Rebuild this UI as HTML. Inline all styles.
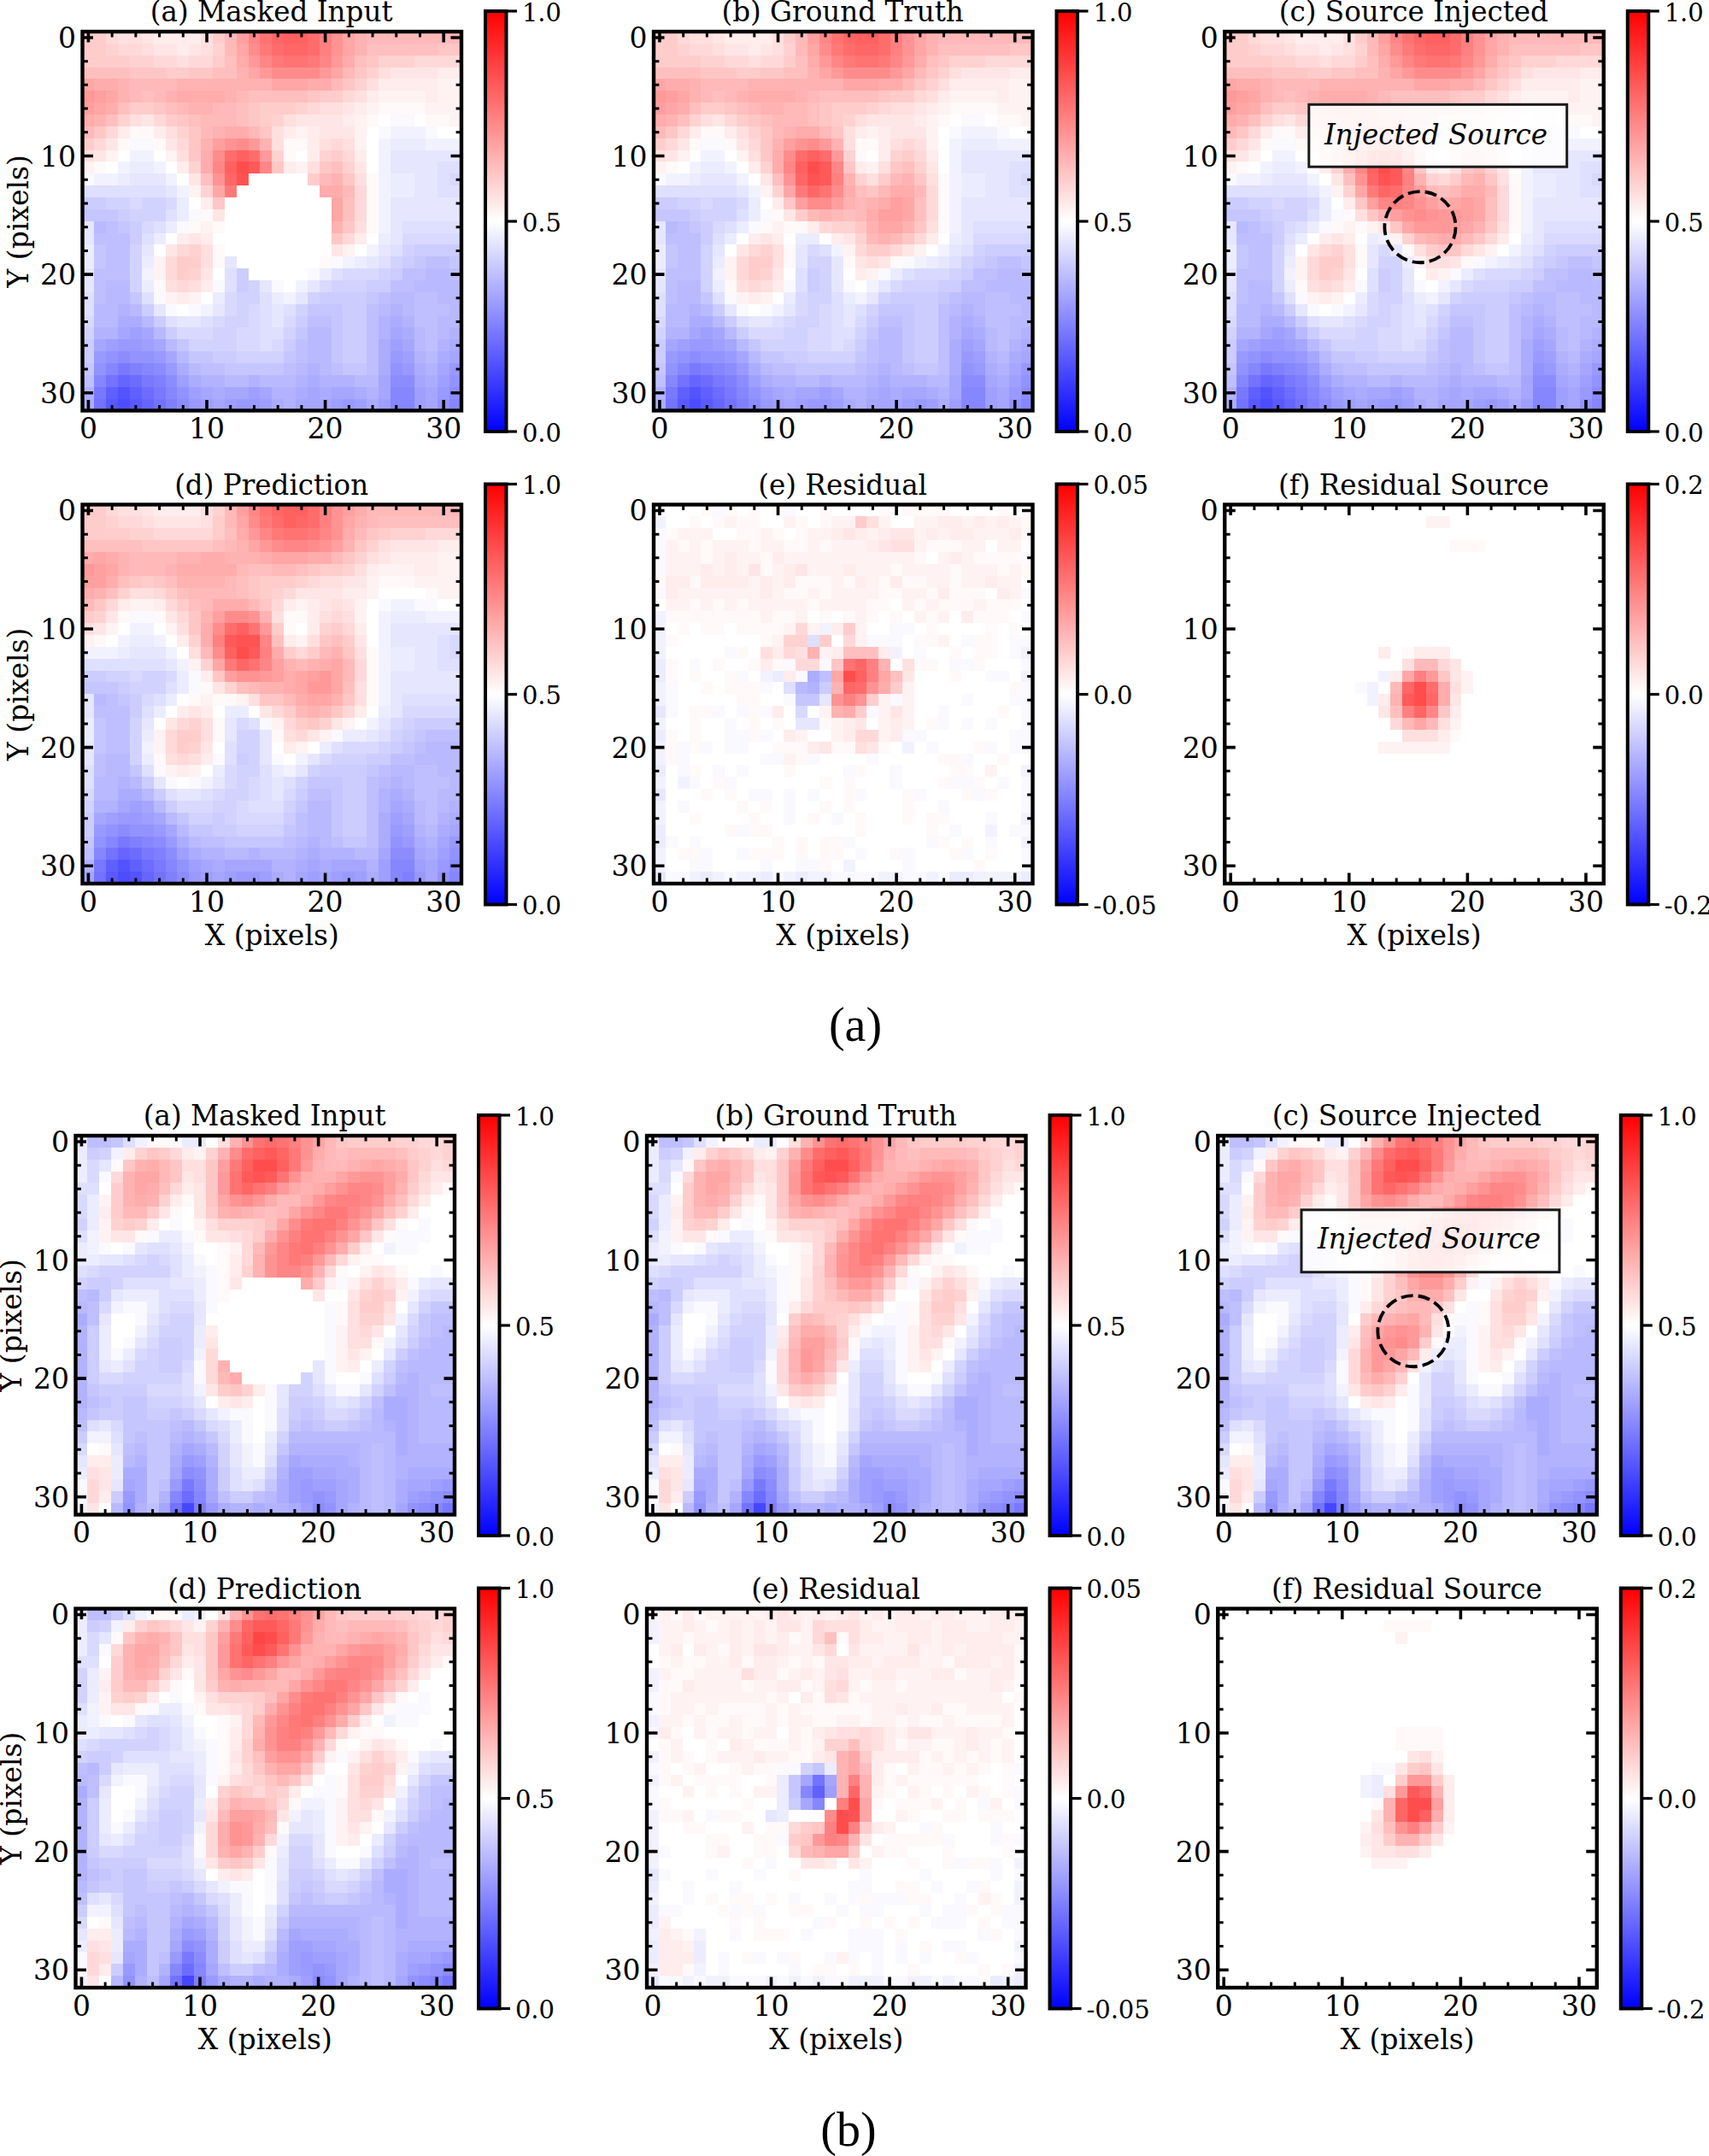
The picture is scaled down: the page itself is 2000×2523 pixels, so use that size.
<!DOCTYPE html>
<html><head><meta charset="utf-8"><title>figure</title>
<style>html,body{margin:0;padding:0;background:#fff}svg{display:block}text{font-family:'DejaVu Serif','Liberation Serif',serif;fill:#000}</style></head><body>
<svg width="2000" height="2523" viewBox="0 0 2000 2523">
<defs><linearGradient id="bwr" x1="0" y1="0" x2="0" y2="1"><stop offset="0" stop-color="#f00"/><stop offset="0.5" stop-color="#fff"/><stop offset="1" stop-color="#00f"/></linearGradient></defs>
<rect width="2000" height="2523" fill="#fff"/>
<svg x="96.50" y="37.00" width="443.50" height="443.50" viewBox="0 0 32 32" preserveAspectRatio="none" shape-rendering="crispEdges"><path fill="#4d4dff" d="M3 31h1v1h-1z"/><path fill="#5353ff" d="M3 30h1v1h-1z"/><path fill="#5959ff" d="M2 31h1v1h-1zM4 31h1v1h-1z"/><path fill="#6060ff" d="M2 30h1v1h-1zM4 30h1v1h-1z"/><path fill="#6666ff" d="M3 29h1v1h-1zM5 31h1v1h-1z"/><path fill="#6c6cff" d="M4 29h1v1h-1zM5 30h1v1h-1z"/><path fill="#7373ff" d="M2 29h1v1h-1zM1 31h1v1h-1zM6 31h1v1h-1z"/><path fill="#7979ff" d="M3 28h1v1h-1zM5 29h1v1h-1zM1 30h1v1h-1zM6 30h1v1h-1z"/><path fill="#8080ff" d="M4 28h1v1h-1zM6 29h1v1h-1zM7 31h1v1h-1z"/><path fill="#8686ff" d="M2 28h1v1h-1zM5 28h1v1h-1zM1 29h1v1h-1zM7 30h1v1h-1zM26 30h2v1h-2zM26 31h2v1h-2zM31 31h1v1h-1z"/><path fill="#8c8cff" d="M3 27h1v1h-1zM6 28h1v1h-1zM7 29h1v1h-1zM26 29h2v1h-2zM31 30h1v1h-1zM8 31h1v1h-1z"/><path fill="#9393ff" d="M2 27h1v1h-1zM4 27h2v1h-2zM1 28h1v1h-1zM26 28h1v1h-1zM31 29h1v1h-1zM8 30h1v1h-1zM30 31h1v1h-1z"/><path fill="#9999ff" d="M3 26h2v1h-2zM1 27h1v1h-1zM6 27h1v1h-1zM26 27h1v1h-1zM7 28h1v1h-1zM27 28h1v1h-1zM31 28h1v1h-1zM30 30h1v1h-1zM9 31h1v1h-1zM13 31h2v1h-2zM22 31h1v1h-1z"/><path fill="#9f9fff" d="M4 25h1v1h-1zM2 26h1v1h-1zM5 26h1v1h-1zM26 26h1v1h-1zM27 27h1v1h-1zM8 29h1v1h-1zM30 29h1v1h-1zM9 30h1v1h-1zM14 30h1v1h-1zM28 30h1v1h-1zM10 31h1v1h-1zM12 31h1v1h-1zM15 31h1v1h-1zM21 31h1v1h-1zM23 31h1v1h-1zM25 31h1v1h-1zM28 31h1v1h-1z"/><path fill="#a6a6ff" d="M3 25h1v1h-1zM5 25h1v1h-1zM26 25h1v1h-1zM1 26h1v1h-1zM6 26h1v1h-1zM27 26h1v1h-1zM7 27h1v1h-1zM31 27h1v1h-1zM30 28h1v1h-1zM25 29h1v1h-1zM28 29h1v1h-1zM10 30h1v1h-1zM12 30h2v1h-2zM15 30h1v1h-1zM19 30h1v1h-1zM21 30h2v1h-2zM25 30h1v1h-1zM29 30h1v1h-1zM11 31h1v1h-1zM18 31h3v1h-3zM29 31h1v1h-1z"/><path fill="#acacff" d="M3 24h2v1h-2zM26 24h1v1h-1zM27 25h1v1h-1zM25 26h1v1h-1zM31 26h1v1h-1zM25 27h1v1h-1zM30 27h1v1h-1zM8 28h1v1h-1zM25 28h1v1h-1zM28 28h1v1h-1zM9 29h1v1h-1zM19 29h1v1h-1zM29 29h1v1h-1zM11 30h1v1h-1zM18 30h1v1h-1zM20 30h1v1h-1zM23 30h1v1h-1zM0 31h1v1h-1zM16 31h1v1h-1zM24 31h1v1h-1z"/><path fill="#b2b2ff" d="M3 23h1v1h-1zM26 23h1v1h-1zM25 24h1v1h-1zM27 24h1v1h-1zM1 25h2v1h-2zM25 25h1v1h-1zM31 25h1v1h-1zM30 26h1v1h-1zM28 27h1v1h-1zM19 28h1v1h-1zM29 28h1v1h-1zM10 29h2v1h-2zM14 29h1v1h-1zM18 29h1v1h-1zM20 29h3v1h-3zM0 30h1v1h-1zM16 30h2v1h-2zM24 30h1v1h-1zM17 31h1v1h-1z"/><path fill="#b9b9ff" d="M1 16h1v1h-1zM29 20h2v1h-2zM2 21h2v1h-2zM28 21h4v1h-4zM2 22h2v1h-2zM26 22h2v1h-2zM30 22h2v1h-2zM1 23h2v1h-2zM4 23h1v1h-1zM25 23h1v1h-1zM27 23h1v1h-1zM31 23h1v1h-1zM1 24h2v1h-2zM5 24h1v1h-1zM30 24h2v1h-2zM6 25h1v1h-1zM19 25h2v1h-2zM28 25h1v1h-1zM30 25h1v1h-1zM7 26h1v1h-1zM19 26h2v1h-2zM28 26h1v1h-1zM8 27h1v1h-1zM19 27h2v1h-2zM29 27h1v1h-1zM9 28h1v1h-1zM18 28h1v1h-1zM20 28h1v1h-1zM12 29h2v1h-2zM15 29h3v1h-3zM23 29h2v1h-2z"/><path fill="#bfbfff" d="M2 16h1v1h-1zM1 17h3v1h-3zM2 18h2v1h-2zM2 19h2v1h-2zM29 19h2v1h-2zM1 20h3v1h-3zM27 20h2v1h-2zM31 20h1v1h-1zM1 21h1v1h-1zM26 21h2v1h-2zM1 22h1v1h-1zM25 22h1v1h-1zM28 22h2v1h-2zM24 23h1v1h-1zM28 23h3v1h-3zM19 24h2v1h-2zM24 24h1v1h-1zM28 24h2v1h-2zM24 25h1v1h-1zM29 25h1v1h-1zM18 26h1v1h-1zM24 26h1v1h-1zM29 26h1v1h-1zM18 27h1v1h-1zM24 27h1v1h-1zM10 28h2v1h-2zM17 28h1v1h-1zM21 28h1v1h-1zM24 28h1v1h-1zM0 29h1v1h-1z"/><path fill="#c6c6ff" d="M0 15h3v1h-3zM3 16h1v1h-1zM1 18h1v1h-1zM1 19h1v1h-1zM28 19h1v1h-1zM31 19h1v1h-1zM4 22h1v1h-1zM24 22h1v1h-1zM19 23h3v1h-3zM21 24h1v1h-1zM18 25h1v1h-1zM21 25h1v1h-1zM8 26h1v1h-1zM21 26h1v1h-1zM9 27h2v1h-2zM17 27h1v1h-1zM21 27h1v1h-1zM0 28h1v1h-1zM12 28h5v1h-5zM22 28h2v1h-2z"/><path fill="#ccccff" d="M0 14h2v1h-2zM3 15h1v1h-1zM4 16h1v1h-1zM4 17h1v1h-1zM28 18h4v1h-4zM27 19h1v1h-1zM13 20h1v1h-1zM26 20h1v1h-1zM13 21h1v1h-1zM24 21h2v1h-2zM20 22h4v1h-4zM5 23h1v1h-1zM22 23h2v1h-2zM6 24h1v1h-1zM18 24h1v1h-1zM22 24h2v1h-2zM7 25h1v1h-1zM22 25h2v1h-2zM0 26h1v1h-1zM17 26h1v1h-1zM22 26h2v1h-2zM0 27h1v1h-1zM11 27h2v1h-2zM22 27h2v1h-2z"/><path fill="#d2d2ff" d="M2 14h2v1h-2zM5 14h2v1h-2zM4 15h3v1h-3zM4 18h1v1h-1zM27 18h1v1h-1zM4 19h1v1h-1zM26 19h1v1h-1zM4 20h1v1h-1zM25 20h1v1h-1zM4 21h1v1h-1zM14 21h1v1h-1zM21 21h3v1h-3zM13 22h2v1h-2zM19 22h1v1h-1zM13 23h1v1h-1zM18 23h1v1h-1zM12 24h2v1h-2zM0 25h1v1h-1zM11 25h2v1h-2zM17 25h1v1h-1zM9 26h4v1h-4zM13 27h4v1h-4z"/><path fill="#d9d9ff" d="M31 12h1v1h-1zM4 14h1v1h-1zM7 14h1v1h-1zM5 16h1v1h-1zM27 17h5v1h-5zM22 20h3v1h-3zM20 21h1v1h-1zM12 22h1v1h-1zM12 23h1v1h-1zM14 23h1v1h-1zM0 24h1v1h-1zM11 24h1v1h-1zM14 24h1v1h-1zM17 24h1v1h-1zM8 25h3v1h-3zM13 25h2v1h-2zM13 26h2v1h-2zM16 26h1v1h-1z"/><path fill="#dfdfff" d="M30 11h2v1h-2zM30 12h1v1h-1zM0 13h7v1h-7zM30 13h2v1h-2zM7 15h1v1h-1zM6 16h1v1h-1zM27 16h5v1h-5zM5 17h1v1h-1zM26 18h1v1h-1zM25 19h1v1h-1zM12 20h1v1h-1zM21 20h1v1h-1zM12 21h1v1h-1zM0 22h1v1h-1zM5 22h1v1h-1zM15 22h1v1h-1zM0 23h1v1h-1zM15 23h1v1h-1zM17 23h1v1h-1zM7 24h1v1h-1zM10 24h1v1h-1zM15 24h1v1h-1zM15 25h2v1h-2zM15 26h1v1h-1z"/><path fill="#e6e6ff" d="M26 10h6v1h-6zM26 11h4v1h-4zM4 12h3v1h-3zM28 12h2v1h-2zM7 13h1v1h-1zM28 13h2v1h-2zM26 14h6v1h-6zM26 15h6v1h-6zM0 16h1v1h-1zM26 16h1v1h-1zM0 17h1v1h-1zM26 17h1v1h-1zM5 18h1v1h-1zM25 18h1v1h-1zM12 19h1v1h-1zM24 19h1v1h-1zM0 20h1v1h-1zM0 21h1v1h-1zM15 21h1v1h-1zM19 21h1v1h-1zM18 22h1v1h-1zM6 23h1v1h-1zM11 23h1v1h-1zM16 23h1v1h-1zM8 24h2v1h-2zM16 24h1v1h-1z"/><path fill="#ececff" d="M26 9h3v1h-3zM4 11h2v1h-2zM3 12h1v1h-1zM26 12h2v1h-2zM26 13h2v1h-2zM8 14h1v1h-1zM8 15h1v1h-1zM7 16h1v1h-1zM6 17h1v1h-1zM25 17h1v1h-1zM0 18h1v1h-1zM0 19h1v1h-1zM5 19h1v1h-1zM23 19h1v1h-1zM20 20h1v1h-1zM5 21h1v1h-1zM11 22h1v1h-1zM16 22h1v1h-1z"/><path fill="#f2f2ff" d="M26 8h3v1h-3zM25 9h1v1h-1zM29 9h3v1h-3zM4 10h2v1h-2zM25 10h1v1h-1zM3 11h1v1h-1zM6 11h1v1h-1zM25 11h1v1h-1zM1 12h2v1h-2zM7 12h1v1h-1zM25 12h1v1h-1zM8 13h1v1h-1zM25 13h1v1h-1zM25 14h1v1h-1zM25 15h1v1h-1zM25 16h1v1h-1zM24 18h1v1h-1zM22 19h1v1h-1zM5 20h1v1h-1zM18 21h1v1h-1zM17 22h1v1h-1zM10 23h1v1h-1z"/><path fill="#f9f9ff" d="M26 7h2v1h-2zM25 8h1v1h-1zM29 8h1v1h-1zM4 9h2v1h-2zM0 12h1v1h-1zM9 15h1v1h-1zM8 16h1v1h-1zM21 19h1v1h-1zM19 20h1v1h-1zM11 21h1v1h-1zM16 21h1v1h-1zM6 22h1v1h-1zM7 23h1v1h-1zM9 23h1v1h-1z"/><path fill="#fff9f9" d="M25 6h4v1h-4zM24 7h1v1h-1zM29 7h2v1h-2zM4 8h2v1h-2zM3 9h1v1h-1zM6 9h1v1h-1zM17 9h2v1h-2zM17 10h1v1h-1zM1 11h1v1h-1zM24 12h1v1h-1zM24 13h1v1h-1zM24 14h1v1h-1zM10 15h1v1h-1zM24 15h1v1h-1zM9 16h1v1h-1zM11 16h1v1h-1zM24 16h1v1h-1zM11 18h1v1h-1zM11 19h1v1h-1zM20 19h1v1h-1zM6 21h1v1h-1z"/><path fill="#fff2f2" d="M30 4h2v1h-2zM25 5h4v1h-4zM30 5h2v1h-2zM24 6h1v1h-1zM29 6h3v1h-3zM23 7h1v1h-1zM31 7h1v1h-1zM18 8h1v1h-1zM23 8h1v1h-1zM23 9h1v1h-1zM2 10h1v1h-1zM7 10h1v1h-1zM0 11h1v1h-1zM18 11h1v1h-1zM9 13h1v1h-1zM10 16h1v1h-1zM22 18h1v1h-1zM6 19h1v1h-1zM6 20h1v1h-1zM7 22h1v1h-1zM9 22h1v1h-1z"/><path fill="#ffecec" d="M6 0h4v1h-4zM8 1h1v1h-1zM30 3h2v1h-2zM25 4h5v1h-5zM24 5h1v1h-1zM29 5h1v1h-1zM23 6h1v1h-1zM22 7h1v1h-1zM3 8h1v1h-1zM6 8h1v1h-1zM17 8h1v1h-1zM19 8h1v1h-1zM19 9h1v1h-1zM19 10h1v1h-1zM23 10h1v1h-1zM8 11h1v1h-1zM17 11h1v1h-1zM10 14h1v1h-1zM8 17h1v1h-1zM10 17h1v1h-1zM23 17h1v1h-1zM10 21h1v1h-1zM8 22h1v1h-1z"/><path fill="#ffe6e6" d="M5 0h1v1h-1zM6 1h2v1h-2zM9 1h1v1h-1zM26 3h4v1h-4zM22 6h1v1h-1zM5 7h1v1h-1zM18 7h4v1h-4zM20 8h3v1h-3zM2 9h1v1h-1zM7 9h1v1h-1zM1 10h1v1h-1zM23 11h1v1h-1zM9 12h1v1h-1zM11 15h1v1h-1zM9 17h1v1h-1zM7 18h1v1h-1zM21 18h1v1h-1zM10 20h1v1h-1z"/><path fill="#ffdfdf" d="M3 0h2v1h-2zM10 0h1v1h-1zM5 1h1v1h-1zM10 1h1v1h-1zM8 2h1v1h-1zM25 3h1v1h-1zM24 4h1v1h-1zM23 5h1v1h-1zM20 6h2v1h-2zM4 7h1v1h-1zM17 7h1v1h-1zM7 8h1v1h-1zM16 8h1v1h-1zM16 9h1v1h-1zM20 9h1v1h-1zM22 9h1v1h-1zM0 10h1v1h-1zM8 10h1v1h-1zM19 11h1v1h-1zM23 12h1v1h-1zM23 16h1v1h-1zM10 18h1v1h-1zM10 19h1v1h-1zM7 21h1v1h-1zM9 21h1v1h-1z"/><path fill="#ffd9d9" d="M2 0h1v1h-1zM3 1h2v1h-2zM6 2h2v1h-2zM9 2h2v1h-2zM28 2h4v1h-4zM22 5h1v1h-1zM19 6h1v1h-1zM6 7h1v1h-1zM2 8h1v1h-1zM1 9h1v1h-1zM8 9h1v1h-1zM21 9h1v1h-1zM22 10h1v1h-1zM23 13h1v1h-1zM23 14h1v1h-1zM23 15h1v1h-1zM22 17h1v1h-1zM8 18h1v1h-1zM7 19h1v1h-1zM7 20h1v1h-1zM8 21h1v1h-1z"/><path fill="#ffd2d2" d="M2 1h1v1h-1zM11 1h1v1h-1zM4 2h2v1h-2zM25 2h3v1h-3zM24 3h1v1h-1zM23 4h1v1h-1zM18 6h1v1h-1zM3 7h1v1h-1zM16 7h1v1h-1zM8 8h1v1h-1zM16 10h1v1h-1zM20 10h1v1h-1zM9 11h1v1h-1zM22 11h1v1h-1zM10 13h1v1h-1zM9 18h1v1h-1zM9 20h1v1h-1z"/><path fill="#ffcccc" d="M0 0h2v1h-2zM11 0h1v1h-1zM0 1h2v1h-2zM0 2h4v1h-4zM11 2h1v1h-1zM7 3h2v1h-2zM20 5h2v1h-2zM4 6h2v1h-2zM15 6h3v1h-3zM7 7h1v1h-1zM15 7h1v1h-1zM0 9h1v1h-1zM21 10h1v1h-1zM19 12h1v1h-1zM8 19h2v1h-2zM8 20h1v1h-1z"/><path fill="#ffc6c6" d="M30 1h2v1h-2zM24 2h1v1h-1zM4 3h3v1h-3zM9 3h2v1h-2zM23 3h1v1h-1zM22 4h1v1h-1zM19 5h1v1h-1zM6 6h1v1h-1zM14 6h1v1h-1zM8 7h1v1h-1zM14 7h1v1h-1zM1 8h1v1h-1zM9 8h1v1h-1zM15 8h1v1h-1zM9 9h1v1h-1zM9 10h1v1h-1zM16 11h1v1h-1zM20 11h1v1h-1zM22 12h1v1h-1zM11 14h1v1h-1zM22 16h1v1h-1zM21 17h1v1h-1z"/><path fill="#ffbfbf" d="M24 1h6v1h-6zM12 2h1v1h-1zM23 2h1v1h-1zM0 3h4v1h-4zM11 3h2v1h-2zM5 5h1v1h-1zM14 5h5v1h-5zM3 6h1v1h-1zM7 6h1v1h-1zM13 6h1v1h-1zM2 7h1v1h-1zM9 7h1v1h-1zM13 7h1v1h-1zM21 11h1v1h-1zM10 12h1v1h-1zM22 14h1v1h-1zM22 15h1v1h-1z"/><path fill="#ffb9b9" d="M12 0h1v1h-1zM24 0h8v1h-8zM12 1h1v1h-1zM22 3h1v1h-1zM4 4h4v1h-4zM21 4h1v1h-1zM4 5h1v1h-1zM6 5h1v1h-1zM13 5h1v1h-1zM8 6h1v1h-1zM11 6h2v1h-2zM10 7h3v1h-3zM0 8h1v1h-1zM10 8h1v1h-1zM14 8h1v1h-1zM20 12h1v1h-1zM22 13h1v1h-1z"/><path fill="#ffb2b2" d="M23 0h1v1h-1zM23 1h1v1h-1zM13 3h1v1h-1zM3 4h1v1h-1zM8 4h8v1h-8zM3 5h1v1h-1zM7 5h1v1h-1zM12 5h1v1h-1zM9 6h2v1h-2zM1 7h1v1h-1zM11 8h1v1h-1zM10 9h1v1h-1zM15 9h1v1h-1zM21 12h1v1h-1zM21 16h1v1h-1z"/><path fill="#ffacac" d="M13 2h1v1h-1zM22 2h1v1h-1zM1 4h2v1h-2zM19 4h2v1h-2zM8 5h4v1h-4zM2 6h1v1h-1zM0 7h1v1h-1zM12 8h2v1h-2zM10 10h1v1h-1zM10 11h1v1h-1zM20 13h2v1h-2z"/><path fill="#ffa6a6" d="M22 0h1v1h-1zM13 1h1v1h-1zM22 1h1v1h-1zM14 3h1v1h-1zM21 3h1v1h-1zM0 4h1v1h-1zM16 4h3v1h-3zM2 5h1v1h-1zM1 6h1v1h-1zM11 13h1v1h-1zM21 14h1v1h-1zM21 15h1v1h-1z"/><path fill="#ff9f9f" d="M13 0h1v1h-1zM1 5h1v1h-1zM0 6h1v1h-1zM11 9h1v1h-1z"/><path fill="#ff9999" d="M14 2h1v1h-1zM21 2h1v1h-1zM15 3h1v1h-1zM20 3h1v1h-1zM0 5h1v1h-1zM14 9h1v1h-1zM15 10h1v1h-1z"/><path fill="#ff9393" d="M21 0h1v1h-1zM21 1h1v1h-1zM12 9h1v1h-1zM11 12h1v1h-1z"/><path fill="#ff8c8c" d="M14 1h1v1h-1zM16 3h4v1h-4zM13 9h1v1h-1zM11 10h1v1h-1z"/><path fill="#ff8686" d="M14 0h1v1h-1zM15 2h1v1h-1zM20 2h1v1h-1zM11 11h1v1h-1zM15 11h1v1h-1z"/><path fill="#ff8080" d="M20 0h1v1h-1zM20 1h1v1h-1z"/><path fill="#ff7979" d="M15 1h1v1h-1zM16 2h1v1h-1zM19 2h1v1h-1zM12 13h1v1h-1z"/><path fill="#ff7373" d="M15 0h1v1h-1zM17 2h2v1h-2z"/><path fill="#ff6c6c" d="M19 0h1v1h-1zM16 1h1v1h-1zM19 1h1v1h-1zM12 10h1v1h-1zM14 10h1v1h-1z"/><path fill="#ff6666" d="M16 0h1v1h-1zM17 1h2v1h-2zM12 12h1v1h-1z"/><path fill="#ff6060" d="M17 0h2v1h-2zM13 10h1v1h-1zM12 11h1v1h-1z"/><path fill="#ff5959" d="M14 11h1v1h-1z"/><path fill="#ff5353" d="M13 12h1v1h-1z"/><path fill="#ff4d4d" d="M13 11h1v1h-1z"/></svg>
<path d="M103.43 37.00v12.5M103.43 480.50v-12.5M96.50 43.93h12.5M540.00 43.93h-12.5M242.02 37.00v12.5M242.02 480.50v-12.5M96.50 182.52h12.5M540.00 182.52h-12.5M380.62 37.00v12.5M380.62 480.50v-12.5M96.50 321.12h12.5M540.00 321.12h-12.5M519.21 37.00v12.5M519.21 480.50v-12.5M96.50 459.71h12.5M540.00 459.71h-12.5" stroke="#000" stroke-width="3.6" fill="none"/>
<path d="M131.15 37.00v6.4M131.15 480.50v-6.4M96.50 71.65h6.4M540.00 71.65h-6.4M158.87 37.00v6.4M158.87 480.50v-6.4M96.50 99.37h6.4M540.00 99.37h-6.4M186.59 37.00v6.4M186.59 480.50v-6.4M96.50 127.09h6.4M540.00 127.09h-6.4M214.30 37.00v6.4M214.30 480.50v-6.4M96.50 154.80h6.4M540.00 154.80h-6.4M269.74 37.00v6.4M269.74 480.50v-6.4M96.50 210.24h6.4M540.00 210.24h-6.4M297.46 37.00v6.4M297.46 480.50v-6.4M96.50 237.96h6.4M540.00 237.96h-6.4M325.18 37.00v6.4M325.18 480.50v-6.4M96.50 265.68h6.4M540.00 265.68h-6.4M352.90 37.00v6.4M352.90 480.50v-6.4M96.50 293.40h6.4M540.00 293.40h-6.4M408.34 37.00v6.4M408.34 480.50v-6.4M96.50 348.84h6.4M540.00 348.84h-6.4M436.05 37.00v6.4M436.05 480.50v-6.4M96.50 376.55h6.4M540.00 376.55h-6.4M463.77 37.00v6.4M463.77 480.50v-6.4M96.50 404.27h6.4M540.00 404.27h-6.4M491.49 37.00v6.4M491.49 480.50v-6.4M96.50 431.99h6.4M540.00 431.99h-6.4" stroke="#000" stroke-width="3" fill="none"/>
<rect x="96.50" y="37.00" width="443.50" height="443.50" fill="none" stroke="#000" stroke-width="4.4"/>
<text x="103.43" y="513.00" text-anchor="middle" font-size="33">0</text>
<text x="89.00" y="55.93" text-anchor="end" font-size="33">0</text>
<text x="242.02" y="513.00" text-anchor="middle" font-size="33">10</text>
<text x="89.00" y="194.52" text-anchor="end" font-size="33">10</text>
<text x="380.62" y="513.00" text-anchor="middle" font-size="33">20</text>
<text x="89.00" y="333.12" text-anchor="end" font-size="33">20</text>
<text x="519.21" y="513.00" text-anchor="middle" font-size="33">30</text>
<text x="89.00" y="471.71" text-anchor="end" font-size="33">30</text>
<text x="317.65" y="25.00" text-anchor="middle" font-size="32.6">(a) Masked Input</text>
<text transform="translate(33.20 258.75) rotate(-90)" text-anchor="middle" font-size="33">Y (pixels)</text>
<rect x="568.00" y="13.00" width="24.50" height="492.00" fill="url(#bwr)" stroke="#000" stroke-width="4"/>
<path d="M592.50 13.00h12.5" stroke="#000" stroke-width="3.2"/>
<text x="610.90" y="24.80" font-size="29">1.0</text>
<path d="M592.50 259.00h12.5" stroke="#000" stroke-width="3.2"/>
<text x="610.90" y="270.80" font-size="29">0.5</text>
<path d="M592.50 505.00h12.5" stroke="#000" stroke-width="3.2"/>
<text x="610.90" y="516.80" font-size="29">0.0</text>
<svg x="765.00" y="37.00" width="443.50" height="443.50" viewBox="0 0 32 32" preserveAspectRatio="none" shape-rendering="crispEdges"><path fill="#4d4dff" d="M3 31h1v1h-1z"/><path fill="#5353ff" d="M3 30h1v1h-1z"/><path fill="#5959ff" d="M2 31h1v1h-1zM4 31h1v1h-1z"/><path fill="#6060ff" d="M2 30h1v1h-1zM4 30h1v1h-1z"/><path fill="#6666ff" d="M3 29h1v1h-1zM5 31h1v1h-1z"/><path fill="#6c6cff" d="M4 29h1v1h-1zM5 30h1v1h-1z"/><path fill="#7373ff" d="M2 29h1v1h-1zM1 31h1v1h-1zM6 31h1v1h-1z"/><path fill="#7979ff" d="M3 28h1v1h-1zM5 29h1v1h-1zM1 30h1v1h-1zM6 30h1v1h-1z"/><path fill="#8080ff" d="M4 28h1v1h-1zM6 29h1v1h-1zM7 31h1v1h-1z"/><path fill="#8686ff" d="M2 28h1v1h-1zM5 28h1v1h-1zM1 29h1v1h-1zM7 30h1v1h-1zM26 30h2v1h-2zM26 31h2v1h-2zM31 31h1v1h-1z"/><path fill="#8c8cff" d="M3 27h1v1h-1zM6 28h1v1h-1zM7 29h1v1h-1zM26 29h2v1h-2zM31 30h1v1h-1zM8 31h1v1h-1z"/><path fill="#9393ff" d="M2 27h1v1h-1zM4 27h2v1h-2zM1 28h1v1h-1zM26 28h1v1h-1zM31 29h1v1h-1zM8 30h1v1h-1zM30 31h1v1h-1z"/><path fill="#9999ff" d="M3 26h2v1h-2zM1 27h1v1h-1zM6 27h1v1h-1zM26 27h1v1h-1zM7 28h1v1h-1zM27 28h1v1h-1zM31 28h1v1h-1zM30 30h1v1h-1zM9 31h1v1h-1zM13 31h2v1h-2zM22 31h1v1h-1z"/><path fill="#9f9fff" d="M4 25h1v1h-1zM2 26h1v1h-1zM5 26h1v1h-1zM26 26h1v1h-1zM27 27h1v1h-1zM8 29h1v1h-1zM30 29h1v1h-1zM9 30h1v1h-1zM14 30h1v1h-1zM28 30h1v1h-1zM10 31h1v1h-1zM12 31h1v1h-1zM15 31h1v1h-1zM21 31h1v1h-1zM23 31h1v1h-1zM25 31h1v1h-1zM28 31h1v1h-1z"/><path fill="#a6a6ff" d="M3 25h1v1h-1zM5 25h1v1h-1zM26 25h1v1h-1zM1 26h1v1h-1zM6 26h1v1h-1zM27 26h1v1h-1zM7 27h1v1h-1zM31 27h1v1h-1zM30 28h1v1h-1zM25 29h1v1h-1zM28 29h1v1h-1zM10 30h1v1h-1zM12 30h2v1h-2zM15 30h1v1h-1zM19 30h1v1h-1zM21 30h2v1h-2zM25 30h1v1h-1zM29 30h1v1h-1zM11 31h1v1h-1zM18 31h3v1h-3zM29 31h1v1h-1z"/><path fill="#acacff" d="M3 24h2v1h-2zM26 24h1v1h-1zM27 25h1v1h-1zM25 26h1v1h-1zM31 26h1v1h-1zM25 27h1v1h-1zM30 27h1v1h-1zM8 28h1v1h-1zM25 28h1v1h-1zM28 28h1v1h-1zM9 29h1v1h-1zM19 29h1v1h-1zM29 29h1v1h-1zM11 30h1v1h-1zM18 30h1v1h-1zM20 30h1v1h-1zM23 30h1v1h-1zM0 31h1v1h-1zM16 31h1v1h-1zM24 31h1v1h-1z"/><path fill="#b2b2ff" d="M3 23h1v1h-1zM26 23h1v1h-1zM25 24h1v1h-1zM27 24h1v1h-1zM1 25h2v1h-2zM25 25h1v1h-1zM31 25h1v1h-1zM30 26h1v1h-1zM28 27h1v1h-1zM19 28h1v1h-1zM29 28h1v1h-1zM10 29h2v1h-2zM14 29h1v1h-1zM18 29h1v1h-1zM20 29h3v1h-3zM0 30h1v1h-1zM16 30h2v1h-2zM24 30h1v1h-1zM17 31h1v1h-1z"/><path fill="#b9b9ff" d="M1 16h1v1h-1zM29 20h2v1h-2zM2 21h2v1h-2zM28 21h4v1h-4zM2 22h2v1h-2zM26 22h2v1h-2zM30 22h2v1h-2zM1 23h2v1h-2zM4 23h1v1h-1zM25 23h1v1h-1zM27 23h1v1h-1zM31 23h1v1h-1zM1 24h2v1h-2zM5 24h1v1h-1zM30 24h2v1h-2zM6 25h1v1h-1zM19 25h2v1h-2zM28 25h1v1h-1zM30 25h1v1h-1zM7 26h1v1h-1zM19 26h2v1h-2zM28 26h1v1h-1zM8 27h1v1h-1zM19 27h2v1h-2zM29 27h1v1h-1zM9 28h1v1h-1zM18 28h1v1h-1zM20 28h1v1h-1zM12 29h2v1h-2zM15 29h3v1h-3zM23 29h2v1h-2z"/><path fill="#bfbfff" d="M2 16h1v1h-1zM1 17h3v1h-3zM2 18h2v1h-2zM2 19h2v1h-2zM29 19h2v1h-2zM1 20h3v1h-3zM27 20h2v1h-2zM31 20h1v1h-1zM1 21h1v1h-1zM26 21h2v1h-2zM1 22h1v1h-1zM25 22h1v1h-1zM28 22h2v1h-2zM24 23h1v1h-1zM28 23h3v1h-3zM19 24h2v1h-2zM24 24h1v1h-1zM28 24h2v1h-2zM24 25h1v1h-1zM29 25h1v1h-1zM18 26h1v1h-1zM24 26h1v1h-1zM29 26h1v1h-1zM18 27h1v1h-1zM24 27h1v1h-1zM10 28h2v1h-2zM17 28h1v1h-1zM21 28h1v1h-1zM24 28h1v1h-1zM0 29h1v1h-1z"/><path fill="#c6c6ff" d="M0 15h3v1h-3zM3 16h1v1h-1zM1 18h1v1h-1zM1 19h1v1h-1zM28 19h1v1h-1zM31 19h1v1h-1zM4 22h1v1h-1zM24 22h1v1h-1zM19 23h3v1h-3zM21 24h1v1h-1zM18 25h1v1h-1zM21 25h1v1h-1zM8 26h1v1h-1zM21 26h1v1h-1zM9 27h2v1h-2zM17 27h1v1h-1zM21 27h1v1h-1zM0 28h1v1h-1zM12 28h5v1h-5zM22 28h2v1h-2z"/><path fill="#ccccff" d="M0 14h2v1h-2zM3 15h1v1h-1zM4 16h1v1h-1zM4 17h1v1h-1zM28 18h4v1h-4zM27 19h1v1h-1zM13 20h1v1h-1zM26 20h1v1h-1zM13 21h1v1h-1zM24 21h2v1h-2zM20 22h4v1h-4zM5 23h1v1h-1zM22 23h2v1h-2zM6 24h1v1h-1zM18 24h1v1h-1zM22 24h2v1h-2zM7 25h1v1h-1zM22 25h2v1h-2zM0 26h1v1h-1zM17 26h1v1h-1zM22 26h2v1h-2zM0 27h1v1h-1zM11 27h2v1h-2zM22 27h2v1h-2z"/><path fill="#d2d2ff" d="M2 14h2v1h-2zM5 14h2v1h-2zM4 15h3v1h-3zM4 18h1v1h-1zM27 18h1v1h-1zM4 19h1v1h-1zM13 19h2v1h-2zM26 19h1v1h-1zM4 20h1v1h-1zM14 20h1v1h-1zM25 20h1v1h-1zM4 21h1v1h-1zM14 21h1v1h-1zM21 21h3v1h-3zM13 22h2v1h-2zM19 22h1v1h-1zM13 23h1v1h-1zM18 23h1v1h-1zM12 24h2v1h-2zM0 25h1v1h-1zM11 25h2v1h-2zM17 25h1v1h-1zM9 26h4v1h-4zM13 27h4v1h-4z"/><path fill="#d9d9ff" d="M31 12h1v1h-1zM4 14h1v1h-1zM7 14h1v1h-1zM5 16h1v1h-1zM27 17h5v1h-5zM13 18h1v1h-1zM22 20h3v1h-3zM20 21h1v1h-1zM12 22h1v1h-1zM12 23h1v1h-1zM14 23h1v1h-1zM0 24h1v1h-1zM11 24h1v1h-1zM14 24h1v1h-1zM17 24h1v1h-1zM8 25h3v1h-3zM13 25h2v1h-2zM13 26h2v1h-2zM16 26h1v1h-1z"/><path fill="#dfdfff" d="M30 11h2v1h-2zM30 12h1v1h-1zM0 13h7v1h-7zM30 13h2v1h-2zM7 15h1v1h-1zM6 16h1v1h-1zM27 16h5v1h-5zM5 17h1v1h-1zM14 18h1v1h-1zM26 18h1v1h-1zM25 19h1v1h-1zM12 20h1v1h-1zM21 20h1v1h-1zM12 21h1v1h-1zM0 22h1v1h-1zM5 22h1v1h-1zM15 22h1v1h-1zM0 23h1v1h-1zM15 23h1v1h-1zM17 23h1v1h-1zM7 24h1v1h-1zM10 24h1v1h-1zM15 24h1v1h-1zM15 25h2v1h-2zM15 26h1v1h-1z"/><path fill="#e6e6ff" d="M26 10h6v1h-6zM26 11h4v1h-4zM4 12h3v1h-3zM28 12h2v1h-2zM7 13h1v1h-1zM28 13h2v1h-2zM26 14h6v1h-6zM26 15h6v1h-6zM0 16h1v1h-1zM26 16h1v1h-1zM0 17h1v1h-1zM26 17h1v1h-1zM5 18h1v1h-1zM12 18h1v1h-1zM25 18h1v1h-1zM12 19h1v1h-1zM15 19h1v1h-1zM24 19h1v1h-1zM0 20h1v1h-1zM15 20h1v1h-1zM0 21h1v1h-1zM15 21h1v1h-1zM19 21h1v1h-1zM18 22h1v1h-1zM6 23h1v1h-1zM11 23h1v1h-1zM16 23h1v1h-1zM8 24h2v1h-2zM16 24h1v1h-1z"/><path fill="#ececff" d="M26 9h3v1h-3zM4 11h2v1h-2zM3 12h1v1h-1zM26 12h2v1h-2zM26 13h2v1h-2zM8 14h1v1h-1zM8 15h1v1h-1zM7 16h1v1h-1zM6 17h1v1h-1zM12 17h2v1h-2zM25 17h1v1h-1zM0 18h1v1h-1zM0 19h1v1h-1zM5 19h1v1h-1zM23 19h1v1h-1zM20 20h1v1h-1zM5 21h1v1h-1zM11 22h1v1h-1zM16 22h1v1h-1z"/><path fill="#f2f2ff" d="M26 8h3v1h-3zM25 9h1v1h-1zM29 9h3v1h-3zM4 10h2v1h-2zM25 10h1v1h-1zM3 11h1v1h-1zM6 11h1v1h-1zM25 11h1v1h-1zM1 12h2v1h-2zM7 12h1v1h-1zM25 12h1v1h-1zM8 13h1v1h-1zM25 13h1v1h-1zM25 14h1v1h-1zM25 15h1v1h-1zM25 16h1v1h-1zM15 18h1v1h-1zM24 18h1v1h-1zM22 19h1v1h-1zM5 20h1v1h-1zM18 21h1v1h-1zM17 22h1v1h-1zM10 23h1v1h-1z"/><path fill="#f9f9ff" d="M26 7h2v1h-2zM25 8h1v1h-1zM29 8h1v1h-1zM4 9h2v1h-2zM0 12h1v1h-1zM9 15h1v1h-1zM8 16h1v1h-1zM21 19h1v1h-1zM19 20h1v1h-1zM11 21h1v1h-1zM16 21h1v1h-1zM6 22h1v1h-1zM7 23h1v1h-1zM9 23h1v1h-1z"/><path fill="#fff9f9" d="M25 6h4v1h-4zM24 7h1v1h-1zM29 7h2v1h-2zM4 8h2v1h-2zM3 9h1v1h-1zM6 9h1v1h-1zM17 9h2v1h-2zM17 10h1v1h-1zM1 11h1v1h-1zM24 12h1v1h-1zM24 13h1v1h-1zM24 14h1v1h-1zM10 15h1v1h-1zM24 15h1v1h-1zM9 16h1v1h-1zM11 16h2v1h-2zM24 16h1v1h-1zM11 18h1v1h-1zM11 19h1v1h-1zM16 19h1v1h-1zM20 19h1v1h-1zM6 21h1v1h-1z"/><path fill="#fff2f2" d="M30 4h2v1h-2zM25 5h4v1h-4zM30 5h2v1h-2zM24 6h1v1h-1zM29 6h3v1h-3zM23 7h1v1h-1zM31 7h1v1h-1zM18 8h1v1h-1zM23 8h1v1h-1zM23 9h1v1h-1zM2 10h1v1h-1zM7 10h1v1h-1zM0 11h1v1h-1zM18 11h1v1h-1zM9 13h1v1h-1zM10 16h1v1h-1zM16 18h1v1h-1zM22 18h1v1h-1zM6 19h1v1h-1zM6 20h1v1h-1zM18 20h1v1h-1zM7 22h1v1h-1zM9 22h1v1h-1z"/><path fill="#ffecec" d="M6 0h4v1h-4zM8 1h1v1h-1zM30 3h2v1h-2zM25 4h5v1h-5zM24 5h1v1h-1zM29 5h1v1h-1zM23 6h1v1h-1zM22 7h1v1h-1zM3 8h1v1h-1zM6 8h1v1h-1zM17 8h1v1h-1zM19 8h1v1h-1zM19 9h1v1h-1zM19 10h1v1h-1zM23 10h1v1h-1zM8 11h1v1h-1zM17 11h1v1h-1zM10 14h1v1h-1zM13 16h1v1h-1zM8 17h1v1h-1zM10 17h1v1h-1zM15 17h1v1h-1zM23 17h1v1h-1zM17 20h1v1h-1zM10 21h1v1h-1zM8 22h1v1h-1z"/><path fill="#ffe6e6" d="M5 0h1v1h-1zM6 1h2v1h-2zM9 1h1v1h-1zM26 3h4v1h-4zM22 6h1v1h-1zM5 7h1v1h-1zM18 7h4v1h-4zM20 8h3v1h-3zM2 9h1v1h-1zM7 9h1v1h-1zM1 10h1v1h-1zM23 11h1v1h-1zM9 12h1v1h-1zM11 15h1v1h-1zM9 17h1v1h-1zM16 17h1v1h-1zM7 18h1v1h-1zM21 18h1v1h-1zM17 19h1v1h-1zM19 19h1v1h-1zM10 20h1v1h-1z"/><path fill="#ffdfdf" d="M3 0h2v1h-2zM10 0h1v1h-1zM5 1h1v1h-1zM10 1h1v1h-1zM8 2h1v1h-1zM25 3h1v1h-1zM24 4h1v1h-1zM23 5h1v1h-1zM20 6h2v1h-2zM4 7h1v1h-1zM17 7h1v1h-1zM7 8h1v1h-1zM16 8h1v1h-1zM16 9h1v1h-1zM20 9h1v1h-1zM22 9h1v1h-1zM0 10h1v1h-1zM8 10h1v1h-1zM19 11h1v1h-1zM18 12h1v1h-1zM23 12h1v1h-1zM23 16h1v1h-1zM10 18h1v1h-1zM10 19h1v1h-1zM18 19h1v1h-1zM7 21h1v1h-1zM9 21h1v1h-1z"/><path fill="#ffd9d9" d="M2 0h1v1h-1zM3 1h2v1h-2zM6 2h2v1h-2zM9 2h2v1h-2zM28 2h4v1h-4zM22 5h1v1h-1zM19 6h1v1h-1zM6 7h1v1h-1zM2 8h1v1h-1zM1 9h1v1h-1zM8 9h1v1h-1zM21 9h1v1h-1zM22 10h1v1h-1zM23 13h1v1h-1zM23 14h1v1h-1zM23 15h1v1h-1zM14 16h1v1h-1zM22 17h1v1h-1zM8 18h1v1h-1zM17 18h1v1h-1zM20 18h1v1h-1zM7 19h1v1h-1zM7 20h1v1h-1zM8 21h1v1h-1z"/><path fill="#ffd2d2" d="M2 1h1v1h-1zM11 1h1v1h-1zM4 2h2v1h-2zM25 2h3v1h-3zM24 3h1v1h-1zM23 4h1v1h-1zM18 6h1v1h-1zM3 7h1v1h-1zM16 7h1v1h-1zM8 8h1v1h-1zM16 10h1v1h-1zM20 10h1v1h-1zM9 11h1v1h-1zM22 11h1v1h-1zM17 12h1v1h-1zM10 13h1v1h-1zM15 16h2v1h-2zM17 17h1v1h-1zM9 18h1v1h-1zM9 20h1v1h-1z"/><path fill="#ffcccc" d="M0 0h2v1h-2zM11 0h1v1h-1zM0 1h2v1h-2zM0 2h4v1h-4zM11 2h1v1h-1zM7 3h2v1h-2zM20 5h2v1h-2zM4 6h2v1h-2zM15 6h3v1h-3zM7 7h1v1h-1zM15 7h1v1h-1zM0 9h1v1h-1zM21 10h1v1h-1zM19 12h1v1h-1zM12 15h1v1h-1zM18 18h2v1h-2zM8 19h2v1h-2zM8 20h1v1h-1z"/><path fill="#ffc6c6" d="M30 1h2v1h-2zM24 2h1v1h-1zM4 3h3v1h-3zM9 3h2v1h-2zM23 3h1v1h-1zM22 4h1v1h-1zM19 5h1v1h-1zM6 6h1v1h-1zM14 6h1v1h-1zM8 7h1v1h-1zM14 7h1v1h-1zM1 8h1v1h-1zM9 8h1v1h-1zM15 8h1v1h-1zM9 9h1v1h-1zM9 10h1v1h-1zM16 11h1v1h-1zM20 11h1v1h-1zM22 12h1v1h-1zM18 13h1v1h-1zM11 14h1v1h-1zM17 16h1v1h-1zM22 16h1v1h-1zM21 17h1v1h-1z"/><path fill="#ffbfbf" d="M24 1h6v1h-6zM12 2h1v1h-1zM23 2h1v1h-1zM0 3h4v1h-4zM11 3h2v1h-2zM5 5h1v1h-1zM14 5h5v1h-5zM3 6h1v1h-1zM7 6h1v1h-1zM13 6h1v1h-1zM2 7h1v1h-1zM9 7h1v1h-1zM13 7h1v1h-1zM21 11h1v1h-1zM10 12h1v1h-1zM17 13h1v1h-1zM22 14h1v1h-1zM16 15h1v1h-1zM22 15h1v1h-1z"/><path fill="#ffb9b9" d="M12 0h1v1h-1zM24 0h8v1h-8zM12 1h1v1h-1zM22 3h1v1h-1zM4 4h4v1h-4zM21 4h1v1h-1zM4 5h1v1h-1zM6 5h1v1h-1zM13 5h1v1h-1zM8 6h1v1h-1zM11 6h2v1h-2zM10 7h3v1h-3zM0 8h1v1h-1zM10 8h1v1h-1zM14 8h1v1h-1zM20 12h1v1h-1zM19 13h1v1h-1zM22 13h1v1h-1zM17 14h1v1h-1zM13 15h1v1h-1zM15 15h1v1h-1zM17 15h1v1h-1zM18 17h1v1h-1zM20 17h1v1h-1z"/><path fill="#ffb2b2" d="M23 0h1v1h-1zM23 1h1v1h-1zM13 3h1v1h-1zM3 4h1v1h-1zM8 4h8v1h-8zM3 5h1v1h-1zM7 5h1v1h-1zM12 5h1v1h-1zM9 6h2v1h-2zM1 7h1v1h-1zM11 8h1v1h-1zM10 9h1v1h-1zM15 9h1v1h-1zM16 12h1v1h-1zM21 12h1v1h-1zM16 14h1v1h-1zM18 14h1v1h-1zM14 15h1v1h-1zM18 16h1v1h-1zM21 16h1v1h-1zM19 17h1v1h-1z"/><path fill="#ffacac" d="M13 2h1v1h-1zM22 2h1v1h-1zM1 4h2v1h-2zM19 4h2v1h-2zM8 5h4v1h-4zM2 6h1v1h-1zM0 7h1v1h-1zM12 8h2v1h-2zM10 10h1v1h-1zM10 11h1v1h-1zM16 13h1v1h-1zM20 13h2v1h-2zM19 14h1v1h-1zM18 15h1v1h-1z"/><path fill="#ffa6a6" d="M22 0h1v1h-1zM13 1h1v1h-1zM22 1h1v1h-1zM14 3h1v1h-1zM21 3h1v1h-1zM0 4h1v1h-1zM16 4h3v1h-3zM2 5h1v1h-1zM1 6h1v1h-1zM11 13h1v1h-1zM21 14h1v1h-1zM21 15h1v1h-1zM19 16h2v1h-2z"/><path fill="#ff9f9f" d="M13 0h1v1h-1zM1 5h1v1h-1zM0 6h1v1h-1zM11 9h1v1h-1zM12 14h1v1h-1zM15 14h1v1h-1zM20 14h1v1h-1zM19 15h2v1h-2z"/><path fill="#ff9999" d="M14 2h1v1h-1zM21 2h1v1h-1zM15 3h1v1h-1zM20 3h1v1h-1zM0 5h1v1h-1zM14 9h1v1h-1zM15 10h1v1h-1z"/><path fill="#ff9393" d="M21 0h1v1h-1zM21 1h1v1h-1zM12 9h1v1h-1zM11 12h1v1h-1z"/><path fill="#ff8c8c" d="M14 1h1v1h-1zM16 3h4v1h-4zM13 9h1v1h-1zM11 10h1v1h-1zM15 13h1v1h-1zM13 14h2v1h-2z"/><path fill="#ff8686" d="M14 0h1v1h-1zM15 2h1v1h-1zM20 2h1v1h-1zM11 11h1v1h-1zM15 11h1v1h-1z"/><path fill="#ff8080" d="M20 0h1v1h-1zM20 1h1v1h-1zM15 12h1v1h-1z"/><path fill="#ff7979" d="M15 1h1v1h-1zM16 2h1v1h-1zM19 2h1v1h-1zM12 13h1v1h-1z"/><path fill="#ff7373" d="M15 0h1v1h-1zM17 2h2v1h-2zM14 13h1v1h-1z"/><path fill="#ff6c6c" d="M19 0h1v1h-1zM16 1h1v1h-1zM19 1h1v1h-1zM12 10h1v1h-1zM14 10h1v1h-1z"/><path fill="#ff6666" d="M16 0h1v1h-1zM17 1h2v1h-2zM12 12h1v1h-1zM13 13h1v1h-1z"/><path fill="#ff6060" d="M17 0h2v1h-2zM13 10h1v1h-1zM12 11h1v1h-1z"/><path fill="#ff5959" d="M14 11h1v1h-1zM14 12h1v1h-1z"/><path fill="#ff5353" d="M13 12h1v1h-1z"/><path fill="#ff4d4d" d="M13 11h1v1h-1z"/></svg>
<path d="M771.93 37.00v12.5M771.93 480.50v-12.5M765.00 43.93h12.5M1208.50 43.93h-12.5M910.52 37.00v12.5M910.52 480.50v-12.5M765.00 182.52h12.5M1208.50 182.52h-12.5M1049.12 37.00v12.5M1049.12 480.50v-12.5M765.00 321.12h12.5M1208.50 321.12h-12.5M1187.71 37.00v12.5M1187.71 480.50v-12.5M765.00 459.71h12.5M1208.50 459.71h-12.5" stroke="#000" stroke-width="3.6" fill="none"/>
<path d="M799.65 37.00v6.4M799.65 480.50v-6.4M765.00 71.65h6.4M1208.50 71.65h-6.4M827.37 37.00v6.4M827.37 480.50v-6.4M765.00 99.37h6.4M1208.50 99.37h-6.4M855.09 37.00v6.4M855.09 480.50v-6.4M765.00 127.09h6.4M1208.50 127.09h-6.4M882.80 37.00v6.4M882.80 480.50v-6.4M765.00 154.80h6.4M1208.50 154.80h-6.4M938.24 37.00v6.4M938.24 480.50v-6.4M765.00 210.24h6.4M1208.50 210.24h-6.4M965.96 37.00v6.4M965.96 480.50v-6.4M765.00 237.96h6.4M1208.50 237.96h-6.4M993.68 37.00v6.4M993.68 480.50v-6.4M765.00 265.68h6.4M1208.50 265.68h-6.4M1021.40 37.00v6.4M1021.40 480.50v-6.4M765.00 293.40h6.4M1208.50 293.40h-6.4M1076.84 37.00v6.4M1076.84 480.50v-6.4M765.00 348.84h6.4M1208.50 348.84h-6.4M1104.55 37.00v6.4M1104.55 480.50v-6.4M765.00 376.55h6.4M1208.50 376.55h-6.4M1132.27 37.00v6.4M1132.27 480.50v-6.4M765.00 404.27h6.4M1208.50 404.27h-6.4M1159.99 37.00v6.4M1159.99 480.50v-6.4M765.00 431.99h6.4M1208.50 431.99h-6.4" stroke="#000" stroke-width="3" fill="none"/>
<rect x="765.00" y="37.00" width="443.50" height="443.50" fill="none" stroke="#000" stroke-width="4.4"/>
<text x="771.93" y="513.00" text-anchor="middle" font-size="33">0</text>
<text x="757.50" y="55.93" text-anchor="end" font-size="33">0</text>
<text x="910.52" y="513.00" text-anchor="middle" font-size="33">10</text>
<text x="757.50" y="194.52" text-anchor="end" font-size="33">10</text>
<text x="1049.12" y="513.00" text-anchor="middle" font-size="33">20</text>
<text x="757.50" y="333.12" text-anchor="end" font-size="33">20</text>
<text x="1187.71" y="513.00" text-anchor="middle" font-size="33">30</text>
<text x="757.50" y="471.71" text-anchor="end" font-size="33">30</text>
<text x="986.15" y="25.00" text-anchor="middle" font-size="32.6">(b) Ground Truth</text>
<rect x="1236.50" y="13.00" width="24.50" height="492.00" fill="url(#bwr)" stroke="#000" stroke-width="4"/>
<path d="M1261.00 13.00h12.5" stroke="#000" stroke-width="3.2"/>
<text x="1279.40" y="24.80" font-size="29">1.0</text>
<path d="M1261.00 259.00h12.5" stroke="#000" stroke-width="3.2"/>
<text x="1279.40" y="270.80" font-size="29">0.5</text>
<path d="M1261.00 505.00h12.5" stroke="#000" stroke-width="3.2"/>
<text x="1279.40" y="516.80" font-size="29">0.0</text>
<svg x="1433.25" y="37.00" width="443.50" height="443.50" viewBox="0 0 32 32" preserveAspectRatio="none" shape-rendering="crispEdges"><path fill="#4d4dff" d="M3 31h1v1h-1z"/><path fill="#5353ff" d="M3 30h1v1h-1z"/><path fill="#5959ff" d="M2 31h1v1h-1zM4 31h1v1h-1z"/><path fill="#6060ff" d="M2 30h1v1h-1zM4 30h1v1h-1z"/><path fill="#6666ff" d="M3 29h1v1h-1zM5 31h1v1h-1z"/><path fill="#6c6cff" d="M4 29h1v1h-1zM5 30h1v1h-1z"/><path fill="#7373ff" d="M2 29h1v1h-1zM1 31h1v1h-1zM6 31h1v1h-1z"/><path fill="#7979ff" d="M3 28h1v1h-1zM5 29h1v1h-1zM1 30h1v1h-1zM6 30h1v1h-1z"/><path fill="#8080ff" d="M4 28h1v1h-1zM6 29h1v1h-1zM7 31h1v1h-1z"/><path fill="#8686ff" d="M2 28h1v1h-1zM5 28h1v1h-1zM1 29h1v1h-1zM7 30h1v1h-1zM26 30h2v1h-2zM26 31h2v1h-2zM31 31h1v1h-1z"/><path fill="#8c8cff" d="M3 27h1v1h-1zM6 28h1v1h-1zM7 29h1v1h-1zM26 29h2v1h-2zM31 30h1v1h-1zM8 31h1v1h-1z"/><path fill="#9393ff" d="M2 27h1v1h-1zM4 27h2v1h-2zM1 28h1v1h-1zM26 28h1v1h-1zM31 29h1v1h-1zM8 30h1v1h-1zM30 31h1v1h-1z"/><path fill="#9999ff" d="M3 26h2v1h-2zM1 27h1v1h-1zM6 27h1v1h-1zM26 27h1v1h-1zM7 28h1v1h-1zM27 28h1v1h-1zM31 28h1v1h-1zM30 30h1v1h-1zM9 31h1v1h-1zM13 31h2v1h-2zM22 31h1v1h-1z"/><path fill="#9f9fff" d="M4 25h1v1h-1zM2 26h1v1h-1zM5 26h1v1h-1zM26 26h1v1h-1zM27 27h1v1h-1zM8 29h1v1h-1zM30 29h1v1h-1zM9 30h1v1h-1zM14 30h1v1h-1zM28 30h1v1h-1zM10 31h1v1h-1zM12 31h1v1h-1zM15 31h1v1h-1zM21 31h1v1h-1zM23 31h1v1h-1zM25 31h1v1h-1zM28 31h1v1h-1z"/><path fill="#a6a6ff" d="M3 25h1v1h-1zM5 25h1v1h-1zM26 25h1v1h-1zM1 26h1v1h-1zM6 26h1v1h-1zM27 26h1v1h-1zM7 27h1v1h-1zM31 27h1v1h-1zM30 28h1v1h-1zM25 29h1v1h-1zM28 29h1v1h-1zM10 30h1v1h-1zM12 30h2v1h-2zM15 30h1v1h-1zM19 30h1v1h-1zM21 30h2v1h-2zM25 30h1v1h-1zM29 30h1v1h-1zM11 31h1v1h-1zM18 31h3v1h-3zM29 31h1v1h-1z"/><path fill="#acacff" d="M3 24h2v1h-2zM26 24h1v1h-1zM27 25h1v1h-1zM25 26h1v1h-1zM31 26h1v1h-1zM25 27h1v1h-1zM30 27h1v1h-1zM8 28h1v1h-1zM25 28h1v1h-1zM28 28h1v1h-1zM9 29h1v1h-1zM19 29h1v1h-1zM29 29h1v1h-1zM11 30h1v1h-1zM18 30h1v1h-1zM20 30h1v1h-1zM23 30h1v1h-1zM0 31h1v1h-1zM16 31h1v1h-1zM24 31h1v1h-1z"/><path fill="#b2b2ff" d="M3 23h1v1h-1zM26 23h1v1h-1zM25 24h1v1h-1zM27 24h1v1h-1zM1 25h2v1h-2zM25 25h1v1h-1zM31 25h1v1h-1zM30 26h1v1h-1zM28 27h1v1h-1zM19 28h1v1h-1zM29 28h1v1h-1zM10 29h2v1h-2zM14 29h1v1h-1zM18 29h1v1h-1zM20 29h3v1h-3zM0 30h1v1h-1zM16 30h2v1h-2zM24 30h1v1h-1zM17 31h1v1h-1z"/><path fill="#b9b9ff" d="M1 16h1v1h-1zM29 20h2v1h-2zM2 21h2v1h-2zM28 21h4v1h-4zM2 22h2v1h-2zM26 22h2v1h-2zM30 22h2v1h-2zM1 23h2v1h-2zM4 23h1v1h-1zM25 23h1v1h-1zM27 23h1v1h-1zM31 23h1v1h-1zM1 24h2v1h-2zM5 24h1v1h-1zM30 24h2v1h-2zM6 25h1v1h-1zM19 25h2v1h-2zM28 25h1v1h-1zM30 25h1v1h-1zM7 26h1v1h-1zM19 26h2v1h-2zM28 26h1v1h-1zM8 27h1v1h-1zM19 27h2v1h-2zM29 27h1v1h-1zM9 28h1v1h-1zM18 28h1v1h-1zM20 28h1v1h-1zM12 29h2v1h-2zM15 29h3v1h-3zM23 29h2v1h-2z"/><path fill="#bfbfff" d="M2 16h1v1h-1zM1 17h3v1h-3zM2 18h2v1h-2zM2 19h2v1h-2zM29 19h2v1h-2zM1 20h3v1h-3zM27 20h2v1h-2zM31 20h1v1h-1zM1 21h1v1h-1zM26 21h2v1h-2zM1 22h1v1h-1zM25 22h1v1h-1zM28 22h2v1h-2zM24 23h1v1h-1zM28 23h3v1h-3zM19 24h2v1h-2zM24 24h1v1h-1zM28 24h2v1h-2zM24 25h1v1h-1zM29 25h1v1h-1zM18 26h1v1h-1zM24 26h1v1h-1zM29 26h1v1h-1zM18 27h1v1h-1zM24 27h1v1h-1zM10 28h2v1h-2zM17 28h1v1h-1zM21 28h1v1h-1zM24 28h1v1h-1zM0 29h1v1h-1z"/><path fill="#c6c6ff" d="M0 15h3v1h-3zM3 16h1v1h-1zM1 18h1v1h-1zM1 19h1v1h-1zM28 19h1v1h-1zM31 19h1v1h-1zM4 22h1v1h-1zM24 22h1v1h-1zM19 23h3v1h-3zM21 24h1v1h-1zM18 25h1v1h-1zM21 25h1v1h-1zM8 26h1v1h-1zM21 26h1v1h-1zM9 27h2v1h-2zM17 27h1v1h-1zM21 27h1v1h-1zM0 28h1v1h-1zM12 28h5v1h-5zM22 28h2v1h-2z"/><path fill="#ccccff" d="M0 14h2v1h-2zM3 15h1v1h-1zM4 16h1v1h-1zM4 17h1v1h-1zM28 18h4v1h-4zM27 19h1v1h-1zM13 20h1v1h-1zM26 20h1v1h-1zM13 21h1v1h-1zM24 21h2v1h-2zM20 22h4v1h-4zM5 23h1v1h-1zM22 23h2v1h-2zM6 24h1v1h-1zM18 24h1v1h-1zM22 24h2v1h-2zM7 25h1v1h-1zM22 25h2v1h-2zM0 26h1v1h-1zM17 26h1v1h-1zM22 26h2v1h-2zM0 27h1v1h-1zM11 27h2v1h-2zM22 27h2v1h-2z"/><path fill="#d2d2ff" d="M2 14h2v1h-2zM5 14h2v1h-2zM4 15h3v1h-3zM4 18h1v1h-1zM27 18h1v1h-1zM4 19h1v1h-1zM13 19h2v1h-2zM26 19h1v1h-1zM4 20h1v1h-1zM14 20h1v1h-1zM25 20h1v1h-1zM4 21h1v1h-1zM14 21h1v1h-1zM21 21h3v1h-3zM13 22h2v1h-2zM19 22h1v1h-1zM13 23h1v1h-1zM18 23h1v1h-1zM12 24h2v1h-2zM0 25h1v1h-1zM11 25h2v1h-2zM17 25h1v1h-1zM9 26h4v1h-4zM13 27h4v1h-4z"/><path fill="#d9d9ff" d="M31 12h1v1h-1zM4 14h1v1h-1zM7 14h1v1h-1zM5 16h1v1h-1zM27 17h5v1h-5zM13 18h1v1h-1zM22 20h3v1h-3zM20 21h1v1h-1zM12 22h1v1h-1zM12 23h1v1h-1zM14 23h1v1h-1zM0 24h1v1h-1zM11 24h1v1h-1zM14 24h1v1h-1zM17 24h1v1h-1zM8 25h3v1h-3zM13 25h2v1h-2zM13 26h2v1h-2zM16 26h1v1h-1z"/><path fill="#dfdfff" d="M30 11h2v1h-2zM30 12h1v1h-1zM0 13h7v1h-7zM30 13h2v1h-2zM7 15h1v1h-1zM6 16h1v1h-1zM27 16h5v1h-5zM5 17h1v1h-1zM26 18h1v1h-1zM25 19h1v1h-1zM12 20h1v1h-1zM21 20h1v1h-1zM12 21h1v1h-1zM0 22h1v1h-1zM5 22h1v1h-1zM15 22h1v1h-1zM0 23h1v1h-1zM15 23h1v1h-1zM17 23h1v1h-1zM7 24h1v1h-1zM10 24h1v1h-1zM15 24h1v1h-1zM15 25h2v1h-2zM15 26h1v1h-1z"/><path fill="#e6e6ff" d="M26 10h6v1h-6zM26 11h4v1h-4zM4 12h3v1h-3zM28 12h2v1h-2zM7 13h1v1h-1zM28 13h2v1h-2zM26 14h6v1h-6zM26 15h6v1h-6zM0 16h1v1h-1zM26 16h1v1h-1zM0 17h1v1h-1zM26 17h1v1h-1zM5 18h1v1h-1zM12 18h1v1h-1zM14 18h1v1h-1zM25 18h1v1h-1zM12 19h1v1h-1zM24 19h1v1h-1zM0 20h1v1h-1zM15 20h1v1h-1zM0 21h1v1h-1zM15 21h1v1h-1zM19 21h1v1h-1zM18 22h1v1h-1zM6 23h1v1h-1zM11 23h1v1h-1zM16 23h1v1h-1zM8 24h2v1h-2zM16 24h1v1h-1z"/><path fill="#ececff" d="M26 9h3v1h-3zM4 11h2v1h-2zM3 12h1v1h-1zM26 12h2v1h-2zM26 13h2v1h-2zM8 14h1v1h-1zM8 15h1v1h-1zM7 16h1v1h-1zM6 17h1v1h-1zM12 17h1v1h-1zM25 17h1v1h-1zM0 18h1v1h-1zM0 19h1v1h-1zM5 19h1v1h-1zM15 19h1v1h-1zM23 19h1v1h-1zM20 20h1v1h-1zM5 21h1v1h-1zM11 22h1v1h-1zM16 22h1v1h-1z"/><path fill="#f2f2ff" d="M26 8h3v1h-3zM25 9h1v1h-1zM29 9h3v1h-3zM4 10h2v1h-2zM25 10h1v1h-1zM3 11h1v1h-1zM6 11h1v1h-1zM25 11h1v1h-1zM1 12h2v1h-2zM7 12h1v1h-1zM25 12h1v1h-1zM8 13h1v1h-1zM25 13h1v1h-1zM25 14h1v1h-1zM25 15h1v1h-1zM25 16h1v1h-1zM13 17h1v1h-1zM24 18h1v1h-1zM22 19h1v1h-1zM5 20h1v1h-1zM18 21h1v1h-1zM17 22h1v1h-1zM10 23h1v1h-1z"/><path fill="#f9f9ff" d="M26 7h2v1h-2zM25 8h1v1h-1zM29 8h1v1h-1zM4 9h2v1h-2zM0 12h1v1h-1zM9 15h1v1h-1zM8 16h1v1h-1zM21 19h1v1h-1zM19 20h1v1h-1zM11 21h1v1h-1zM16 21h1v1h-1zM6 22h1v1h-1zM7 23h1v1h-1zM9 23h1v1h-1z"/><path fill="#fff9f9" d="M25 6h4v1h-4zM24 7h1v1h-1zM29 7h2v1h-2zM4 8h2v1h-2zM3 9h1v1h-1zM6 9h1v1h-1zM17 9h2v1h-2zM17 10h1v1h-1zM1 11h1v1h-1zM24 12h1v1h-1zM24 13h1v1h-1zM24 14h1v1h-1zM10 15h1v1h-1zM24 15h1v1h-1zM9 16h1v1h-1zM11 16h1v1h-1zM24 16h1v1h-1zM11 18h1v1h-1zM15 18h1v1h-1zM11 19h1v1h-1zM20 19h1v1h-1zM6 21h1v1h-1z"/><path fill="#fff2f2" d="M30 4h2v1h-2zM25 5h4v1h-4zM30 5h2v1h-2zM24 6h1v1h-1zM29 6h3v1h-3zM23 7h1v1h-1zM31 7h1v1h-1zM18 8h1v1h-1zM23 8h1v1h-1zM23 9h1v1h-1zM2 10h1v1h-1zM7 10h1v1h-1zM0 11h1v1h-1zM18 11h1v1h-1zM9 13h1v1h-1zM10 16h1v1h-1zM12 16h1v1h-1zM14 17h1v1h-1zM22 18h1v1h-1zM6 19h1v1h-1zM16 19h1v1h-1zM6 20h1v1h-1zM18 20h1v1h-1zM7 22h1v1h-1zM9 22h1v1h-1z"/><path fill="#ffecec" d="M6 0h4v1h-4zM8 1h1v1h-1zM30 3h2v1h-2zM25 4h5v1h-5zM24 5h1v1h-1zM29 5h1v1h-1zM23 6h1v1h-1zM22 7h1v1h-1zM3 8h1v1h-1zM6 8h1v1h-1zM17 8h1v1h-1zM19 8h1v1h-1zM19 9h1v1h-1zM19 10h1v1h-1zM23 10h1v1h-1zM8 11h1v1h-1zM17 11h1v1h-1zM10 14h1v1h-1zM8 17h1v1h-1zM10 17h1v1h-1zM23 17h1v1h-1zM17 20h1v1h-1zM10 21h1v1h-1zM8 22h1v1h-1z"/><path fill="#ffe6e6" d="M5 0h1v1h-1zM6 1h2v1h-2zM9 1h1v1h-1zM26 3h4v1h-4zM22 6h1v1h-1zM5 7h1v1h-1zM18 7h4v1h-4zM20 8h3v1h-3zM2 9h1v1h-1zM7 9h1v1h-1zM1 10h1v1h-1zM23 11h1v1h-1zM9 12h1v1h-1zM13 16h1v1h-1zM9 17h1v1h-1zM7 18h1v1h-1zM21 18h1v1h-1zM19 19h1v1h-1zM10 20h1v1h-1z"/><path fill="#ffdfdf" d="M3 0h2v1h-2zM10 0h1v1h-1zM5 1h1v1h-1zM10 1h1v1h-1zM8 2h1v1h-1zM25 3h1v1h-1zM24 4h1v1h-1zM23 5h1v1h-1zM20 6h2v1h-2zM4 7h1v1h-1zM17 7h1v1h-1zM7 8h1v1h-1zM16 8h1v1h-1zM16 9h1v1h-1zM20 9h1v1h-1zM22 9h1v1h-1zM0 10h1v1h-1zM8 10h1v1h-1zM19 11h1v1h-1zM23 12h1v1h-1zM11 15h1v1h-1zM23 16h1v1h-1zM10 18h1v1h-1zM16 18h1v1h-1zM10 19h1v1h-1zM17 19h2v1h-2zM7 21h1v1h-1zM9 21h1v1h-1z"/><path fill="#ffd9d9" d="M2 0h1v1h-1zM3 1h2v1h-2zM6 2h2v1h-2zM9 2h2v1h-2zM28 2h4v1h-4zM22 5h1v1h-1zM19 6h1v1h-1zM6 7h1v1h-1zM2 8h1v1h-1zM1 9h1v1h-1zM8 9h1v1h-1zM21 9h1v1h-1zM22 10h1v1h-1zM18 12h1v1h-1zM23 13h1v1h-1zM23 14h1v1h-1zM23 15h1v1h-1zM22 17h1v1h-1zM8 18h1v1h-1zM20 18h1v1h-1zM7 19h1v1h-1zM7 20h1v1h-1zM8 21h1v1h-1z"/><path fill="#ffd2d2" d="M2 1h1v1h-1zM11 1h1v1h-1zM4 2h2v1h-2zM25 2h3v1h-3zM24 3h1v1h-1zM23 4h1v1h-1zM18 6h1v1h-1zM3 7h1v1h-1zM16 7h1v1h-1zM8 8h1v1h-1zM16 10h1v1h-1zM20 10h1v1h-1zM9 11h1v1h-1zM22 11h1v1h-1zM17 12h1v1h-1zM10 13h1v1h-1zM15 17h1v1h-1zM9 18h1v1h-1zM9 20h1v1h-1z"/><path fill="#ffcccc" d="M0 0h2v1h-2zM11 0h1v1h-1zM0 1h2v1h-2zM0 2h4v1h-4zM11 2h1v1h-1zM7 3h2v1h-2zM20 5h2v1h-2zM4 6h2v1h-2zM15 6h3v1h-3zM7 7h1v1h-1zM15 7h1v1h-1zM0 9h1v1h-1zM21 10h1v1h-1zM19 12h1v1h-1zM17 18h1v1h-1zM8 19h2v1h-2zM8 20h1v1h-1z"/><path fill="#ffc6c6" d="M30 1h2v1h-2zM24 2h1v1h-1zM4 3h3v1h-3zM9 3h2v1h-2zM23 3h1v1h-1zM22 4h1v1h-1zM19 5h1v1h-1zM6 6h1v1h-1zM14 6h1v1h-1zM8 7h1v1h-1zM14 7h1v1h-1zM1 8h1v1h-1zM9 8h1v1h-1zM15 8h1v1h-1zM9 9h1v1h-1zM9 10h1v1h-1zM16 11h1v1h-1zM20 11h1v1h-1zM22 12h1v1h-1zM11 14h1v1h-1zM12 15h1v1h-1zM14 16h1v1h-1zM22 16h1v1h-1zM21 17h1v1h-1zM18 18h2v1h-2z"/><path fill="#ffbfbf" d="M24 1h6v1h-6zM12 2h1v1h-1zM23 2h1v1h-1zM0 3h4v1h-4zM11 3h2v1h-2zM5 5h1v1h-1zM14 5h5v1h-5zM3 6h1v1h-1zM7 6h1v1h-1zM13 6h1v1h-1zM2 7h1v1h-1zM9 7h1v1h-1zM13 7h1v1h-1zM21 11h1v1h-1zM10 12h1v1h-1zM18 13h1v1h-1zM22 14h1v1h-1zM22 15h1v1h-1z"/><path fill="#ffb9b9" d="M12 0h1v1h-1zM24 0h8v1h-8zM12 1h1v1h-1zM22 3h1v1h-1zM4 4h4v1h-4zM21 4h1v1h-1zM4 5h1v1h-1zM6 5h1v1h-1zM13 5h1v1h-1zM8 6h1v1h-1zM11 6h2v1h-2zM10 7h3v1h-3zM0 8h1v1h-1zM10 8h1v1h-1zM14 8h1v1h-1zM20 12h1v1h-1zM17 13h1v1h-1zM19 13h1v1h-1zM22 13h1v1h-1zM16 17h1v1h-1zM20 17h1v1h-1z"/><path fill="#ffb2b2" d="M23 0h1v1h-1zM23 1h1v1h-1zM13 3h1v1h-1zM3 4h1v1h-1zM8 4h8v1h-8zM3 5h1v1h-1zM7 5h1v1h-1zM12 5h1v1h-1zM9 6h2v1h-2zM1 7h1v1h-1zM11 8h1v1h-1zM10 9h1v1h-1zM15 9h1v1h-1zM16 12h1v1h-1zM21 12h1v1h-1zM13 15h1v1h-1zM21 16h1v1h-1zM17 17h1v1h-1z"/><path fill="#ffacac" d="M13 2h1v1h-1zM22 2h1v1h-1zM1 4h2v1h-2zM19 4h2v1h-2zM8 5h4v1h-4zM2 6h1v1h-1zM0 7h1v1h-1zM12 8h2v1h-2zM10 10h1v1h-1zM10 11h1v1h-1zM20 13h2v1h-2zM18 14h1v1h-1zM18 17h2v1h-2z"/><path fill="#ffa6a6" d="M22 0h1v1h-1zM13 1h1v1h-1zM22 1h1v1h-1zM14 3h1v1h-1zM21 3h1v1h-1zM0 4h1v1h-1zM16 4h3v1h-3zM2 5h1v1h-1zM1 6h1v1h-1zM11 13h1v1h-1zM19 14h1v1h-1zM21 14h1v1h-1zM21 15h1v1h-1zM15 16h1v1h-1zM20 16h1v1h-1z"/><path fill="#ff9f9f" d="M13 0h1v1h-1zM1 5h1v1h-1zM0 6h1v1h-1zM11 9h1v1h-1zM16 13h1v1h-1zM12 14h1v1h-1zM17 14h1v1h-1zM20 14h1v1h-1zM14 15h1v1h-1zM20 15h1v1h-1zM19 16h1v1h-1z"/><path fill="#ff9999" d="M14 2h1v1h-1zM21 2h1v1h-1zM15 3h1v1h-1zM20 3h1v1h-1zM0 5h1v1h-1zM14 9h1v1h-1zM15 10h1v1h-1zM18 15h2v1h-2zM16 16h3v1h-3z"/><path fill="#ff9393" d="M21 0h1v1h-1zM21 1h1v1h-1zM12 9h1v1h-1zM11 12h1v1h-1zM16 14h1v1h-1zM15 15h1v1h-1zM17 15h1v1h-1z"/><path fill="#ff8c8c" d="M14 1h1v1h-1zM16 3h4v1h-4zM13 9h1v1h-1zM11 10h1v1h-1zM16 15h1v1h-1z"/><path fill="#ff8686" d="M14 0h1v1h-1zM15 2h1v1h-1zM20 2h1v1h-1zM11 11h1v1h-1zM15 11h1v1h-1zM15 13h1v1h-1zM13 14h1v1h-1zM15 14h1v1h-1z"/><path fill="#ff8080" d="M20 0h1v1h-1zM20 1h1v1h-1zM15 12h1v1h-1zM14 14h1v1h-1z"/><path fill="#ff7979" d="M15 1h1v1h-1zM16 2h1v1h-1zM19 2h1v1h-1zM12 13h1v1h-1z"/><path fill="#ff7373" d="M15 0h1v1h-1zM17 2h2v1h-2z"/><path fill="#ff6c6c" d="M19 0h1v1h-1zM16 1h1v1h-1zM19 1h1v1h-1zM12 10h1v1h-1zM14 10h1v1h-1zM14 13h1v1h-1z"/><path fill="#ff6666" d="M16 0h1v1h-1zM17 1h2v1h-2zM12 12h1v1h-1zM13 13h1v1h-1z"/><path fill="#ff6060" d="M17 0h2v1h-2zM13 10h1v1h-1zM12 11h1v1h-1z"/><path fill="#ff5959" d="M14 11h1v1h-1zM14 12h1v1h-1z"/><path fill="#ff5353" d="M13 12h1v1h-1z"/><path fill="#ff4d4d" d="M13 11h1v1h-1z"/></svg>
<path d="M1440.18 37.00v12.5M1440.18 480.50v-12.5M1433.25 43.93h12.5M1876.75 43.93h-12.5M1578.77 37.00v12.5M1578.77 480.50v-12.5M1433.25 182.52h12.5M1876.75 182.52h-12.5M1717.37 37.00v12.5M1717.37 480.50v-12.5M1433.25 321.12h12.5M1876.75 321.12h-12.5M1855.96 37.00v12.5M1855.96 480.50v-12.5M1433.25 459.71h12.5M1876.75 459.71h-12.5" stroke="#000" stroke-width="3.6" fill="none"/>
<path d="M1467.90 37.00v6.4M1467.90 480.50v-6.4M1433.25 71.65h6.4M1876.75 71.65h-6.4M1495.62 37.00v6.4M1495.62 480.50v-6.4M1433.25 99.37h6.4M1876.75 99.37h-6.4M1523.34 37.00v6.4M1523.34 480.50v-6.4M1433.25 127.09h6.4M1876.75 127.09h-6.4M1551.05 37.00v6.4M1551.05 480.50v-6.4M1433.25 154.80h6.4M1876.75 154.80h-6.4M1606.49 37.00v6.4M1606.49 480.50v-6.4M1433.25 210.24h6.4M1876.75 210.24h-6.4M1634.21 37.00v6.4M1634.21 480.50v-6.4M1433.25 237.96h6.4M1876.75 237.96h-6.4M1661.93 37.00v6.4M1661.93 480.50v-6.4M1433.25 265.68h6.4M1876.75 265.68h-6.4M1689.65 37.00v6.4M1689.65 480.50v-6.4M1433.25 293.40h6.4M1876.75 293.40h-6.4M1745.09 37.00v6.4M1745.09 480.50v-6.4M1433.25 348.84h6.4M1876.75 348.84h-6.4M1772.80 37.00v6.4M1772.80 480.50v-6.4M1433.25 376.55h6.4M1876.75 376.55h-6.4M1800.52 37.00v6.4M1800.52 480.50v-6.4M1433.25 404.27h6.4M1876.75 404.27h-6.4M1828.24 37.00v6.4M1828.24 480.50v-6.4M1433.25 431.99h6.4M1876.75 431.99h-6.4" stroke="#000" stroke-width="3" fill="none"/>
<rect x="1433.25" y="37.00" width="443.50" height="443.50" fill="none" stroke="#000" stroke-width="4.4"/>
<text x="1440.18" y="513.00" text-anchor="middle" font-size="33">0</text>
<text x="1425.75" y="55.93" text-anchor="end" font-size="33">0</text>
<text x="1578.77" y="513.00" text-anchor="middle" font-size="33">10</text>
<text x="1425.75" y="194.52" text-anchor="end" font-size="33">10</text>
<text x="1717.37" y="513.00" text-anchor="middle" font-size="33">20</text>
<text x="1425.75" y="333.12" text-anchor="end" font-size="33">20</text>
<text x="1855.96" y="513.00" text-anchor="middle" font-size="33">30</text>
<text x="1425.75" y="471.71" text-anchor="end" font-size="33">30</text>
<text x="1654.40" y="25.00" text-anchor="middle" font-size="32.6">(c) Source Injected</text>
<rect x="1904.75" y="13.00" width="24.50" height="492.00" fill="url(#bwr)" stroke="#000" stroke-width="4"/>
<path d="M1929.25 13.00h12.5" stroke="#000" stroke-width="3.2"/>
<text x="1947.65" y="24.80" font-size="29">1.0</text>
<path d="M1929.25 259.00h12.5" stroke="#000" stroke-width="3.2"/>
<text x="1947.65" y="270.80" font-size="29">0.5</text>
<path d="M1929.25 505.00h12.5" stroke="#000" stroke-width="3.2"/>
<text x="1947.65" y="516.80" font-size="29">0.0</text>
<rect x="1531.80" y="122.30" width="301.90" height="72.90" fill="#fff" fill-opacity="0.85" stroke="#1a1a1a" stroke-width="3"/>
<text x="1680.50" y="168.50" text-anchor="middle" font-size="32.6" font-style="italic">Injected Source</text>
<circle cx="1661.93" cy="265.68" r="41.58" fill="none" stroke="#000" stroke-width="3.8" stroke-dasharray="14.06 6.08"/>
<svg x="96.50" y="590.50" width="443.50" height="443.50" viewBox="0 0 32 32" preserveAspectRatio="none" shape-rendering="crispEdges"><path fill="#4d4dff" d="M3 31h1v1h-1z"/><path fill="#5353ff" d="M3 30h1v1h-1zM4 31h1v1h-1z"/><path fill="#5959ff" d="M2 31h1v1h-1z"/><path fill="#6060ff" d="M2 30h1v1h-1zM4 30h1v1h-1z"/><path fill="#6666ff" d="M3 29h1v1h-1zM5 31h1v1h-1z"/><path fill="#6c6cff" d="M4 29h1v1h-1zM5 30h1v1h-1z"/><path fill="#7373ff" d="M2 29h1v1h-1zM1 31h1v1h-1zM6 31h1v1h-1z"/><path fill="#7979ff" d="M3 28h1v1h-1zM5 29h1v1h-1zM1 30h1v1h-1zM6 30h1v1h-1z"/><path fill="#8080ff" d="M4 28h1v1h-1zM6 29h1v1h-1zM7 31h1v1h-1zM27 31h1v1h-1z"/><path fill="#8686ff" d="M2 28h1v1h-1zM5 28h1v1h-1zM1 29h1v1h-1zM7 30h1v1h-1zM26 30h2v1h-2zM26 31h1v1h-1zM31 31h1v1h-1z"/><path fill="#8c8cff" d="M3 27h1v1h-1zM6 28h1v1h-1zM7 29h1v1h-1zM26 29h2v1h-2zM31 30h1v1h-1zM8 31h1v1h-1z"/><path fill="#9393ff" d="M2 27h1v1h-1zM4 27h2v1h-2zM1 28h1v1h-1zM26 28h1v1h-1zM31 29h1v1h-1zM8 30h1v1h-1zM30 31h1v1h-1z"/><path fill="#9999ff" d="M3 26h2v1h-2zM1 27h1v1h-1zM6 27h1v1h-1zM26 27h1v1h-1zM7 28h1v1h-1zM27 28h1v1h-1zM31 28h1v1h-1zM30 30h1v1h-1zM9 31h1v1h-1zM13 31h2v1h-2zM22 31h1v1h-1zM28 31h1v1h-1z"/><path fill="#9f9fff" d="M4 25h1v1h-1zM2 26h1v1h-1zM5 26h1v1h-1zM26 26h1v1h-1zM27 27h1v1h-1zM8 29h1v1h-1zM30 29h1v1h-1zM9 30h1v1h-1zM25 30h1v1h-1zM28 30h1v1h-1zM10 31h1v1h-1zM12 31h1v1h-1zM15 31h1v1h-1zM19 31h1v1h-1zM21 31h1v1h-1zM23 31h1v1h-1zM25 31h1v1h-1z"/><path fill="#a6a6ff" d="M3 25h1v1h-1zM5 25h1v1h-1zM26 25h1v1h-1zM1 26h1v1h-1zM6 26h1v1h-1zM27 26h1v1h-1zM7 27h1v1h-1zM31 27h1v1h-1zM30 28h1v1h-1zM25 29h1v1h-1zM28 29h1v1h-1zM10 30h1v1h-1zM12 30h4v1h-4zM19 30h1v1h-1zM21 30h3v1h-3zM29 30h1v1h-1zM0 31h1v1h-1zM11 31h1v1h-1zM18 31h1v1h-1zM20 31h1v1h-1zM29 31h1v1h-1z"/><path fill="#acacff" d="M3 24h2v1h-2zM26 24h1v1h-1zM27 25h1v1h-1zM25 26h1v1h-1zM31 26h1v1h-1zM25 27h1v1h-1zM30 27h1v1h-1zM8 28h1v1h-1zM25 28h1v1h-1zM28 28h1v1h-1zM9 29h1v1h-1zM19 29h1v1h-1zM29 29h1v1h-1zM11 30h1v1h-1zM18 30h1v1h-1zM20 30h1v1h-1zM16 31h1v1h-1zM24 31h1v1h-1z"/><path fill="#b2b2ff" d="M3 23h1v1h-1zM26 23h1v1h-1zM25 24h1v1h-1zM27 24h1v1h-1zM1 25h2v1h-2zM25 25h1v1h-1zM31 25h1v1h-1zM30 26h1v1h-1zM28 27h1v1h-1zM19 28h1v1h-1zM29 28h1v1h-1zM10 29h2v1h-2zM14 29h1v1h-1zM18 29h1v1h-1zM20 29h3v1h-3zM0 30h1v1h-1zM16 30h2v1h-2zM24 30h1v1h-1zM17 31h1v1h-1z"/><path fill="#b9b9ff" d="M1 16h1v1h-1zM29 20h3v1h-3zM2 21h2v1h-2zM28 21h4v1h-4zM2 22h2v1h-2zM26 22h2v1h-2zM30 22h2v1h-2zM1 23h2v1h-2zM4 23h1v1h-1zM25 23h1v1h-1zM27 23h1v1h-1zM31 23h1v1h-1zM1 24h2v1h-2zM5 24h1v1h-1zM30 24h2v1h-2zM6 25h1v1h-1zM19 25h2v1h-2zM28 25h1v1h-1zM30 25h1v1h-1zM7 26h1v1h-1zM19 26h2v1h-2zM28 26h1v1h-1zM8 27h1v1h-1zM19 27h2v1h-2zM29 27h1v1h-1zM9 28h1v1h-1zM18 28h1v1h-1zM20 28h1v1h-1zM12 29h2v1h-2zM15 29h3v1h-3zM23 29h2v1h-2z"/><path fill="#bfbfff" d="M2 16h1v1h-1zM1 17h3v1h-3zM2 18h2v1h-2zM2 19h2v1h-2zM29 19h3v1h-3zM2 20h2v1h-2zM28 20h1v1h-1zM1 21h1v1h-1zM26 21h2v1h-2zM1 22h1v1h-1zM25 22h1v1h-1zM28 22h2v1h-2zM24 23h1v1h-1zM28 23h3v1h-3zM19 24h2v1h-2zM24 24h1v1h-1zM28 24h2v1h-2zM24 25h1v1h-1zM29 25h1v1h-1zM18 26h1v1h-1zM24 26h1v1h-1zM29 26h1v1h-1zM18 27h1v1h-1zM24 27h1v1h-1zM10 28h2v1h-2zM17 28h1v1h-1zM21 28h1v1h-1zM24 28h1v1h-1zM0 29h1v1h-1z"/><path fill="#c6c6ff" d="M0 15h3v1h-3zM3 16h1v1h-1zM1 18h1v1h-1zM1 19h1v1h-1zM28 19h1v1h-1zM1 20h1v1h-1zM27 20h1v1h-1zM4 22h1v1h-1zM24 22h1v1h-1zM19 23h3v1h-3zM21 24h1v1h-1zM18 25h1v1h-1zM21 25h1v1h-1zM8 26h1v1h-1zM21 26h1v1h-1zM9 27h2v1h-2zM17 27h1v1h-1zM21 27h1v1h-1zM0 28h1v1h-1zM12 28h5v1h-5zM22 28h2v1h-2z"/><path fill="#ccccff" d="M0 14h2v1h-2zM3 15h1v1h-1zM4 16h1v1h-1zM4 17h1v1h-1zM28 18h4v1h-4zM27 19h1v1h-1zM26 20h1v1h-1zM13 21h1v1h-1zM24 21h2v1h-2zM20 22h4v1h-4zM5 23h1v1h-1zM22 23h2v1h-2zM6 24h1v1h-1zM18 24h1v1h-1zM22 24h2v1h-2zM7 25h1v1h-1zM22 25h2v1h-2zM0 26h1v1h-1zM11 26h1v1h-1zM17 26h1v1h-1zM22 26h2v1h-2zM0 27h1v1h-1zM11 27h2v1h-2zM22 27h2v1h-2z"/><path fill="#d2d2ff" d="M2 14h2v1h-2zM5 14h2v1h-2zM4 15h3v1h-3zM4 18h1v1h-1zM27 18h1v1h-1zM4 19h1v1h-1zM13 19h2v1h-2zM26 19h1v1h-1zM4 20h1v1h-1zM13 20h2v1h-2zM25 20h1v1h-1zM4 21h1v1h-1zM14 21h1v1h-1zM21 21h3v1h-3zM13 22h2v1h-2zM19 22h1v1h-1zM13 23h1v1h-1zM18 23h1v1h-1zM12 24h2v1h-2zM0 25h1v1h-1zM11 25h2v1h-2zM17 25h1v1h-1zM9 26h2v1h-2zM12 26h1v1h-1zM13 27h4v1h-4z"/><path fill="#d9d9ff" d="M31 11h1v1h-1zM31 12h1v1h-1zM4 14h1v1h-1zM7 14h1v1h-1zM5 16h1v1h-1zM27 17h5v1h-5zM13 18h1v1h-1zM26 18h1v1h-1zM22 20h3v1h-3zM20 21h1v1h-1zM12 22h1v1h-1zM12 23h1v1h-1zM14 23h1v1h-1zM0 24h1v1h-1zM11 24h1v1h-1zM14 24h1v1h-1zM17 24h1v1h-1zM8 25h3v1h-3zM13 25h1v1h-1zM13 26h4v1h-4z"/><path fill="#dfdfff" d="M30 11h1v1h-1zM30 12h1v1h-1zM0 13h7v1h-7zM30 13h2v1h-2zM7 15h1v1h-1zM6 16h1v1h-1zM27 16h5v1h-5zM5 17h1v1h-1zM14 18h1v1h-1zM25 19h1v1h-1zM12 20h1v1h-1zM21 20h1v1h-1zM12 21h1v1h-1zM0 22h1v1h-1zM5 22h1v1h-1zM15 22h1v1h-1zM0 23h1v1h-1zM15 23h1v1h-1zM17 23h1v1h-1zM7 24h1v1h-1zM10 24h1v1h-1zM15 24h1v1h-1zM14 25h3v1h-3z"/><path fill="#e6e6ff" d="M26 10h6v1h-6zM26 11h4v1h-4zM4 12h3v1h-3zM28 12h2v1h-2zM7 13h1v1h-1zM28 13h2v1h-2zM26 14h6v1h-6zM26 15h6v1h-6zM0 16h1v1h-1zM26 16h1v1h-1zM0 17h1v1h-1zM26 17h1v1h-1zM5 18h1v1h-1zM12 18h1v1h-1zM25 18h1v1h-1zM12 19h1v1h-1zM15 19h1v1h-1zM24 19h1v1h-1zM0 20h1v1h-1zM15 20h1v1h-1zM0 21h1v1h-1zM15 21h1v1h-1zM19 21h1v1h-1zM18 22h1v1h-1zM6 23h1v1h-1zM11 23h1v1h-1zM16 23h1v1h-1zM8 24h2v1h-2zM16 24h1v1h-1z"/><path fill="#ececff" d="M26 9h3v1h-3zM4 11h2v1h-2zM3 12h1v1h-1zM26 12h2v1h-2zM26 13h2v1h-2zM8 14h1v1h-1zM8 15h1v1h-1zM7 16h1v1h-1zM6 17h1v1h-1zM12 17h2v1h-2zM25 17h1v1h-1zM0 18h1v1h-1zM0 19h1v1h-1zM5 19h1v1h-1zM22 19h2v1h-2zM20 20h1v1h-1zM5 21h1v1h-1zM11 22h1v1h-1zM16 22h1v1h-1z"/><path fill="#f2f2ff" d="M26 8h2v1h-2zM25 9h1v1h-1zM29 9h3v1h-3zM4 10h2v1h-2zM25 10h1v1h-1zM3 11h1v1h-1zM6 11h1v1h-1zM25 11h1v1h-1zM0 12h3v1h-3zM7 12h1v1h-1zM25 12h1v1h-1zM8 13h1v1h-1zM25 13h1v1h-1zM25 14h1v1h-1zM25 15h1v1h-1zM25 16h1v1h-1zM24 18h1v1h-1zM5 20h1v1h-1zM18 21h1v1h-1zM17 22h1v1h-1zM10 23h1v1h-1z"/><path fill="#f9f9ff" d="M25 8h1v1h-1zM28 8h2v1h-2zM4 9h2v1h-2zM9 14h1v1h-1zM9 15h1v1h-1zM15 18h1v1h-1zM21 19h1v1h-1zM11 21h1v1h-1zM16 21h1v1h-1zM6 22h1v1h-1zM7 23h1v1h-1zM9 23h1v1h-1z"/><path fill="#fff9f9" d="M25 6h3v1h-3zM29 7h1v1h-1zM3 9h1v1h-1zM6 9h1v1h-1zM17 9h2v1h-2zM17 10h1v1h-1zM1 11h1v1h-1zM24 12h1v1h-1zM24 13h1v1h-1zM24 14h1v1h-1zM10 15h1v1h-1zM24 15h1v1h-1zM9 16h1v1h-1zM11 16h2v1h-2zM24 16h1v1h-1zM11 18h1v1h-1zM11 19h1v1h-1zM16 19h1v1h-1zM6 21h1v1h-1z"/><path fill="#fff2f2" d="M30 4h2v1h-2zM25 5h3v1h-3zM30 5h2v1h-2zM24 6h1v1h-1zM28 6h4v1h-4zM24 7h1v1h-1zM30 7h2v1h-2zM4 8h2v1h-2zM18 8h1v1h-1zM23 8h1v1h-1zM23 9h1v1h-1zM2 10h1v1h-1zM7 10h1v1h-1zM0 11h1v1h-1zM18 11h1v1h-1zM9 13h1v1h-1zM10 16h1v1h-1zM13 16h1v1h-1zM16 18h1v1h-1zM22 18h1v1h-1zM6 19h1v1h-1zM20 19h1v1h-1zM6 20h1v1h-1zM18 20h1v1h-1zM7 22h1v1h-1zM9 22h1v1h-1z"/><path fill="#ffecec" d="M6 0h4v1h-4zM30 3h2v1h-2zM26 4h4v1h-4zM24 5h1v1h-1zM28 5h2v1h-2zM22 7h2v1h-2zM3 8h1v1h-1zM6 8h1v1h-1zM17 8h1v1h-1zM19 8h1v1h-1zM19 9h1v1h-1zM19 10h1v1h-1zM23 10h1v1h-1zM8 11h1v1h-1zM17 11h1v1h-1zM10 14h1v1h-1zM8 17h1v1h-1zM10 17h1v1h-1zM23 17h1v1h-1zM17 20h1v1h-1zM10 21h1v1h-1zM8 22h1v1h-1z"/><path fill="#ffe6e6" d="M5 0h1v1h-1zM6 1h4v1h-4zM26 3h4v1h-4zM25 4h1v1h-1zM22 6h2v1h-2zM18 7h4v1h-4zM20 8h1v1h-1zM22 8h1v1h-1zM2 9h1v1h-1zM7 9h1v1h-1zM1 10h1v1h-1zM23 11h1v1h-1zM11 15h1v1h-1zM9 17h1v1h-1zM15 17h1v1h-1zM7 18h1v1h-1zM21 18h1v1h-1zM19 19h1v1h-1zM10 20h1v1h-1z"/><path fill="#ffdfdf" d="M3 0h2v1h-2zM10 0h1v1h-1zM5 1h1v1h-1zM10 1h1v1h-1zM25 3h1v1h-1zM24 4h1v1h-1zM23 5h1v1h-1zM20 6h2v1h-2zM4 7h2v1h-2zM21 8h1v1h-1zM16 9h1v1h-1zM20 9h1v1h-1zM22 9h1v1h-1zM0 10h1v1h-1zM8 10h1v1h-1zM19 11h1v1h-1zM9 12h1v1h-1zM23 12h1v1h-1zM23 15h1v1h-1zM14 16h1v1h-1zM23 16h1v1h-1zM10 18h1v1h-1zM10 19h1v1h-1zM17 19h1v1h-1zM7 21h1v1h-1zM9 21h1v1h-1z"/><path fill="#ffd9d9" d="M2 0h1v1h-1zM3 1h2v1h-2zM6 2h5v1h-5zM29 2h3v1h-3zM19 6h1v1h-1zM6 7h1v1h-1zM17 7h1v1h-1zM2 8h1v1h-1zM7 8h1v1h-1zM16 8h1v1h-1zM8 9h1v1h-1zM21 9h1v1h-1zM22 10h1v1h-1zM18 12h1v1h-1zM23 13h1v1h-1zM23 14h1v1h-1zM16 17h1v1h-1zM22 17h1v1h-1zM8 18h1v1h-1zM17 18h1v1h-1zM7 19h1v1h-1zM18 19h1v1h-1zM7 20h1v1h-1zM8 21h1v1h-1z"/><path fill="#ffd2d2" d="M11 0h1v1h-1zM2 1h1v1h-1zM4 2h2v1h-2zM26 2h3v1h-3zM24 3h1v1h-1zM23 4h1v1h-1zM22 5h1v1h-1zM18 6h1v1h-1zM3 7h1v1h-1zM16 7h1v1h-1zM1 9h1v1h-1zM20 10h1v1h-1zM9 11h1v1h-1zM10 13h1v1h-1zM12 15h1v1h-1zM9 18h1v1h-1zM20 18h1v1h-1zM9 20h1v1h-1z"/><path fill="#ffcccc" d="M0 0h2v1h-2zM0 1h2v1h-2zM11 1h1v1h-1zM0 2h4v1h-4zM11 2h1v1h-1zM25 2h1v1h-1zM20 5h2v1h-2zM5 6h1v1h-1zM15 6h3v1h-3zM7 7h1v1h-1zM15 7h1v1h-1zM8 8h1v1h-1zM0 9h1v1h-1zM16 10h1v1h-1zM21 10h1v1h-1zM22 11h1v1h-1zM17 12h1v1h-1zM19 12h1v1h-1zM17 17h1v1h-1zM18 18h1v1h-1zM8 19h2v1h-2zM8 20h1v1h-1z"/><path fill="#ffc6c6" d="M24 2h1v1h-1zM5 3h6v1h-6zM23 3h1v1h-1zM22 4h1v1h-1zM19 5h1v1h-1zM4 6h1v1h-1zM6 6h1v1h-1zM14 6h1v1h-1zM14 7h1v1h-1zM1 8h1v1h-1zM15 8h1v1h-1zM9 9h1v1h-1zM9 10h1v1h-1zM20 11h1v1h-1zM22 12h1v1h-1zM11 14h1v1h-1zM15 16h2v1h-2zM22 16h1v1h-1zM21 17h1v1h-1zM19 18h1v1h-1z"/><path fill="#ffbfbf" d="M25 1h7v1h-7zM12 2h1v1h-1zM0 3h5v1h-5zM11 3h1v1h-1zM14 5h2v1h-2zM18 5h1v1h-1zM3 6h1v1h-1zM7 6h1v1h-1zM13 6h1v1h-1zM2 7h1v1h-1zM8 7h1v1h-1zM13 7h1v1h-1zM9 8h1v1h-1zM16 11h1v1h-1zM21 11h1v1h-1zM13 15h1v1h-1zM22 15h1v1h-1z"/><path fill="#ffb9b9" d="M12 0h1v1h-1zM24 0h8v1h-8zM12 1h1v1h-1zM24 1h1v1h-1zM23 2h1v1h-1zM12 3h1v1h-1zM4 4h4v1h-4zM21 4h1v1h-1zM4 5h3v1h-3zM13 5h1v1h-1zM16 5h2v1h-2zM12 6h1v1h-1zM9 7h4v1h-4zM0 8h1v1h-1zM10 8h1v1h-1zM14 8h1v1h-1zM10 12h1v1h-1zM20 12h1v1h-1zM18 13h1v1h-1zM22 13h1v1h-1zM22 14h1v1h-1zM14 15h1v1h-1zM17 16h1v1h-1zM18 17h1v1h-1zM20 17h1v1h-1z"/><path fill="#ffb2b2" d="M23 1h1v1h-1zM13 3h1v1h-1zM22 3h1v1h-1zM3 4h1v1h-1zM8 4h2v1h-2zM12 4h3v1h-3zM3 5h1v1h-1zM7 5h1v1h-1zM8 6h4v1h-4zM1 7h1v1h-1zM10 9h1v1h-1zM15 9h1v1h-1zM21 12h1v1h-1zM17 13h1v1h-1zM19 13h1v1h-1zM15 15h2v1h-2zM21 16h1v1h-1zM19 17h1v1h-1z"/><path fill="#ffacac" d="M23 0h1v1h-1zM13 2h1v1h-1zM22 2h1v1h-1zM0 4h1v1h-1zM2 4h1v1h-1zM10 4h2v1h-2zM15 4h1v1h-1zM19 4h2v1h-2zM8 5h5v1h-5zM2 6h1v1h-1zM0 7h1v1h-1zM11 8h3v1h-3zM10 10h1v1h-1zM10 11h1v1h-1zM16 12h1v1h-1zM20 13h1v1h-1zM17 14h1v1h-1zM17 15h1v1h-1zM18 16h1v1h-1z"/><path fill="#ffa6a6" d="M13 1h1v1h-1zM22 1h1v1h-1zM14 3h1v1h-1zM1 4h1v1h-1zM16 4h3v1h-3zM2 5h1v1h-1zM11 13h1v1h-1zM21 13h1v1h-1zM18 14h1v1h-1zM21 14h1v1h-1zM18 15h1v1h-1zM21 15h1v1h-1zM19 16h2v1h-2z"/><path fill="#ff9f9f" d="M13 0h1v1h-1zM22 0h1v1h-1zM21 3h1v1h-1zM1 5h1v1h-1zM0 6h2v1h-2zM11 9h1v1h-1zM16 13h1v1h-1zM12 14h1v1h-1zM16 14h1v1h-1zM19 14h1v1h-1z"/><path fill="#ff9999" d="M14 2h1v1h-1zM15 3h1v1h-1zM0 5h1v1h-1zM15 10h1v1h-1zM15 14h1v1h-1zM20 14h1v1h-1zM19 15h2v1h-2z"/><path fill="#ff9393" d="M21 0h1v1h-1zM21 1h1v1h-1zM21 2h1v1h-1zM20 3h1v1h-1zM14 9h1v1h-1zM13 14h2v1h-2z"/><path fill="#ff8c8c" d="M14 1h1v1h-1zM16 3h1v1h-1zM19 3h1v1h-1zM12 9h2v1h-2zM11 10h1v1h-1zM11 12h1v1h-1z"/><path fill="#ff8686" d="M14 0h1v1h-1zM15 2h1v1h-1zM20 2h1v1h-1zM17 3h2v1h-2zM15 11h1v1h-1zM15 13h1v1h-1z"/><path fill="#ff8080" d="M20 0h1v1h-1zM20 1h1v1h-1zM11 11h1v1h-1zM15 12h1v1h-1z"/><path fill="#ff7979" d="M15 1h1v1h-1zM16 2h1v1h-1zM19 2h1v1h-1zM12 13h1v1h-1z"/><path fill="#ff7373" d="M15 0h1v1h-1zM17 2h2v1h-2zM14 10h1v1h-1zM14 13h1v1h-1z"/><path fill="#ff6c6c" d="M19 0h1v1h-1zM16 1h1v1h-1zM19 1h1v1h-1zM12 10h1v1h-1z"/><path fill="#ff6666" d="M16 0h1v1h-1zM18 1h1v1h-1zM13 13h1v1h-1z"/><path fill="#ff6060" d="M17 0h2v1h-2zM17 1h1v1h-1zM13 10h1v1h-1zM12 12h1v1h-1z"/><path fill="#ff5959" d="M12 11h1v1h-1zM14 12h1v1h-1z"/><path fill="#ff5353" d="M13 11h2v1h-2z"/><path fill="#ff4d4d" d="M13 12h1v1h-1z"/></svg>
<path d="M103.43 590.50v12.5M103.43 1034.00v-12.5M96.50 597.43h12.5M540.00 597.43h-12.5M242.02 590.50v12.5M242.02 1034.00v-12.5M96.50 736.02h12.5M540.00 736.02h-12.5M380.62 590.50v12.5M380.62 1034.00v-12.5M96.50 874.62h12.5M540.00 874.62h-12.5M519.21 590.50v12.5M519.21 1034.00v-12.5M96.50 1013.21h12.5M540.00 1013.21h-12.5" stroke="#000" stroke-width="3.6" fill="none"/>
<path d="M131.15 590.50v6.4M131.15 1034.00v-6.4M96.50 625.15h6.4M540.00 625.15h-6.4M158.87 590.50v6.4M158.87 1034.00v-6.4M96.50 652.87h6.4M540.00 652.87h-6.4M186.59 590.50v6.4M186.59 1034.00v-6.4M96.50 680.59h6.4M540.00 680.59h-6.4M214.30 590.50v6.4M214.30 1034.00v-6.4M96.50 708.30h6.4M540.00 708.30h-6.4M269.74 590.50v6.4M269.74 1034.00v-6.4M96.50 763.74h6.4M540.00 763.74h-6.4M297.46 590.50v6.4M297.46 1034.00v-6.4M96.50 791.46h6.4M540.00 791.46h-6.4M325.18 590.50v6.4M325.18 1034.00v-6.4M96.50 819.18h6.4M540.00 819.18h-6.4M352.90 590.50v6.4M352.90 1034.00v-6.4M96.50 846.90h6.4M540.00 846.90h-6.4M408.34 590.50v6.4M408.34 1034.00v-6.4M96.50 902.34h6.4M540.00 902.34h-6.4M436.05 590.50v6.4M436.05 1034.00v-6.4M96.50 930.05h6.4M540.00 930.05h-6.4M463.77 590.50v6.4M463.77 1034.00v-6.4M96.50 957.77h6.4M540.00 957.77h-6.4M491.49 590.50v6.4M491.49 1034.00v-6.4M96.50 985.49h6.4M540.00 985.49h-6.4" stroke="#000" stroke-width="3" fill="none"/>
<rect x="96.50" y="590.50" width="443.50" height="443.50" fill="none" stroke="#000" stroke-width="4.4"/>
<text x="103.43" y="1066.50" text-anchor="middle" font-size="33">0</text>
<text x="89.00" y="609.43" text-anchor="end" font-size="33">0</text>
<text x="242.02" y="1066.50" text-anchor="middle" font-size="33">10</text>
<text x="89.00" y="748.02" text-anchor="end" font-size="33">10</text>
<text x="380.62" y="1066.50" text-anchor="middle" font-size="33">20</text>
<text x="89.00" y="886.62" text-anchor="end" font-size="33">20</text>
<text x="519.21" y="1066.50" text-anchor="middle" font-size="33">30</text>
<text x="89.00" y="1025.21" text-anchor="end" font-size="33">30</text>
<text x="317.65" y="578.50" text-anchor="middle" font-size="32.6">(d) Prediction</text>
<text x="318.25" y="1105.50" text-anchor="middle" font-size="33">X (pixels)</text>
<text transform="translate(33.20 812.25) rotate(-90)" text-anchor="middle" font-size="33">Y (pixels)</text>
<rect x="568.00" y="566.50" width="24.50" height="492.00" fill="url(#bwr)" stroke="#000" stroke-width="4"/>
<path d="M592.50 566.50h12.5" stroke="#000" stroke-width="3.2"/>
<text x="610.90" y="578.30" font-size="29">1.0</text>
<path d="M592.50 812.50h12.5" stroke="#000" stroke-width="3.2"/>
<text x="610.90" y="824.30" font-size="29">0.5</text>
<path d="M592.50 1058.50h12.5" stroke="#000" stroke-width="3.2"/>
<text x="610.90" y="1070.30" font-size="29">0.0</text>
<svg x="765.00" y="590.50" width="443.50" height="443.50" viewBox="0 0 32 32" preserveAspectRatio="none" shape-rendering="crispEdges"><path fill="#acacff" d="M13 14h1v1h-1z"/><path fill="#b2b2ff" d="M13 15h1v1h-1z"/><path fill="#b9b9ff" d="M12 15h1v1h-1z"/><path fill="#bfbfff" d="M14 14h1v1h-1z"/><path fill="#c6c6ff" d="M12 16h2v1h-2z"/><path fill="#ccccff" d="M14 15h1v1h-1z"/><path fill="#d9d9ff" d="M12 17h1v1h-1z"/><path fill="#dfdfff" d="M13 11h1v1h-1zM11 15h1v1h-1z"/><path fill="#e6e6ff" d="M14 16h1v1h-1zM0 17h1v1h-1zM12 18h2v1h-2zM0 24h1v1h-1zM0 31h1v1h-1z"/><path fill="#ececff" d="M0 13h1v1h-1zM0 14h1v1h-1zM10 14h1v1h-1zM0 19h1v1h-1zM0 22h1v1h-1zM0 27h1v1h-1zM0 28h1v1h-1zM4 31h1v1h-1zM9 31h1v1h-1zM12 31h1v1h-1zM25 31h2v1h-2zM31 31h1v1h-1z"/><path fill="#f2f2ff" d="M0 1h1v1h-1zM0 9h1v1h-1zM0 10h1v1h-1zM14 10h1v1h-1zM0 11h1v1h-1zM0 12h1v1h-1zM20 12h1v1h-1zM31 12h1v1h-1zM9 14h1v1h-1zM31 14h1v1h-1zM0 15h1v1h-1zM0 16h1v1h-1zM0 18h1v1h-1zM0 20h1v1h-1zM21 20h1v1h-1zM0 21h1v1h-1zM31 22h1v1h-1zM0 23h1v1h-1zM2 23h1v1h-1zM0 25h1v1h-1zM0 26h1v1h-1zM31 26h1v1h-1zM28 27h1v1h-1zM31 28h1v1h-1zM0 29h1v1h-1zM0 30h1v1h-1zM16 30h1v1h-1zM3 31h1v1h-1zM5 31h1v1h-1zM7 31h2v1h-2zM11 31h1v1h-1zM13 31h2v1h-2zM19 31h2v1h-2zM23 31h1v1h-1zM27 31h4v1h-4z"/><path fill="#f9f9ff" d="M0 0h1v1h-1zM5 0h1v1h-1zM11 0h1v1h-1zM31 0h1v1h-1zM0 2h1v1h-1zM0 3h1v1h-1zM0 4h1v1h-1zM31 4h1v1h-1zM0 5h1v1h-1zM0 7h1v1h-1zM31 7h1v1h-1zM31 9h1v1h-1zM20 10h2v1h-2zM18 11h3v1h-3zM26 11h1v1h-1zM30 11h2v1h-2zM6 12h1v1h-1zM22 12h1v1h-1zM30 12h1v1h-1zM3 13h1v1h-1zM11 13h1v1h-1zM14 13h1v1h-1zM25 13h2v1h-2zM31 13h1v1h-1zM7 14h1v1h-1zM12 14h1v1h-1zM28 14h2v1h-2zM1 15h1v1h-1zM9 15h1v1h-1zM31 15h1v1h-1zM1 16h1v1h-1zM11 16h1v1h-1zM20 16h1v1h-1zM26 16h1v1h-1zM30 16h2v1h-2zM1 17h1v1h-1zM5 17h1v1h-1zM7 17h1v1h-1zM9 17h1v1h-1zM18 17h1v1h-1zM24 17h1v1h-1zM31 17h1v1h-1zM6 18h1v1h-1zM24 18h1v1h-1zM26 18h1v1h-1zM28 18h1v1h-1zM31 18h1v1h-1zM6 19h2v1h-2zM9 19h1v1h-1zM21 19h2v1h-2zM30 19h2v1h-2zM2 20h1v1h-1zM4 20h1v1h-1zM6 20h2v1h-2zM23 20h1v1h-1zM28 20h1v1h-1zM30 20h2v1h-2zM2 21h1v1h-1zM9 21h2v1h-2zM13 21h1v1h-1zM18 21h1v1h-1zM26 21h1v1h-1zM2 22h1v1h-1zM5 22h1v1h-1zM7 22h1v1h-1zM16 22h1v1h-1zM20 22h1v1h-1zM3 23h1v1h-1zM6 23h1v1h-1zM20 23h1v1h-1zM25 23h2v1h-2zM29 23h1v1h-1zM31 23h1v1h-1zM8 24h2v1h-2zM11 24h1v1h-1zM13 24h1v1h-1zM17 24h1v1h-1zM22 24h1v1h-1zM27 24h1v1h-1zM31 24h1v1h-1zM2 25h1v1h-1zM11 25h1v1h-1zM24 25h1v1h-1zM31 25h1v1h-1zM11 26h1v1h-1zM15 26h1v1h-1zM28 26h1v1h-1zM7 27h1v1h-1zM25 27h1v1h-1zM30 27h2v1h-2zM1 28h1v1h-1zM3 28h1v1h-1zM16 28h1v1h-1zM23 28h1v1h-1zM28 28h1v1h-1zM4 29h1v1h-1zM7 29h1v1h-1zM17 29h1v1h-1zM21 29h1v1h-1zM26 29h1v1h-1zM31 29h1v1h-1zM3 30h2v1h-2zM9 30h1v1h-1zM12 30h2v1h-2zM21 30h1v1h-1zM31 30h1v1h-1zM1 31h2v1h-2zM6 31h1v1h-1zM10 31h1v1h-1zM15 31h4v1h-4zM21 31h2v1h-2zM24 31h1v1h-1z"/><path fill="#fff9f9" d="M4 0h1v1h-1zM6 0h1v1h-1zM8 0h1v1h-1zM10 0h1v1h-1zM14 0h1v1h-1zM19 0h1v1h-1zM21 0h4v1h-4zM29 0h1v1h-1zM3 1h1v1h-1zM5 1h1v1h-1zM7 1h2v1h-2zM12 1h1v1h-1zM14 1h1v1h-1zM31 1h1v1h-1zM1 2h1v1h-1zM7 2h2v1h-2zM10 2h1v1h-1zM12 2h1v1h-1zM31 2h1v1h-1zM2 3h1v1h-1zM4 3h1v1h-1zM8 3h1v1h-1zM11 3h2v1h-2zM14 3h1v1h-1zM23 3h3v1h-3zM4 4h1v1h-1zM9 4h1v1h-1zM22 4h1v1h-1zM27 4h4v1h-4zM9 5h1v1h-1zM20 5h1v1h-1zM25 5h1v1h-1zM29 5h1v1h-1zM31 5h1v1h-1zM0 6h1v1h-1zM3 6h1v1h-1zM12 6h3v1h-3zM16 6h1v1h-1zM19 6h1v1h-1zM21 6h2v1h-2zM25 6h1v1h-1zM11 7h2v1h-2zM14 7h1v1h-1zM19 7h2v1h-2zM23 7h1v1h-1zM25 7h3v1h-3zM3 8h1v1h-1zM5 8h1v1h-1zM7 8h1v1h-1zM13 8h1v1h-1zM18 8h2v1h-2zM22 8h1v1h-1zM24 8h3v1h-3zM28 8h3v1h-3zM1 9h8v1h-8zM10 9h2v1h-2zM14 9h1v1h-1zM16 9h1v1h-1zM18 9h1v1h-1zM20 9h1v1h-1zM23 9h1v1h-1zM27 9h3v1h-3zM2 10h1v1h-1zM4 10h2v1h-2zM7 10h4v1h-4zM23 10h1v1h-1zM28 10h1v1h-1zM30 10h1v1h-1zM1 11h1v1h-1zM9 11h1v1h-1zM22 11h2v1h-2zM27 11h2v1h-2zM7 12h1v1h-1zM25 12h1v1h-1zM27 12h2v1h-2zM1 13h1v1h-1zM5 13h1v1h-1zM8 13h1v1h-1zM10 13h1v1h-1zM22 13h2v1h-2zM27 13h1v1h-1zM1 14h1v1h-1zM3 14h1v1h-1zM6 14h1v1h-1zM25 14h1v1h-1zM4 15h1v1h-1zM6 15h3v1h-3zM30 15h1v1h-1zM7 16h2v1h-2zM3 17h2v1h-2zM8 17h1v1h-1zM29 17h1v1h-1zM3 18h1v1h-1zM8 18h1v1h-1zM10 18h1v1h-1zM14 18h1v1h-1zM23 18h1v1h-1zM1 19h1v1h-1zM3 19h1v1h-1zM8 19h1v1h-1zM1 20h1v1h-1zM3 20h1v1h-1zM10 20h3v1h-3zM15 20h2v1h-2zM19 20h1v1h-1zM27 20h1v1h-1zM1 21h1v1h-1zM12 21h1v1h-1zM24 21h2v1h-2zM29 21h1v1h-1zM3 22h1v1h-1zM11 22h1v1h-1zM17 22h1v1h-1zM25 22h2v1h-2zM5 23h1v1h-1zM14 23h1v1h-1zM16 23h1v1h-1zM24 23h1v1h-1zM27 23h1v1h-1zM4 24h1v1h-1zM6 24h1v1h-1zM16 24h1v1h-1zM21 24h1v1h-1zM26 24h1v1h-1zM28 24h1v1h-1zM7 25h1v1h-1zM9 25h1v1h-1zM14 25h1v1h-1zM16 25h1v1h-1zM21 25h1v1h-1zM3 26h1v1h-1zM8 26h1v1h-1zM13 26h1v1h-1zM17 26h1v1h-1zM21 26h1v1h-1zM23 26h2v1h-2zM6 27h1v1h-1zM8 27h2v1h-2zM17 27h1v1h-1zM23 27h1v1h-1zM10 28h1v1h-1zM12 28h1v1h-1zM14 28h2v1h-2zM24 28h1v1h-1zM26 28h1v1h-1zM2 29h2v1h-2zM8 29h3v1h-3zM12 29h1v1h-1zM14 29h2v1h-2zM20 29h1v1h-1zM25 29h1v1h-1zM28 29h1v1h-1zM14 30h1v1h-1zM27 30h1v1h-1z"/><path fill="#fff2f2" d="M6 1h1v1h-1zM11 1h1v1h-1zM15 1h2v1h-2zM19 1h1v1h-1zM22 1h2v1h-2zM26 1h1v1h-1zM28 1h1v1h-1zM30 1h1v1h-1zM2 2h3v1h-3zM9 2h1v1h-1zM13 2h2v1h-2zM18 2h1v1h-1zM22 2h1v1h-1zM24 2h1v1h-1zM27 2h3v1h-3zM1 3h1v1h-1zM3 3h1v1h-1zM5 3h3v1h-3zM9 3h2v1h-2zM13 3h1v1h-1zM15 3h3v1h-3zM22 3h1v1h-1zM26 3h2v1h-2zM29 3h2v1h-2zM1 4h3v1h-3zM5 4h1v1h-1zM7 4h2v1h-2zM11 4h11v1h-11zM24 4h1v1h-1zM26 4h1v1h-1zM1 5h3v1h-3zM5 5h1v1h-1zM7 5h1v1h-1zM10 5h1v1h-1zM13 5h3v1h-3zM17 5h3v1h-3zM21 5h4v1h-4zM26 5h3v1h-3zM30 5h1v1h-1zM8 6h1v1h-1zM10 6h1v1h-1zM15 6h1v1h-1zM18 6h1v1h-1zM23 6h2v1h-2zM26 6h2v1h-2zM29 6h2v1h-2zM2 7h7v1h-7zM10 7h1v1h-1zM13 7h1v1h-1zM15 7h4v1h-4zM21 7h2v1h-2zM30 7h1v1h-1zM1 8h2v1h-2zM4 8h1v1h-1zM6 8h1v1h-1zM8 8h5v1h-5zM14 8h4v1h-4zM21 8h1v1h-1zM23 8h1v1h-1zM27 8h1v1h-1zM9 9h1v1h-1zM12 9h1v1h-1zM17 9h1v1h-1zM22 9h1v1h-1zM24 9h1v1h-1zM11 10h1v1h-1zM13 10h1v1h-1zM17 10h1v1h-1zM10 11h1v1h-1zM17 11h1v1h-1zM24 11h1v1h-1zM14 12h1v1h-1zM21 15h1v1h-1zM19 16h1v1h-1zM21 16h1v1h-1zM14 17h1v1h-1zM19 17h1v1h-1zM21 17h1v1h-1zM15 18h1v1h-1zM19 18h1v1h-1zM21 18h1v1h-1zM12 19h1v1h-1zM15 19h1v1h-1zM19 19h1v1h-1zM11 21h1v1h-1zM28 22h1v1h-1z"/><path fill="#ffecec" d="M24 1h2v1h-2zM27 1h1v1h-1zM29 1h1v1h-1zM15 2h1v1h-1zM17 2h1v1h-1zM19 2h1v1h-1zM23 2h1v1h-1zM25 2h2v1h-2zM30 2h1v1h-1zM18 3h1v1h-1zM6 4h1v1h-1zM10 4h1v1h-1zM25 4h1v1h-1zM4 5h1v1h-1zM6 5h1v1h-1zM11 5h1v1h-1zM16 5h1v1h-1zM1 6h2v1h-2zM4 6h4v1h-4zM9 6h1v1h-1zM11 6h1v1h-1zM17 6h1v1h-1zM20 6h1v1h-1zM28 6h1v1h-1zM1 7h1v1h-1zM9 7h1v1h-1zM24 7h1v1h-1zM29 7h1v1h-1zM26 9h1v1h-1zM15 10h1v1h-1zM10 12h1v1h-1zM15 12h1v1h-1zM19 12h1v1h-1zM9 13h1v1h-1zM11 14h1v1h-1zM10 17h1v1h-1zM16 18h1v1h-1zM20 18h1v1h-1zM11 19h1v1h-1zM16 19h1v1h-1zM20 19h1v1h-1zM13 20h1v1h-1z"/><path fill="#ffe6e6" d="M16 2h1v1h-1zM20 2h2v1h-2zM19 3h1v1h-1zM8 5h1v1h-1zM12 5h1v1h-1zM21 14h1v1h-1zM20 17h1v1h-1zM17 18h1v1h-1zM14 20h1v1h-1zM18 20h1v1h-1z"/><path fill="#ffdfdf" d="M18 1h1v1h-1zM20 3h2v1h-2zM9 12h1v1h-1zM12 12h1v1h-1zM21 13h1v1h-1zM17 20h1v1h-1z"/><path fill="#ffd9d9" d="M12 10h1v1h-1zM16 11h1v1h-1zM11 12h1v1h-1zM12 13h2v1h-2zM17 19h2v1h-2z"/><path fill="#ffd2d2" d="M11 11h2v1h-2z"/><path fill="#ffcccc" d="M17 1h1v1h-1zM16 10h1v1h-1zM14 11h1v1h-1zM20 15h1v1h-1zM18 16h1v1h-1zM17 17h1v1h-1z"/><path fill="#ffc6c6" d="M15 13h1v1h-1z"/><path fill="#ffbfbf" d="M16 12h3v1h-3zM20 14h1v1h-1z"/><path fill="#ffb2b2" d="M13 12h1v1h-1zM19 13h1v1h-1zM15 15h1v1h-1zM15 17h1v1h-1z"/><path fill="#ffacac" d="M19 15h1v1h-1zM16 17h1v1h-1z"/><path fill="#ffa6a6" d="M15 14h1v1h-1zM19 14h1v1h-1z"/><path fill="#ff9393" d="M18 15h1v1h-1zM15 16h1v1h-1zM17 16h1v1h-1z"/><path fill="#ff8080" d="M18 13h1v1h-1zM18 14h1v1h-1zM16 16h1v1h-1z"/><path fill="#ff7373" d="M16 13h1v1h-1z"/><path fill="#ff6c6c" d="M17 15h1v1h-1z"/><path fill="#ff6666" d="M17 13h1v1h-1zM16 15h1v1h-1z"/><path fill="#ff6060" d="M17 14h1v1h-1z"/><path fill="#ff4d4d" d="M16 14h1v1h-1z"/></svg>
<path d="M771.93 590.50v12.5M771.93 1034.00v-12.5M765.00 597.43h12.5M1208.50 597.43h-12.5M910.52 590.50v12.5M910.52 1034.00v-12.5M765.00 736.02h12.5M1208.50 736.02h-12.5M1049.12 590.50v12.5M1049.12 1034.00v-12.5M765.00 874.62h12.5M1208.50 874.62h-12.5M1187.71 590.50v12.5M1187.71 1034.00v-12.5M765.00 1013.21h12.5M1208.50 1013.21h-12.5" stroke="#000" stroke-width="3.6" fill="none"/>
<path d="M799.65 590.50v6.4M799.65 1034.00v-6.4M765.00 625.15h6.4M1208.50 625.15h-6.4M827.37 590.50v6.4M827.37 1034.00v-6.4M765.00 652.87h6.4M1208.50 652.87h-6.4M855.09 590.50v6.4M855.09 1034.00v-6.4M765.00 680.59h6.4M1208.50 680.59h-6.4M882.80 590.50v6.4M882.80 1034.00v-6.4M765.00 708.30h6.4M1208.50 708.30h-6.4M938.24 590.50v6.4M938.24 1034.00v-6.4M765.00 763.74h6.4M1208.50 763.74h-6.4M965.96 590.50v6.4M965.96 1034.00v-6.4M765.00 791.46h6.4M1208.50 791.46h-6.4M993.68 590.50v6.4M993.68 1034.00v-6.4M765.00 819.18h6.4M1208.50 819.18h-6.4M1021.40 590.50v6.4M1021.40 1034.00v-6.4M765.00 846.90h6.4M1208.50 846.90h-6.4M1076.84 590.50v6.4M1076.84 1034.00v-6.4M765.00 902.34h6.4M1208.50 902.34h-6.4M1104.55 590.50v6.4M1104.55 1034.00v-6.4M765.00 930.05h6.4M1208.50 930.05h-6.4M1132.27 590.50v6.4M1132.27 1034.00v-6.4M765.00 957.77h6.4M1208.50 957.77h-6.4M1159.99 590.50v6.4M1159.99 1034.00v-6.4M765.00 985.49h6.4M1208.50 985.49h-6.4" stroke="#000" stroke-width="3" fill="none"/>
<rect x="765.00" y="590.50" width="443.50" height="443.50" fill="none" stroke="#000" stroke-width="4.4"/>
<text x="771.93" y="1066.50" text-anchor="middle" font-size="33">0</text>
<text x="757.50" y="609.43" text-anchor="end" font-size="33">0</text>
<text x="910.52" y="1066.50" text-anchor="middle" font-size="33">10</text>
<text x="757.50" y="748.02" text-anchor="end" font-size="33">10</text>
<text x="1049.12" y="1066.50" text-anchor="middle" font-size="33">20</text>
<text x="757.50" y="886.62" text-anchor="end" font-size="33">20</text>
<text x="1187.71" y="1066.50" text-anchor="middle" font-size="33">30</text>
<text x="757.50" y="1025.21" text-anchor="end" font-size="33">30</text>
<text x="986.15" y="578.50" text-anchor="middle" font-size="32.6">(e) Residual</text>
<text x="986.75" y="1105.50" text-anchor="middle" font-size="33">X (pixels)</text>
<rect x="1236.50" y="566.50" width="24.50" height="492.00" fill="url(#bwr)" stroke="#000" stroke-width="4"/>
<path d="M1261.00 566.50h12.5" stroke="#000" stroke-width="3.2"/>
<text x="1279.40" y="578.30" font-size="29">0.05</text>
<path d="M1261.00 812.50h12.5" stroke="#000" stroke-width="3.2"/>
<text x="1279.40" y="824.30" font-size="29">0.0</text>
<path d="M1261.00 1058.50h12.5" stroke="#000" stroke-width="3.2"/>
<text x="1279.40" y="1070.30" font-size="29">-0.05</text>
<svg x="1433.25" y="590.50" width="443.50" height="443.50" viewBox="0 0 32 32" preserveAspectRatio="none" shape-rendering="crispEdges"><path fill="#f2f2ff" d="M13 14h1v1h-1zM12 15h1v1h-1zM12 16h1v1h-1z"/><path fill="#f9f9ff" d="M11 15h1v1h-1z"/><path fill="#fff9f9" d="M19 3h3v1h-3zM15 12h1v1h-1zM19 19h1v1h-1z"/><path fill="#fff2f2" d="M17 1h2v1h-2zM20 14h1v1h-1zM20 15h1v1h-1zM19 18h1v1h-1zM13 20h6v1h-6z"/><path fill="#ffecec" d="M13 12h1v1h-1zM16 12h3v1h-3zM14 14h1v1h-1zM13 16h1v1h-1zM19 17h1v1h-1zM18 19h1v1h-1z"/><path fill="#ffe6e6" d="M19 13h1v1h-1zM19 14h1v1h-1zM19 16h1v1h-1zM13 17h1v1h-1z"/><path fill="#ffdfdf" d="M15 13h1v1h-1zM19 15h1v1h-1zM18 18h1v1h-1zM15 19h3v1h-3z"/><path fill="#ffd9d9" d="M18 13h1v1h-1zM14 18h1v1h-1z"/><path fill="#ffc6c6" d="M18 14h1v1h-1zM18 17h1v1h-1z"/><path fill="#ffbfbf" d="M14 17h1v1h-1z"/><path fill="#ffb9b9" d="M16 13h2v1h-2zM14 15h1v1h-1zM15 18h1v1h-1zM17 18h1v1h-1z"/><path fill="#ffb2b2" d="M14 16h1v1h-1z"/><path fill="#ffacac" d="M18 15h1v1h-1zM18 16h1v1h-1z"/><path fill="#ffa6a6" d="M15 14h1v1h-1zM16 18h1v1h-1z"/><path fill="#ff9999" d="M17 14h1v1h-1z"/><path fill="#ff8686" d="M17 17h1v1h-1z"/><path fill="#ff8080" d="M16 14h1v1h-1zM15 17h1v1h-1z"/><path fill="#ff6c6c" d="M17 15h1v1h-1z"/><path fill="#ff6666" d="M15 15h1v1h-1zM17 16h1v1h-1zM16 17h1v1h-1z"/><path fill="#ff5959" d="M15 16h1v1h-1z"/><path fill="#ff4d4d" d="M16 15h1v1h-1zM16 16h1v1h-1z"/></svg>
<path d="M1440.18 590.50v12.5M1440.18 1034.00v-12.5M1433.25 597.43h12.5M1876.75 597.43h-12.5M1578.77 590.50v12.5M1578.77 1034.00v-12.5M1433.25 736.02h12.5M1876.75 736.02h-12.5M1717.37 590.50v12.5M1717.37 1034.00v-12.5M1433.25 874.62h12.5M1876.75 874.62h-12.5M1855.96 590.50v12.5M1855.96 1034.00v-12.5M1433.25 1013.21h12.5M1876.75 1013.21h-12.5" stroke="#000" stroke-width="3.6" fill="none"/>
<path d="M1467.90 590.50v6.4M1467.90 1034.00v-6.4M1433.25 625.15h6.4M1876.75 625.15h-6.4M1495.62 590.50v6.4M1495.62 1034.00v-6.4M1433.25 652.87h6.4M1876.75 652.87h-6.4M1523.34 590.50v6.4M1523.34 1034.00v-6.4M1433.25 680.59h6.4M1876.75 680.59h-6.4M1551.05 590.50v6.4M1551.05 1034.00v-6.4M1433.25 708.30h6.4M1876.75 708.30h-6.4M1606.49 590.50v6.4M1606.49 1034.00v-6.4M1433.25 763.74h6.4M1876.75 763.74h-6.4M1634.21 590.50v6.4M1634.21 1034.00v-6.4M1433.25 791.46h6.4M1876.75 791.46h-6.4M1661.93 590.50v6.4M1661.93 1034.00v-6.4M1433.25 819.18h6.4M1876.75 819.18h-6.4M1689.65 590.50v6.4M1689.65 1034.00v-6.4M1433.25 846.90h6.4M1876.75 846.90h-6.4M1745.09 590.50v6.4M1745.09 1034.00v-6.4M1433.25 902.34h6.4M1876.75 902.34h-6.4M1772.80 590.50v6.4M1772.80 1034.00v-6.4M1433.25 930.05h6.4M1876.75 930.05h-6.4M1800.52 590.50v6.4M1800.52 1034.00v-6.4M1433.25 957.77h6.4M1876.75 957.77h-6.4M1828.24 590.50v6.4M1828.24 1034.00v-6.4M1433.25 985.49h6.4M1876.75 985.49h-6.4" stroke="#000" stroke-width="3" fill="none"/>
<rect x="1433.25" y="590.50" width="443.50" height="443.50" fill="none" stroke="#000" stroke-width="4.4"/>
<text x="1440.18" y="1066.50" text-anchor="middle" font-size="33">0</text>
<text x="1425.75" y="609.43" text-anchor="end" font-size="33">0</text>
<text x="1578.77" y="1066.50" text-anchor="middle" font-size="33">10</text>
<text x="1425.75" y="748.02" text-anchor="end" font-size="33">10</text>
<text x="1717.37" y="1066.50" text-anchor="middle" font-size="33">20</text>
<text x="1425.75" y="886.62" text-anchor="end" font-size="33">20</text>
<text x="1855.96" y="1066.50" text-anchor="middle" font-size="33">30</text>
<text x="1425.75" y="1025.21" text-anchor="end" font-size="33">30</text>
<text x="1654.40" y="578.50" text-anchor="middle" font-size="32.6">(f) Residual Source</text>
<text x="1655.00" y="1105.50" text-anchor="middle" font-size="33">X (pixels)</text>
<rect x="1904.75" y="566.50" width="24.50" height="492.00" fill="url(#bwr)" stroke="#000" stroke-width="4"/>
<path d="M1929.25 566.50h12.5" stroke="#000" stroke-width="3.2"/>
<text x="1947.65" y="578.30" font-size="29">0.2</text>
<path d="M1929.25 812.50h12.5" stroke="#000" stroke-width="3.2"/>
<text x="1947.65" y="824.30" font-size="29">0.0</text>
<path d="M1929.25 1058.50h12.5" stroke="#000" stroke-width="3.2"/>
<text x="1947.65" y="1070.30" font-size="29">-0.2</text>
<svg x="88.50" y="1329.00" width="443.50" height="443.50" viewBox="0 0 32 32" preserveAspectRatio="none" shape-rendering="crispEdges"><path fill="#4646ff" d="M9 31h1v1h-1z"/><path fill="#6c6cff" d="M9 30h1v1h-1z"/><path fill="#7373ff" d="M8 31h1v1h-1z"/><path fill="#7979ff" d="M9 29h1v1h-1zM31 31h1v1h-1z"/><path fill="#8080ff" d="M10 31h1v1h-1z"/><path fill="#8686ff" d="M8 30h1v1h-1zM10 30h1v1h-1zM30 31h1v1h-1z"/><path fill="#8c8cff" d="M9 28h1v1h-1zM10 29h1v1h-1zM31 30h1v1h-1zM20 31h1v1h-1zM29 31h1v1h-1z"/><path fill="#9393ff" d="M10 28h1v1h-1zM20 30h1v1h-1zM30 30h1v1h-1zM4 31h1v1h-1zM21 31h1v1h-1zM28 31h1v1h-1z"/><path fill="#9999ff" d="M9 27h1v1h-1zM8 29h1v1h-1zM19 29h1v1h-1zM31 29h1v1h-1zM4 30h1v1h-1zM19 30h1v1h-1zM21 30h1v1h-1zM29 30h1v1h-1zM11 31h1v1h-1z"/><path fill="#9f9fff" d="M10 27h1v1h-1zM18 28h2v1h-2zM18 29h1v1h-1zM20 29h2v1h-2zM30 29h1v1h-1zM18 30h1v1h-1zM28 30h1v1h-1zM19 31h1v1h-1z"/><path fill="#a6a6ff" d="M9 26h1v1h-1zM18 27h1v1h-1zM8 28h1v1h-1zM20 28h2v1h-2zM4 29h1v1h-1zM22 29h1v1h-1zM28 29h2v1h-2zM11 30h1v1h-1zM22 30h1v1h-1zM7 31h1v1h-1zM22 31h1v1h-1zM27 31h1v1h-1z"/><path fill="#acacff" d="M0 15h1v1h-1zM26 22h2v1h-2zM26 23h2v1h-2zM27 24h1v1h-1zM27 25h1v1h-1zM10 26h1v1h-1zM27 26h1v1h-1zM8 27h1v1h-1zM19 27h4v1h-4zM4 28h2v1h-2zM11 28h1v1h-1zM22 28h2v1h-2zM28 28h4v1h-4zM5 29h1v1h-1zM11 29h1v1h-1zM17 29h1v1h-1zM23 29h1v1h-1zM27 29h1v1h-1zM5 30h1v1h-1zM17 30h1v1h-1zM23 30h1v1h-1zM27 30h1v1h-1zM12 31h1v1h-1zM15 31h1v1h-1zM18 31h1v1h-1z"/><path fill="#b2b2ff" d="M0 16h1v1h-1zM0 17h1v1h-1zM0 18h1v1h-1zM0 19h1v1h-1zM0 20h1v1h-1zM28 20h1v1h-1zM0 21h1v1h-1zM27 21h2v1h-2zM0 22h1v1h-1zM28 22h1v1h-1zM28 23h1v1h-1zM26 24h1v1h-1zM28 24h1v1h-1zM9 25h1v1h-1zM28 25h1v1h-1zM8 26h1v1h-1zM18 26h6v1h-6zM28 26h4v1h-4zM5 27h1v1h-1zM11 27h1v1h-1zM23 27h1v1h-1zM27 27h5v1h-5zM17 28h1v1h-1zM27 28h1v1h-1zM7 30h1v1h-1zM5 31h1v1h-1zM13 31h2v1h-2zM16 31h2v1h-2zM23 31h1v1h-1z"/><path fill="#b9b9ff" d="M1 13h1v1h-1zM0 14h1v1h-1zM31 16h1v1h-1zM30 17h2v1h-2zM29 18h3v1h-3zM28 19h4v1h-4zM27 20h1v1h-1zM29 20h3v1h-3zM29 21h1v1h-1zM29 22h3v1h-3zM0 23h1v1h-1zM25 23h1v1h-1zM29 23h3v1h-3zM9 24h1v1h-1zM25 24h1v1h-1zM29 24h3v1h-3zM8 25h1v1h-1zM10 25h1v1h-1zM18 25h9v1h-9zM29 25h3v1h-3zM5 26h1v1h-1zM11 26h1v1h-1zM24 26h1v1h-1zM26 26h1v1h-1zM4 27h1v1h-1zM17 27h1v1h-1zM24 27h1v1h-1zM26 27h1v1h-1zM24 28h1v1h-1zM26 28h1v1h-1zM24 29h1v1h-1zM26 29h1v1h-1zM16 30h1v1h-1zM24 30h1v1h-1zM26 30h1v1h-1zM3 31h1v1h-1zM24 31h1v1h-1zM26 31h1v1h-1z"/><path fill="#bfbfff" d="M1 0h2v1h-2zM0 13h1v1h-1zM1 14h1v1h-1zM1 15h1v1h-1zM30 15h2v1h-2zM30 16h1v1h-1zM29 17h1v1h-1zM28 18h1v1h-1zM27 19h1v1h-1zM26 21h1v1h-1zM30 21h2v1h-2zM1 22h1v1h-1zM25 22h1v1h-1zM0 24h1v1h-1zM8 24h1v1h-1zM19 24h1v1h-1zM24 24h1v1h-1zM5 25h1v1h-1zM4 26h1v1h-1zM25 26h1v1h-1zM25 27h1v1h-1zM25 28h1v1h-1zM7 29h1v1h-1zM25 29h1v1h-1zM12 30h1v1h-1zM15 30h1v1h-1zM25 30h1v1h-1zM6 31h1v1h-1zM25 31h1v1h-1z"/><path fill="#c6c6ff" d="M3 0h1v1h-1zM30 14h2v1h-2zM29 15h1v1h-1zM29 16h1v1h-1zM1 21h1v1h-1zM2 22h1v1h-1zM4 22h2v1h-2zM1 23h1v1h-1zM4 23h2v1h-2zM8 23h1v1h-1zM19 23h1v1h-1zM24 23h1v1h-1zM4 24h4v1h-4zM10 24h1v1h-1zM18 24h1v1h-1zM20 24h1v1h-1zM23 24h1v1h-1zM4 25h1v1h-1zM6 25h2v1h-2zM11 25h1v1h-1zM6 26h2v1h-2zM17 26h1v1h-1zM6 27h2v1h-2zM6 28h2v1h-2zM6 29h1v1h-1zM16 29h1v1h-1zM6 30h1v1h-1z"/><path fill="#ccccff" d="M1 1h1v1h-1zM1 12h2v1h-2zM2 13h1v1h-1zM1 16h1v1h-1zM1 17h1v1h-1zM7 17h2v1h-2zM28 17h1v1h-1zM1 18h1v1h-1zM7 18h2v1h-2zM27 18h1v1h-1zM1 19h1v1h-1zM7 19h2v1h-2zM1 20h1v1h-1zM26 20h1v1h-1zM2 21h4v1h-4zM3 22h1v1h-1zM18 22h2v1h-2zM2 23h2v1h-2zM6 23h2v1h-2zM9 23h1v1h-1zM18 23h1v1h-1zM20 23h1v1h-1zM21 24h2v1h-2zM0 25h1v1h-1zM12 28h1v1h-1zM12 29h1v1h-1zM3 30h1v1h-1zM13 30h2v1h-2z"/><path fill="#d2d2ff" d="M2 1h1v1h-1zM0 7h1v1h-1zM6 10h1v1h-1zM2 11h6v1h-6zM0 12h1v1h-1zM3 12h1v1h-1zM29 14h1v1h-1zM8 15h2v1h-2zM7 16h3v1h-3zM28 16h1v1h-1zM9 17h1v1h-1zM6 18h1v1h-1zM9 18h1v1h-1zM5 19h2v1h-2zM26 19h1v1h-1zM4 20h5v1h-5zM19 20h1v1h-1zM18 21h2v1h-2zM25 21h1v1h-1zM6 22h3v1h-3zM20 22h1v1h-1zM24 22h1v1h-1zM23 23h1v1h-1zM17 25h1v1h-1zM12 26h1v1h-1zM12 27h1v1h-1zM16 28h1v1h-1z"/><path fill="#d9d9ff" d="M1 2h1v1h-1zM1 3h1v1h-1zM0 5h1v1h-1zM0 6h1v1h-1zM5 10h1v1h-1zM7 10h1v1h-1zM1 11h1v1h-1zM30 13h2v1h-2zM2 14h1v1h-1zM8 14h2v1h-2zM7 15h1v1h-1zM28 15h1v1h-1zM6 17h1v1h-1zM5 18h1v1h-1zM9 19h1v1h-1zM2 20h2v1h-2zM6 21h3v1h-3zM9 22h1v1h-1zM10 23h1v1h-1zM21 23h2v1h-2zM3 24h1v1h-1zM11 24h1v1h-1zM12 25h1v1h-1zM0 26h1v1h-1z"/><path fill="#dfdfff" d="M4 0h1v1h-1zM0 4h2v1h-2zM0 8h1v1h-1zM6 9h2v1h-2zM4 10h1v1h-1zM8 10h1v1h-1zM0 11h1v1h-1zM8 11h1v1h-1zM4 12h4v1h-4zM7 13h3v1h-3zM29 13h1v1h-1zM7 14h1v1h-1zM6 16h1v1h-1zM27 17h1v1h-1zM4 19h1v1h-1zM9 20h1v1h-1zM25 20h1v1h-1zM9 21h1v1h-1zM20 21h1v1h-1zM21 22h1v1h-1zM23 22h1v1h-1zM17 23h1v1h-1zM1 24h1v1h-1zM12 24h1v1h-1zM17 24h1v1h-1zM3 25h1v1h-1zM16 27h1v1h-1zM13 28h1v1h-1zM13 29h1v1h-1zM15 29h1v1h-1z"/><path fill="#e6e6ff" d="M2 2h1v1h-1zM5 9h1v1h-1zM8 9h1v1h-1zM2 10h2v1h-2zM8 12h2v1h-2zM30 12h2v1h-2zM3 13h1v1h-1zM10 14h1v1h-1zM28 14h1v1h-1zM2 15h1v1h-1zM6 15h1v1h-1zM10 15h1v1h-1zM27 16h1v1h-1zM5 17h1v1h-1zM26 18h1v1h-1zM2 19h1v1h-1zM20 19h1v1h-1zM20 20h1v1h-1zM17 21h1v1h-1zM24 21h1v1h-1zM10 22h1v1h-1zM17 22h1v1h-1zM22 22h1v1h-1zM11 23h1v1h-1zM2 24h1v1h-1zM3 26h1v1h-1zM13 26h1v1h-1zM16 26h1v1h-1zM0 27h1v1h-1zM13 27h1v1h-1zM3 29h1v1h-1zM14 29h1v1h-1z"/><path fill="#ececff" d="M0 0h1v1h-1zM9 0h2v1h-2zM0 1h1v1h-1zM0 2h1v1h-1zM0 3h1v1h-1zM1 5h1v1h-1zM1 6h1v1h-1zM1 7h1v1h-1zM7 8h2v1h-2zM0 9h1v1h-1zM0 10h2v1h-2zM9 10h1v1h-1zM9 11h1v1h-1zM10 12h1v1h-1zM29 12h1v1h-1zM4 13h3v1h-3zM10 13h1v1h-1zM6 14h1v1h-1zM2 16h1v1h-1zM10 16h1v1h-1zM2 17h1v1h-1zM10 17h1v1h-1zM2 18h1v1h-1zM4 18h1v1h-1zM3 19h1v1h-1zM25 19h1v1h-1zM21 21h1v1h-1zM13 24h1v1h-1zM13 25h1v1h-1zM16 25h1v1h-1zM3 27h1v1h-1zM0 28h1v1h-1zM3 28h1v1h-1zM14 28h2v1h-2z"/><path fill="#f2f2ff" d="M5 0h1v1h-1zM3 1h1v1h-1zM1 8h1v1h-1zM1 9h1v1h-1zM9 9h1v1h-1zM26 9h1v1h-1zM10 11h1v1h-1zM28 13h1v1h-1zM3 14h1v1h-1zM27 15h1v1h-1zM5 16h1v1h-1zM26 17h1v1h-1zM10 18h1v1h-1zM10 21h1v1h-1zM12 23h1v1h-1zM1 25h2v1h-2zM14 26h1v1h-1zM14 27h1v1h-1zM0 31h1v1h-1z"/><path fill="#f9f9ff" d="M2 3h1v1h-1zM8 7h1v1h-1zM29 7h1v1h-1zM6 8h1v1h-1zM9 8h1v1h-1zM27 8h3v1h-3zM2 9h1v1h-1zM4 9h1v1h-1zM27 9h2v1h-2zM10 10h1v1h-1zM11 11h1v1h-1zM30 11h1v1h-1zM11 12h1v1h-1zM22 12h1v1h-1zM28 12h1v1h-1zM11 13h1v1h-1zM4 14h2v1h-2zM11 14h1v1h-1zM21 14h1v1h-1zM5 15h1v1h-1zM21 15h1v1h-1zM21 16h1v1h-1zM4 17h1v1h-1zM21 17h1v1h-1zM3 18h1v1h-1zM21 18h1v1h-1zM10 19h1v1h-1zM21 19h1v1h-1zM10 20h1v1h-1zM21 20h1v1h-1zM24 20h1v1h-1zM16 21h1v1h-1zM22 21h2v1h-2zM16 22h1v1h-1zM13 23h2v1h-2zM16 23h1v1h-1zM14 24h1v1h-1zM16 24h1v1h-1zM14 25h1v1h-1zM15 26h1v1h-1zM15 27h1v1h-1zM0 29h1v1h-1zM0 30h1v1h-1z"/><path fill="#fff9f9" d="M6 0h3v1h-3zM3 2h1v1h-1zM31 4h1v1h-1zM9 5h1v1h-1zM8 6h1v1h-1zM27 7h1v1h-1zM5 8h1v1h-1zM10 8h1v1h-1zM26 8h1v1h-1zM12 9h1v1h-1zM12 10h1v1h-1zM24 10h2v1h-2zM12 11h1v1h-1zM22 11h1v1h-1zM27 11h1v1h-1zM12 12h1v1h-1zM12 13h1v1h-1zM22 14h1v1h-1zM22 15h1v1h-1zM25 17h1v1h-1zM2 26h1v1h-1z"/><path fill="#fff2f2" d="M10 1h1v1h-1zM2 5h1v1h-1zM2 7h1v1h-1zM10 7h1v1h-1zM2 8h1v1h-1zM13 9h1v1h-1zM23 10h1v1h-1zM24 11h1v1h-1zM21 12h1v1h-1zM23 12h1v1h-1zM27 13h1v1h-1zM22 16h1v1h-1zM22 17h1v1h-1zM22 18h1v1h-1zM24 18h1v1h-1zM22 19h1v1h-1z"/><path fill="#ffecec" d="M4 1h1v1h-1zM9 1h1v1h-1zM9 4h1v1h-1zM30 4h1v1h-1zM8 5h1v1h-1zM29 5h1v1h-1zM2 6h1v1h-1zM28 6h1v1h-1zM6 7h1v1h-1zM24 9h1v1h-1zM13 10h1v1h-1zM13 11h1v1h-1zM26 11h1v1h-1zM27 12h1v1h-1zM11 16h1v1h-1zM23 19h1v1h-1zM15 21h1v1h-1zM12 22h1v1h-1zM14 22h1v1h-1zM1 27h2v1h-2zM2 30h1v1h-1z"/><path fill="#ffe6e6" d="M9 3h1v1h-1zM30 3h2v1h-2zM10 4h1v1h-1zM10 5h1v1h-1zM7 6h1v1h-1zM10 6h1v1h-1zM3 8h2v1h-2zM11 8h2v1h-2zM25 8h1v1h-1zM25 11h1v1h-1zM13 12h1v1h-1zM20 13h1v1h-1zM23 13h1v1h-1zM26 15h1v1h-1zM25 16h1v1h-1zM11 17h1v1h-1zM23 18h1v1h-1zM11 21h1v1h-1zM13 22h1v1h-1zM2 28h1v1h-1zM2 29h1v1h-1zM1 31h1v1h-1z"/><path fill="#ffdfdf" d="M12 0h1v1h-1zM9 2h2v1h-2zM30 2h1v1h-1zM10 3h1v1h-1zM29 4h1v1h-1zM11 7h1v1h-1zM26 7h1v1h-1zM13 8h1v1h-1zM24 12h1v1h-1zM26 12h1v1h-1zM23 14h1v1h-1zM26 14h1v1h-1zM23 15h1v1h-1zM23 16h1v1h-1zM23 17h2v1h-2zM1 28h1v1h-1z"/><path fill="#ffd9d9" d="M29 0h2v1h-2zM8 1h1v1h-1zM30 1h1v1h-1zM31 2h1v1h-1zM3 3h1v1h-1zM29 3h1v1h-1zM8 4h1v1h-1zM28 5h1v1h-1zM14 8h1v1h-1zM14 9h1v1h-1zM14 10h1v1h-1zM22 10h1v1h-1zM21 11h1v1h-1zM24 16h1v1h-1zM11 18h1v1h-1zM11 19h1v1h-1zM11 20h1v1h-1zM1 29h1v1h-1zM1 30h1v1h-1z"/><path fill="#ffd2d2" d="M27 0h2v1h-2zM31 0h1v1h-1zM5 1h1v1h-1zM11 1h1v1h-1zM29 1h1v1h-1zM31 1h1v1h-1zM29 2h1v1h-1zM7 5h1v1h-1zM27 6h1v1h-1zM3 7h1v1h-1zM5 7h1v1h-1zM12 7h3v1h-3zM14 11h1v1h-1zM25 12h1v1h-1zM24 13h1v1h-1zM26 13h1v1h-1zM24 15h2v1h-2zM14 21h1v1h-1z"/><path fill="#ffcccc" d="M23 0h4v1h-4zM7 1h1v1h-1zM28 1h1v1h-1zM3 4h1v1h-1zM28 4h1v1h-1zM3 5h1v1h-1zM3 6h1v1h-1zM6 6h1v1h-1zM11 6h1v1h-1zM4 7h1v1h-1zM15 7h1v1h-1zM15 8h1v1h-1zM23 9h1v1h-1zM20 12h1v1h-1zM25 13h1v1h-1zM24 14h2v1h-2zM12 21h1v1h-1z"/><path fill="#ffc6c6" d="M22 0h1v1h-1zM6 1h1v1h-1zM4 2h1v1h-1zM8 2h1v1h-1zM11 2h1v1h-1zM28 2h1v1h-1zM8 3h1v1h-1zM11 3h1v1h-1zM28 3h1v1h-1zM11 4h1v1h-1zM11 5h1v1h-1zM25 7h1v1h-1zM24 8h1v1h-1zM13 21h1v1h-1z"/><path fill="#ffbfbf" d="M22 1h1v1h-1zM27 1h1v1h-1zM7 4h1v1h-1zM27 5h1v1h-1zM16 6h1v1h-1zM26 6h1v1h-1zM16 7h1v1h-1z"/><path fill="#ffb9b9" d="M21 0h1v1h-1zM21 1h1v1h-1zM23 1h4v1h-4zM7 2h1v1h-1zM21 2h2v1h-2zM7 3h1v1h-1zM17 5h2v1h-2zM4 6h2v1h-2zM15 6h1v1h-1zM17 6h1v1h-1zM15 9h1v1h-1zM21 10h1v1h-1zM12 20h1v1h-1z"/><path fill="#ffb2b2" d="M13 0h1v1h-1zM12 1h1v1h-1zM5 2h1v1h-1zM20 2h1v1h-1zM23 2h1v1h-1zM27 2h1v1h-1zM4 3h1v1h-1zM20 3h2v1h-2zM4 4h1v1h-1zM19 4h1v1h-1zM27 4h1v1h-1zM4 5h1v1h-1zM6 5h1v1h-1zM12 6h1v1h-1zM14 6h1v1h-1zM15 10h1v1h-1zM15 11h1v1h-1zM20 11h1v1h-1zM12 19h1v1h-1z"/><path fill="#ffacac" d="M20 1h1v1h-1zM6 2h1v1h-1zM24 2h1v1h-1zM26 2h1v1h-1zM19 3h1v1h-1zM27 3h1v1h-1zM6 4h1v1h-1zM18 4h1v1h-1zM20 4h1v1h-1zM5 5h1v1h-1zM16 5h1v1h-1zM19 5h1v1h-1zM26 5h1v1h-1zM13 6h1v1h-1zM16 8h1v1h-1zM22 9h1v1h-1zM19 12h1v1h-1zM13 20h1v1h-1z"/><path fill="#ffa6a6" d="M20 0h1v1h-1zM25 2h1v1h-1zM5 3h2v1h-2zM22 3h1v1h-1zM5 4h1v1h-1zM12 5h1v1h-1zM18 6h1v1h-1zM25 6h1v1h-1zM17 7h1v1h-1zM24 7h1v1h-1zM23 8h1v1h-1z"/><path fill="#ff9f9f" d="M12 2h1v1h-1zM26 3h1v1h-1zM21 4h1v1h-1zM26 4h1v1h-1z"/><path fill="#ff9999" d="M19 2h1v1h-1zM12 3h1v1h-1zM23 3h1v1h-1zM12 4h1v1h-1zM17 4h1v1h-1zM15 5h1v1h-1zM20 5h1v1h-1zM16 9h1v1h-1zM20 10h1v1h-1z"/><path fill="#ff9393" d="M14 0h1v1h-1zM19 0h1v1h-1zM19 1h1v1h-1zM18 3h1v1h-1zM24 3h2v1h-2zM22 4h1v1h-1zM13 5h1v1h-1zM25 5h1v1h-1zM19 6h1v1h-1zM24 6h1v1h-1zM23 7h1v1h-1zM17 8h1v1h-1zM22 8h1v1h-1zM21 9h1v1h-1zM16 10h1v1h-1zM16 11h1v1h-1zM19 11h1v1h-1z"/><path fill="#ff8c8c" d="M13 1h1v1h-1zM25 4h1v1h-1zM14 5h1v1h-1zM18 7h1v1h-1z"/><path fill="#ff8686" d="M23 4h2v1h-2zM21 5h1v1h-1zM24 5h1v1h-1zM20 6h1v1h-1zM23 6h1v1h-1zM17 9h1v1h-1zM17 10h1v1h-1zM17 11h2v1h-2z"/><path fill="#ff8080" d="M18 0h1v1h-1zM16 4h1v1h-1zM22 5h2v1h-2zM22 7h1v1h-1zM18 8h1v1h-1zM21 8h1v1h-1zM20 9h1v1h-1zM19 10h1v1h-1z"/><path fill="#ff7979" d="M18 1h1v1h-1zM13 2h1v1h-1zM18 2h1v1h-1zM21 6h2v1h-2zM19 7h1v1h-1zM18 9h1v1h-1zM18 10h1v1h-1z"/><path fill="#ff7373" d="M15 0h1v1h-1zM17 0h1v1h-1zM13 3h1v1h-1zM17 3h1v1h-1zM13 4h1v1h-1zM15 4h1v1h-1zM20 7h2v1h-2zM19 8h2v1h-2zM19 9h1v1h-1z"/><path fill="#ff6c6c" d="M16 0h1v1h-1zM14 1h1v1h-1z"/><path fill="#ff6666" d="M17 1h1v1h-1zM14 4h1v1h-1z"/><path fill="#ff6060" d="M15 1h1v1h-1zM14 2h1v1h-1zM17 2h1v1h-1z"/><path fill="#ff5959" d="M16 1h1v1h-1zM14 3h1v1h-1zM16 3h1v1h-1z"/><path fill="#ff5353" d="M15 3h1v1h-1z"/><path fill="#ff4d4d" d="M15 2h2v1h-2z"/></svg>
<path d="M95.43 1329.00v12.5M95.43 1772.50v-12.5M88.50 1335.93h12.5M532.00 1335.93h-12.5M234.02 1329.00v12.5M234.02 1772.50v-12.5M88.50 1474.52h12.5M532.00 1474.52h-12.5M372.62 1329.00v12.5M372.62 1772.50v-12.5M88.50 1613.12h12.5M532.00 1613.12h-12.5M511.21 1329.00v12.5M511.21 1772.50v-12.5M88.50 1751.71h12.5M532.00 1751.71h-12.5" stroke="#000" stroke-width="3.6" fill="none"/>
<path d="M123.15 1329.00v6.4M123.15 1772.50v-6.4M88.50 1363.65h6.4M532.00 1363.65h-6.4M150.87 1329.00v6.4M150.87 1772.50v-6.4M88.50 1391.37h6.4M532.00 1391.37h-6.4M178.59 1329.00v6.4M178.59 1772.50v-6.4M88.50 1419.09h6.4M532.00 1419.09h-6.4M206.30 1329.00v6.4M206.30 1772.50v-6.4M88.50 1446.80h6.4M532.00 1446.80h-6.4M261.74 1329.00v6.4M261.74 1772.50v-6.4M88.50 1502.24h6.4M532.00 1502.24h-6.4M289.46 1329.00v6.4M289.46 1772.50v-6.4M88.50 1529.96h6.4M532.00 1529.96h-6.4M317.18 1329.00v6.4M317.18 1772.50v-6.4M88.50 1557.68h6.4M532.00 1557.68h-6.4M344.90 1329.00v6.4M344.90 1772.50v-6.4M88.50 1585.40h6.4M532.00 1585.40h-6.4M400.34 1329.00v6.4M400.34 1772.50v-6.4M88.50 1640.84h6.4M532.00 1640.84h-6.4M428.05 1329.00v6.4M428.05 1772.50v-6.4M88.50 1668.55h6.4M532.00 1668.55h-6.4M455.77 1329.00v6.4M455.77 1772.50v-6.4M88.50 1696.27h6.4M532.00 1696.27h-6.4M483.49 1329.00v6.4M483.49 1772.50v-6.4M88.50 1723.99h6.4M532.00 1723.99h-6.4" stroke="#000" stroke-width="3" fill="none"/>
<rect x="88.50" y="1329.00" width="443.50" height="443.50" fill="none" stroke="#000" stroke-width="4.4"/>
<text x="95.43" y="1805.00" text-anchor="middle" font-size="33">0</text>
<text x="81.00" y="1347.93" text-anchor="end" font-size="33">0</text>
<text x="234.02" y="1805.00" text-anchor="middle" font-size="33">10</text>
<text x="81.00" y="1486.52" text-anchor="end" font-size="33">10</text>
<text x="372.62" y="1805.00" text-anchor="middle" font-size="33">20</text>
<text x="81.00" y="1625.12" text-anchor="end" font-size="33">20</text>
<text x="511.21" y="1805.00" text-anchor="middle" font-size="33">30</text>
<text x="81.00" y="1763.71" text-anchor="end" font-size="33">30</text>
<text x="309.65" y="1317.00" text-anchor="middle" font-size="32.6">(a) Masked Input</text>
<text transform="translate(25.20 1550.75) rotate(-90)" text-anchor="middle" font-size="33">Y (pixels)</text>
<rect x="560.00" y="1305.00" width="24.50" height="492.00" fill="url(#bwr)" stroke="#000" stroke-width="4"/>
<path d="M584.50 1305.00h12.5" stroke="#000" stroke-width="3.2"/>
<text x="602.90" y="1316.80" font-size="29">1.0</text>
<path d="M584.50 1551.00h12.5" stroke="#000" stroke-width="3.2"/>
<text x="602.90" y="1562.80" font-size="29">0.5</text>
<path d="M584.50 1797.00h12.5" stroke="#000" stroke-width="3.2"/>
<text x="602.90" y="1808.80" font-size="29">0.0</text>
<svg x="757.00" y="1329.00" width="443.50" height="443.50" viewBox="0 0 32 32" preserveAspectRatio="none" shape-rendering="crispEdges"><path fill="#4646ff" d="M9 31h1v1h-1z"/><path fill="#6c6cff" d="M9 30h1v1h-1z"/><path fill="#7373ff" d="M8 31h1v1h-1z"/><path fill="#7979ff" d="M9 29h1v1h-1zM31 31h1v1h-1z"/><path fill="#8080ff" d="M10 31h1v1h-1z"/><path fill="#8686ff" d="M8 30h1v1h-1zM10 30h1v1h-1zM30 31h1v1h-1z"/><path fill="#8c8cff" d="M9 28h1v1h-1zM10 29h1v1h-1zM31 30h1v1h-1zM20 31h1v1h-1zM29 31h1v1h-1z"/><path fill="#9393ff" d="M10 28h1v1h-1zM20 30h1v1h-1zM30 30h1v1h-1zM4 31h1v1h-1zM21 31h1v1h-1zM28 31h1v1h-1z"/><path fill="#9999ff" d="M9 27h1v1h-1zM8 29h1v1h-1zM19 29h1v1h-1zM31 29h1v1h-1zM4 30h1v1h-1zM19 30h1v1h-1zM21 30h1v1h-1zM29 30h1v1h-1zM11 31h1v1h-1z"/><path fill="#9f9fff" d="M10 27h1v1h-1zM18 28h2v1h-2zM18 29h1v1h-1zM20 29h2v1h-2zM30 29h1v1h-1zM18 30h1v1h-1zM28 30h1v1h-1zM19 31h1v1h-1z"/><path fill="#a6a6ff" d="M9 26h1v1h-1zM18 27h1v1h-1zM8 28h1v1h-1zM20 28h2v1h-2zM4 29h1v1h-1zM22 29h1v1h-1zM28 29h2v1h-2zM11 30h1v1h-1zM22 30h1v1h-1zM7 31h1v1h-1zM22 31h1v1h-1zM27 31h1v1h-1z"/><path fill="#acacff" d="M0 15h1v1h-1zM26 22h2v1h-2zM26 23h2v1h-2zM27 24h1v1h-1zM27 25h1v1h-1zM10 26h1v1h-1zM27 26h1v1h-1zM8 27h1v1h-1zM19 27h4v1h-4zM4 28h2v1h-2zM11 28h1v1h-1zM22 28h2v1h-2zM28 28h4v1h-4zM5 29h1v1h-1zM11 29h1v1h-1zM17 29h1v1h-1zM23 29h1v1h-1zM27 29h1v1h-1zM5 30h1v1h-1zM17 30h1v1h-1zM23 30h1v1h-1zM27 30h1v1h-1zM12 31h1v1h-1zM15 31h1v1h-1zM18 31h1v1h-1z"/><path fill="#b2b2ff" d="M0 16h1v1h-1zM0 17h1v1h-1zM0 18h1v1h-1zM0 19h1v1h-1zM0 20h1v1h-1zM28 20h1v1h-1zM0 21h1v1h-1zM27 21h2v1h-2zM0 22h1v1h-1zM28 22h1v1h-1zM28 23h1v1h-1zM26 24h1v1h-1zM28 24h1v1h-1zM9 25h1v1h-1zM28 25h1v1h-1zM8 26h1v1h-1zM18 26h6v1h-6zM28 26h4v1h-4zM5 27h1v1h-1zM11 27h1v1h-1zM23 27h1v1h-1zM27 27h5v1h-5zM17 28h1v1h-1zM27 28h1v1h-1zM7 30h1v1h-1zM5 31h1v1h-1zM13 31h2v1h-2zM16 31h2v1h-2zM23 31h1v1h-1z"/><path fill="#b9b9ff" d="M1 13h1v1h-1zM0 14h1v1h-1zM31 16h1v1h-1zM30 17h2v1h-2zM29 18h3v1h-3zM28 19h4v1h-4zM27 20h1v1h-1zM29 20h3v1h-3zM29 21h1v1h-1zM29 22h3v1h-3zM0 23h1v1h-1zM25 23h1v1h-1zM29 23h3v1h-3zM9 24h1v1h-1zM25 24h1v1h-1zM29 24h3v1h-3zM8 25h1v1h-1zM10 25h1v1h-1zM18 25h9v1h-9zM29 25h3v1h-3zM5 26h1v1h-1zM11 26h1v1h-1zM24 26h1v1h-1zM26 26h1v1h-1zM4 27h1v1h-1zM17 27h1v1h-1zM24 27h1v1h-1zM26 27h1v1h-1zM24 28h1v1h-1zM26 28h1v1h-1zM24 29h1v1h-1zM26 29h1v1h-1zM16 30h1v1h-1zM24 30h1v1h-1zM26 30h1v1h-1zM3 31h1v1h-1zM24 31h1v1h-1zM26 31h1v1h-1z"/><path fill="#bfbfff" d="M1 0h2v1h-2zM0 13h1v1h-1zM1 14h1v1h-1zM1 15h1v1h-1zM30 15h2v1h-2zM30 16h1v1h-1zM29 17h1v1h-1zM28 18h1v1h-1zM27 19h1v1h-1zM26 21h1v1h-1zM30 21h2v1h-2zM1 22h1v1h-1zM25 22h1v1h-1zM0 24h1v1h-1zM8 24h1v1h-1zM19 24h1v1h-1zM24 24h1v1h-1zM5 25h1v1h-1zM4 26h1v1h-1zM25 26h1v1h-1zM25 27h1v1h-1zM25 28h1v1h-1zM7 29h1v1h-1zM25 29h1v1h-1zM12 30h1v1h-1zM15 30h1v1h-1zM25 30h1v1h-1zM6 31h1v1h-1zM25 31h1v1h-1z"/><path fill="#c6c6ff" d="M3 0h1v1h-1zM30 14h2v1h-2zM29 15h1v1h-1zM29 16h1v1h-1zM1 21h1v1h-1zM2 22h1v1h-1zM4 22h2v1h-2zM1 23h1v1h-1zM4 23h2v1h-2zM8 23h1v1h-1zM19 23h1v1h-1zM24 23h1v1h-1zM4 24h4v1h-4zM10 24h1v1h-1zM18 24h1v1h-1zM20 24h1v1h-1zM23 24h1v1h-1zM4 25h1v1h-1zM6 25h2v1h-2zM11 25h1v1h-1zM6 26h2v1h-2zM17 26h1v1h-1zM6 27h2v1h-2zM6 28h2v1h-2zM6 29h1v1h-1zM16 29h1v1h-1zM6 30h1v1h-1z"/><path fill="#ccccff" d="M1 1h1v1h-1zM1 12h2v1h-2zM2 13h1v1h-1zM1 16h1v1h-1zM1 17h1v1h-1zM7 17h2v1h-2zM28 17h1v1h-1zM1 18h1v1h-1zM7 18h2v1h-2zM27 18h1v1h-1zM1 19h1v1h-1zM7 19h2v1h-2zM1 20h1v1h-1zM26 20h1v1h-1zM2 21h4v1h-4zM3 22h1v1h-1zM18 22h2v1h-2zM2 23h2v1h-2zM6 23h2v1h-2zM9 23h1v1h-1zM18 23h1v1h-1zM20 23h1v1h-1zM21 24h2v1h-2zM0 25h1v1h-1zM12 28h1v1h-1zM12 29h1v1h-1zM3 30h1v1h-1zM13 30h2v1h-2z"/><path fill="#d2d2ff" d="M2 1h1v1h-1zM0 7h1v1h-1zM6 10h1v1h-1zM2 11h6v1h-6zM0 12h1v1h-1zM3 12h1v1h-1zM29 14h1v1h-1zM8 15h2v1h-2zM7 16h3v1h-3zM28 16h1v1h-1zM9 17h1v1h-1zM6 18h1v1h-1zM9 18h1v1h-1zM5 19h2v1h-2zM26 19h1v1h-1zM4 20h5v1h-5zM18 20h2v1h-2zM18 21h2v1h-2zM25 21h1v1h-1zM6 22h3v1h-3zM20 22h1v1h-1zM24 22h1v1h-1zM23 23h1v1h-1zM17 25h1v1h-1zM12 26h1v1h-1zM12 27h1v1h-1zM16 28h1v1h-1z"/><path fill="#d9d9ff" d="M1 2h1v1h-1zM1 3h1v1h-1zM0 5h1v1h-1zM0 6h1v1h-1zM5 10h1v1h-1zM7 10h1v1h-1zM1 11h1v1h-1zM30 13h2v1h-2zM2 14h1v1h-1zM8 14h2v1h-2zM7 15h1v1h-1zM28 15h1v1h-1zM6 17h1v1h-1zM5 18h1v1h-1zM9 19h1v1h-1zM18 19h2v1h-2zM2 20h2v1h-2zM6 21h3v1h-3zM9 22h1v1h-1zM10 23h1v1h-1zM21 23h2v1h-2zM3 24h1v1h-1zM11 24h1v1h-1zM12 25h1v1h-1zM0 26h1v1h-1z"/><path fill="#dfdfff" d="M4 0h1v1h-1zM0 4h2v1h-2zM0 8h1v1h-1zM6 9h2v1h-2zM4 10h1v1h-1zM8 10h1v1h-1zM0 11h1v1h-1zM8 11h1v1h-1zM4 12h4v1h-4zM7 13h3v1h-3zM29 13h1v1h-1zM7 14h1v1h-1zM6 16h1v1h-1zM27 17h1v1h-1zM18 18h2v1h-2zM4 19h1v1h-1zM9 20h1v1h-1zM25 20h1v1h-1zM9 21h1v1h-1zM20 21h1v1h-1zM21 22h1v1h-1zM23 22h1v1h-1zM17 23h1v1h-1zM1 24h1v1h-1zM12 24h1v1h-1zM17 24h1v1h-1zM3 25h1v1h-1zM16 27h1v1h-1zM13 28h1v1h-1zM13 29h1v1h-1zM15 29h1v1h-1z"/><path fill="#e6e6ff" d="M2 2h1v1h-1zM5 9h1v1h-1zM8 9h1v1h-1zM2 10h2v1h-2zM8 12h2v1h-2zM30 12h2v1h-2zM3 13h1v1h-1zM10 14h1v1h-1zM28 14h1v1h-1zM2 15h1v1h-1zM6 15h1v1h-1zM10 15h1v1h-1zM27 16h1v1h-1zM5 17h1v1h-1zM19 17h1v1h-1zM26 18h1v1h-1zM2 19h1v1h-1zM20 19h1v1h-1zM17 20h1v1h-1zM20 20h1v1h-1zM17 21h1v1h-1zM24 21h1v1h-1zM10 22h1v1h-1zM17 22h1v1h-1zM22 22h1v1h-1zM11 23h1v1h-1zM2 24h1v1h-1zM3 26h1v1h-1zM13 26h1v1h-1zM16 26h1v1h-1zM0 27h1v1h-1zM13 27h1v1h-1zM3 29h1v1h-1zM14 29h1v1h-1z"/><path fill="#ececff" d="M0 0h1v1h-1zM9 0h2v1h-2zM0 1h1v1h-1zM0 2h1v1h-1zM0 3h1v1h-1zM1 5h1v1h-1zM1 6h1v1h-1zM1 7h1v1h-1zM7 8h2v1h-2zM0 9h1v1h-1zM0 10h2v1h-2zM9 10h1v1h-1zM9 11h1v1h-1zM10 12h1v1h-1zM29 12h1v1h-1zM4 13h3v1h-3zM10 13h1v1h-1zM6 14h1v1h-1zM2 16h1v1h-1zM10 16h1v1h-1zM2 17h1v1h-1zM10 17h1v1h-1zM18 17h1v1h-1zM20 17h1v1h-1zM2 18h1v1h-1zM4 18h1v1h-1zM20 18h1v1h-1zM3 19h1v1h-1zM17 19h1v1h-1zM25 19h1v1h-1zM21 21h1v1h-1zM13 24h1v1h-1zM13 25h1v1h-1zM16 25h1v1h-1zM3 27h1v1h-1zM0 28h1v1h-1zM3 28h1v1h-1zM14 28h2v1h-2z"/><path fill="#f2f2ff" d="M5 0h1v1h-1zM3 1h1v1h-1zM1 8h1v1h-1zM1 9h1v1h-1zM9 9h1v1h-1zM26 9h1v1h-1zM10 11h1v1h-1zM28 13h1v1h-1zM3 14h1v1h-1zM27 15h1v1h-1zM5 16h1v1h-1zM19 16h2v1h-2zM26 17h1v1h-1zM10 18h1v1h-1zM10 21h1v1h-1zM12 23h1v1h-1zM1 25h2v1h-2zM14 26h1v1h-1zM14 27h1v1h-1zM0 31h1v1h-1z"/><path fill="#f9f9ff" d="M2 3h1v1h-1zM8 7h1v1h-1zM29 7h1v1h-1zM6 8h1v1h-1zM9 8h1v1h-1zM27 8h3v1h-3zM2 9h1v1h-1zM4 9h1v1h-1zM27 9h2v1h-2zM10 10h1v1h-1zM11 11h1v1h-1zM30 11h1v1h-1zM11 12h1v1h-1zM22 12h1v1h-1zM28 12h1v1h-1zM11 13h1v1h-1zM4 14h2v1h-2zM11 14h1v1h-1zM21 14h1v1h-1zM5 15h1v1h-1zM20 15h2v1h-2zM18 16h1v1h-1zM21 16h1v1h-1zM4 17h1v1h-1zM21 17h1v1h-1zM3 18h1v1h-1zM17 18h1v1h-1zM21 18h1v1h-1zM10 19h1v1h-1zM21 19h1v1h-1zM10 20h1v1h-1zM21 20h1v1h-1zM24 20h1v1h-1zM16 21h1v1h-1zM22 21h2v1h-2zM16 22h1v1h-1zM13 23h2v1h-2zM16 23h1v1h-1zM14 24h1v1h-1zM16 24h1v1h-1zM14 25h1v1h-1zM15 26h1v1h-1zM15 27h1v1h-1zM0 29h1v1h-1zM0 30h1v1h-1z"/><path fill="#fff9f9" d="M6 0h3v1h-3zM3 2h1v1h-1zM31 4h1v1h-1zM9 5h1v1h-1zM8 6h1v1h-1zM27 7h1v1h-1zM5 8h1v1h-1zM10 8h1v1h-1zM26 8h1v1h-1zM12 9h1v1h-1zM12 10h1v1h-1zM24 10h2v1h-2zM12 11h1v1h-1zM22 11h1v1h-1zM27 11h1v1h-1zM12 12h1v1h-1zM12 13h1v1h-1zM22 14h1v1h-1zM22 15h1v1h-1zM17 17h1v1h-1zM25 17h1v1h-1zM2 26h1v1h-1z"/><path fill="#fff2f2" d="M10 1h1v1h-1zM2 5h1v1h-1zM2 7h1v1h-1zM10 7h1v1h-1zM2 8h1v1h-1zM13 9h1v1h-1zM23 10h1v1h-1zM24 11h1v1h-1zM21 12h1v1h-1zM23 12h1v1h-1zM27 13h1v1h-1zM18 15h1v1h-1zM22 16h1v1h-1zM22 17h1v1h-1zM22 18h1v1h-1zM24 18h1v1h-1zM22 19h1v1h-1z"/><path fill="#ffecec" d="M4 1h1v1h-1zM9 1h1v1h-1zM9 4h1v1h-1zM30 4h1v1h-1zM8 5h1v1h-1zM29 5h1v1h-1zM2 6h1v1h-1zM28 6h1v1h-1zM6 7h1v1h-1zM24 9h1v1h-1zM13 10h1v1h-1zM13 11h1v1h-1zM26 11h1v1h-1zM27 12h1v1h-1zM12 14h1v1h-1zM11 16h1v1h-1zM17 16h1v1h-1zM23 19h1v1h-1zM15 21h1v1h-1zM12 22h1v1h-1zM14 22h1v1h-1zM1 27h2v1h-2zM2 30h1v1h-1z"/><path fill="#ffe6e6" d="M9 3h1v1h-1zM30 3h2v1h-2zM10 4h1v1h-1zM10 5h1v1h-1zM7 6h1v1h-1zM10 6h1v1h-1zM3 8h2v1h-2zM11 8h2v1h-2zM25 8h1v1h-1zM25 11h1v1h-1zM13 12h1v1h-1zM13 13h1v1h-1zM20 13h1v1h-1zM23 13h1v1h-1zM26 15h1v1h-1zM25 16h1v1h-1zM11 17h1v1h-1zM23 18h1v1h-1zM16 19h1v1h-1zM11 21h1v1h-1zM13 22h1v1h-1zM2 28h1v1h-1zM2 29h1v1h-1zM1 31h1v1h-1z"/><path fill="#ffdfdf" d="M12 0h1v1h-1zM9 2h2v1h-2zM30 2h1v1h-1zM10 3h1v1h-1zM29 4h1v1h-1zM11 7h1v1h-1zM26 7h1v1h-1zM13 8h1v1h-1zM24 12h1v1h-1zM26 12h1v1h-1zM19 14h1v1h-1zM23 14h1v1h-1zM26 14h1v1h-1zM17 15h1v1h-1zM23 15h1v1h-1zM23 16h1v1h-1zM23 17h2v1h-2zM1 28h1v1h-1z"/><path fill="#ffd9d9" d="M29 0h2v1h-2zM8 1h1v1h-1zM30 1h1v1h-1zM31 2h1v1h-1zM3 3h1v1h-1zM29 3h1v1h-1zM8 4h1v1h-1zM28 5h1v1h-1zM14 8h1v1h-1zM14 9h1v1h-1zM14 10h1v1h-1zM22 10h1v1h-1zM21 11h1v1h-1zM13 14h1v1h-1zM24 16h1v1h-1zM11 18h1v1h-1zM11 19h1v1h-1zM11 20h1v1h-1zM1 29h1v1h-1zM1 30h1v1h-1z"/><path fill="#ffd2d2" d="M27 0h2v1h-2zM31 0h1v1h-1zM5 1h1v1h-1zM11 1h1v1h-1zM29 1h1v1h-1zM31 1h1v1h-1zM29 2h1v1h-1zM7 5h1v1h-1zM27 6h1v1h-1zM3 7h1v1h-1zM5 7h1v1h-1zM12 7h3v1h-3zM14 11h1v1h-1zM14 12h1v1h-1zM25 12h1v1h-1zM14 13h1v1h-1zM24 13h1v1h-1zM26 13h1v1h-1zM16 15h1v1h-1zM24 15h2v1h-2zM16 16h1v1h-1zM16 18h1v1h-1zM15 20h1v1h-1zM14 21h1v1h-1z"/><path fill="#ffcccc" d="M23 0h4v1h-4zM7 1h1v1h-1zM28 1h1v1h-1zM3 4h1v1h-1zM28 4h1v1h-1zM3 5h1v1h-1zM3 6h1v1h-1zM6 6h1v1h-1zM11 6h1v1h-1zM4 7h1v1h-1zM15 7h1v1h-1zM15 8h1v1h-1zM23 9h1v1h-1zM20 12h1v1h-1zM25 13h1v1h-1zM14 14h3v1h-3zM18 14h1v1h-1zM24 14h2v1h-2zM12 15h1v1h-1zM15 15h1v1h-1zM16 17h1v1h-1zM12 21h1v1h-1z"/><path fill="#ffc6c6" d="M22 0h1v1h-1zM6 1h1v1h-1zM4 2h1v1h-1zM8 2h1v1h-1zM11 2h1v1h-1zM28 2h1v1h-1zM8 3h1v1h-1zM11 3h1v1h-1zM28 3h1v1h-1zM11 4h1v1h-1zM11 5h1v1h-1zM25 7h1v1h-1zM24 8h1v1h-1zM15 13h1v1h-1zM17 14h1v1h-1zM13 21h1v1h-1z"/><path fill="#ffbfbf" d="M22 1h1v1h-1zM27 1h1v1h-1zM7 4h1v1h-1zM27 5h1v1h-1zM16 6h1v1h-1zM26 6h1v1h-1zM16 7h1v1h-1zM15 12h1v1h-1zM19 13h1v1h-1zM14 15h1v1h-1zM12 16h1v1h-1zM15 19h1v1h-1z"/><path fill="#ffb9b9" d="M21 0h1v1h-1zM21 1h1v1h-1zM23 1h4v1h-4zM7 2h1v1h-1zM21 2h2v1h-2zM7 3h1v1h-1zM17 5h2v1h-2zM4 6h2v1h-2zM15 6h1v1h-1zM17 6h1v1h-1zM15 9h1v1h-1zM21 10h1v1h-1zM16 13h1v1h-1zM13 15h1v1h-1zM15 16h1v1h-1zM12 17h1v1h-1zM15 18h1v1h-1zM12 20h1v1h-1zM14 20h1v1h-1z"/><path fill="#ffb2b2" d="M13 0h1v1h-1zM12 1h1v1h-1zM5 2h1v1h-1zM20 2h1v1h-1zM23 2h1v1h-1zM27 2h1v1h-1zM4 3h1v1h-1zM20 3h2v1h-2zM4 4h1v1h-1zM19 4h1v1h-1zM27 4h1v1h-1zM4 5h1v1h-1zM6 5h1v1h-1zM12 6h1v1h-1zM14 6h1v1h-1zM15 10h1v1h-1zM15 11h1v1h-1zM20 11h1v1h-1zM15 17h1v1h-1zM12 18h1v1h-1zM12 19h1v1h-1z"/><path fill="#ffacac" d="M20 1h1v1h-1zM6 2h1v1h-1zM24 2h1v1h-1zM26 2h1v1h-1zM19 3h1v1h-1zM27 3h1v1h-1zM6 4h1v1h-1zM18 4h1v1h-1zM20 4h1v1h-1zM5 5h1v1h-1zM16 5h1v1h-1zM19 5h1v1h-1zM26 5h1v1h-1zM13 6h1v1h-1zM16 8h1v1h-1zM22 9h1v1h-1zM19 12h1v1h-1zM17 13h2v1h-2zM13 16h2v1h-2zM13 20h1v1h-1z"/><path fill="#ffa6a6" d="M20 0h1v1h-1zM25 2h1v1h-1zM5 3h2v1h-2zM22 3h1v1h-1zM5 4h1v1h-1zM12 5h1v1h-1zM18 6h1v1h-1zM25 6h1v1h-1zM17 7h1v1h-1zM24 7h1v1h-1zM23 8h1v1h-1zM16 12h1v1h-1zM14 19h1v1h-1z"/><path fill="#ff9f9f" d="M12 2h1v1h-1zM26 3h1v1h-1zM21 4h1v1h-1zM26 4h1v1h-1zM13 17h2v1h-2zM14 18h1v1h-1z"/><path fill="#ff9999" d="M19 2h1v1h-1zM12 3h1v1h-1zM23 3h1v1h-1zM12 4h1v1h-1zM17 4h1v1h-1zM15 5h1v1h-1zM20 5h1v1h-1zM16 9h1v1h-1zM20 10h1v1h-1zM17 12h2v1h-2zM13 18h1v1h-1zM13 19h1v1h-1z"/><path fill="#ff9393" d="M14 0h1v1h-1zM19 0h1v1h-1zM19 1h1v1h-1zM18 3h1v1h-1zM24 3h2v1h-2zM22 4h1v1h-1zM13 5h1v1h-1zM25 5h1v1h-1zM19 6h1v1h-1zM24 6h1v1h-1zM23 7h1v1h-1zM17 8h1v1h-1zM22 8h1v1h-1zM21 9h1v1h-1zM16 10h1v1h-1zM16 11h1v1h-1zM19 11h1v1h-1z"/><path fill="#ff8c8c" d="M13 1h1v1h-1zM25 4h1v1h-1zM14 5h1v1h-1zM18 7h1v1h-1z"/><path fill="#ff8686" d="M23 4h2v1h-2zM21 5h1v1h-1zM24 5h1v1h-1zM20 6h1v1h-1zM23 6h1v1h-1zM17 9h1v1h-1zM17 10h1v1h-1zM17 11h2v1h-2z"/><path fill="#ff8080" d="M18 0h1v1h-1zM16 4h1v1h-1zM22 5h2v1h-2zM22 7h1v1h-1zM18 8h1v1h-1zM21 8h1v1h-1zM20 9h1v1h-1zM19 10h1v1h-1z"/><path fill="#ff7979" d="M18 1h1v1h-1zM13 2h1v1h-1zM18 2h1v1h-1zM21 6h2v1h-2zM19 7h1v1h-1zM18 9h1v1h-1zM18 10h1v1h-1z"/><path fill="#ff7373" d="M15 0h1v1h-1zM17 0h1v1h-1zM13 3h1v1h-1zM17 3h1v1h-1zM13 4h1v1h-1zM15 4h1v1h-1zM20 7h2v1h-2zM19 8h2v1h-2zM19 9h1v1h-1z"/><path fill="#ff6c6c" d="M16 0h1v1h-1zM14 1h1v1h-1z"/><path fill="#ff6666" d="M17 1h1v1h-1zM14 4h1v1h-1z"/><path fill="#ff6060" d="M15 1h1v1h-1zM14 2h1v1h-1zM17 2h1v1h-1z"/><path fill="#ff5959" d="M16 1h1v1h-1zM14 3h1v1h-1zM16 3h1v1h-1z"/><path fill="#ff5353" d="M15 3h1v1h-1z"/><path fill="#ff4d4d" d="M15 2h2v1h-2z"/></svg>
<path d="M763.93 1329.00v12.5M763.93 1772.50v-12.5M757.00 1335.93h12.5M1200.50 1335.93h-12.5M902.52 1329.00v12.5M902.52 1772.50v-12.5M757.00 1474.52h12.5M1200.50 1474.52h-12.5M1041.12 1329.00v12.5M1041.12 1772.50v-12.5M757.00 1613.12h12.5M1200.50 1613.12h-12.5M1179.71 1329.00v12.5M1179.71 1772.50v-12.5M757.00 1751.71h12.5M1200.50 1751.71h-12.5" stroke="#000" stroke-width="3.6" fill="none"/>
<path d="M791.65 1329.00v6.4M791.65 1772.50v-6.4M757.00 1363.65h6.4M1200.50 1363.65h-6.4M819.37 1329.00v6.4M819.37 1772.50v-6.4M757.00 1391.37h6.4M1200.50 1391.37h-6.4M847.09 1329.00v6.4M847.09 1772.50v-6.4M757.00 1419.09h6.4M1200.50 1419.09h-6.4M874.80 1329.00v6.4M874.80 1772.50v-6.4M757.00 1446.80h6.4M1200.50 1446.80h-6.4M930.24 1329.00v6.4M930.24 1772.50v-6.4M757.00 1502.24h6.4M1200.50 1502.24h-6.4M957.96 1329.00v6.4M957.96 1772.50v-6.4M757.00 1529.96h6.4M1200.50 1529.96h-6.4M985.68 1329.00v6.4M985.68 1772.50v-6.4M757.00 1557.68h6.4M1200.50 1557.68h-6.4M1013.40 1329.00v6.4M1013.40 1772.50v-6.4M757.00 1585.40h6.4M1200.50 1585.40h-6.4M1068.84 1329.00v6.4M1068.84 1772.50v-6.4M757.00 1640.84h6.4M1200.50 1640.84h-6.4M1096.55 1329.00v6.4M1096.55 1772.50v-6.4M757.00 1668.55h6.4M1200.50 1668.55h-6.4M1124.27 1329.00v6.4M1124.27 1772.50v-6.4M757.00 1696.27h6.4M1200.50 1696.27h-6.4M1151.99 1329.00v6.4M1151.99 1772.50v-6.4M757.00 1723.99h6.4M1200.50 1723.99h-6.4" stroke="#000" stroke-width="3" fill="none"/>
<rect x="757.00" y="1329.00" width="443.50" height="443.50" fill="none" stroke="#000" stroke-width="4.4"/>
<text x="763.93" y="1805.00" text-anchor="middle" font-size="33">0</text>
<text x="749.50" y="1347.93" text-anchor="end" font-size="33">0</text>
<text x="902.52" y="1805.00" text-anchor="middle" font-size="33">10</text>
<text x="749.50" y="1486.52" text-anchor="end" font-size="33">10</text>
<text x="1041.12" y="1805.00" text-anchor="middle" font-size="33">20</text>
<text x="749.50" y="1625.12" text-anchor="end" font-size="33">20</text>
<text x="1179.71" y="1805.00" text-anchor="middle" font-size="33">30</text>
<text x="749.50" y="1763.71" text-anchor="end" font-size="33">30</text>
<text x="978.15" y="1317.00" text-anchor="middle" font-size="32.6">(b) Ground Truth</text>
<rect x="1228.50" y="1305.00" width="24.50" height="492.00" fill="url(#bwr)" stroke="#000" stroke-width="4"/>
<path d="M1253.00 1305.00h12.5" stroke="#000" stroke-width="3.2"/>
<text x="1271.40" y="1316.80" font-size="29">1.0</text>
<path d="M1253.00 1551.00h12.5" stroke="#000" stroke-width="3.2"/>
<text x="1271.40" y="1562.80" font-size="29">0.5</text>
<path d="M1253.00 1797.00h12.5" stroke="#000" stroke-width="3.2"/>
<text x="1271.40" y="1808.80" font-size="29">0.0</text>
<svg x="1425.25" y="1329.00" width="443.50" height="443.50" viewBox="0 0 32 32" preserveAspectRatio="none" shape-rendering="crispEdges"><path fill="#4646ff" d="M9 31h1v1h-1z"/><path fill="#6c6cff" d="M9 30h1v1h-1z"/><path fill="#7373ff" d="M8 31h1v1h-1z"/><path fill="#7979ff" d="M9 29h1v1h-1zM31 31h1v1h-1z"/><path fill="#8080ff" d="M10 31h1v1h-1z"/><path fill="#8686ff" d="M8 30h1v1h-1zM10 30h1v1h-1zM30 31h1v1h-1z"/><path fill="#8c8cff" d="M9 28h1v1h-1zM10 29h1v1h-1zM31 30h1v1h-1zM20 31h1v1h-1zM29 31h1v1h-1z"/><path fill="#9393ff" d="M10 28h1v1h-1zM20 30h1v1h-1zM30 30h1v1h-1zM4 31h1v1h-1zM21 31h1v1h-1zM28 31h1v1h-1z"/><path fill="#9999ff" d="M9 27h1v1h-1zM8 29h1v1h-1zM19 29h1v1h-1zM31 29h1v1h-1zM4 30h1v1h-1zM19 30h1v1h-1zM21 30h1v1h-1zM29 30h1v1h-1zM11 31h1v1h-1z"/><path fill="#9f9fff" d="M10 27h1v1h-1zM18 28h2v1h-2zM18 29h1v1h-1zM20 29h2v1h-2zM30 29h1v1h-1zM18 30h1v1h-1zM28 30h1v1h-1zM19 31h1v1h-1z"/><path fill="#a6a6ff" d="M9 26h1v1h-1zM18 27h1v1h-1zM8 28h1v1h-1zM20 28h2v1h-2zM4 29h1v1h-1zM22 29h1v1h-1zM28 29h2v1h-2zM11 30h1v1h-1zM22 30h1v1h-1zM7 31h1v1h-1zM22 31h1v1h-1zM27 31h1v1h-1z"/><path fill="#acacff" d="M0 15h1v1h-1zM26 22h2v1h-2zM26 23h2v1h-2zM27 24h1v1h-1zM27 25h1v1h-1zM10 26h1v1h-1zM27 26h1v1h-1zM8 27h1v1h-1zM19 27h4v1h-4zM4 28h2v1h-2zM11 28h1v1h-1zM22 28h2v1h-2zM28 28h4v1h-4zM5 29h1v1h-1zM11 29h1v1h-1zM17 29h1v1h-1zM23 29h1v1h-1zM27 29h1v1h-1zM5 30h1v1h-1zM17 30h1v1h-1zM23 30h1v1h-1zM27 30h1v1h-1zM12 31h1v1h-1zM15 31h1v1h-1zM18 31h1v1h-1z"/><path fill="#b2b2ff" d="M0 16h1v1h-1zM0 17h1v1h-1zM0 18h1v1h-1zM0 19h1v1h-1zM0 20h1v1h-1zM28 20h1v1h-1zM0 21h1v1h-1zM27 21h2v1h-2zM0 22h1v1h-1zM28 22h1v1h-1zM28 23h1v1h-1zM26 24h1v1h-1zM28 24h1v1h-1zM9 25h1v1h-1zM28 25h1v1h-1zM8 26h1v1h-1zM18 26h6v1h-6zM28 26h4v1h-4zM5 27h1v1h-1zM11 27h1v1h-1zM23 27h1v1h-1zM27 27h5v1h-5zM17 28h1v1h-1zM27 28h1v1h-1zM7 30h1v1h-1zM5 31h1v1h-1zM13 31h2v1h-2zM16 31h2v1h-2zM23 31h1v1h-1z"/><path fill="#b9b9ff" d="M1 13h1v1h-1zM0 14h1v1h-1zM31 16h1v1h-1zM30 17h2v1h-2zM29 18h3v1h-3zM28 19h4v1h-4zM27 20h1v1h-1zM29 20h3v1h-3zM29 21h1v1h-1zM29 22h3v1h-3zM0 23h1v1h-1zM25 23h1v1h-1zM29 23h3v1h-3zM9 24h1v1h-1zM25 24h1v1h-1zM29 24h3v1h-3zM8 25h1v1h-1zM10 25h1v1h-1zM18 25h9v1h-9zM29 25h3v1h-3zM5 26h1v1h-1zM11 26h1v1h-1zM24 26h1v1h-1zM26 26h1v1h-1zM4 27h1v1h-1zM17 27h1v1h-1zM24 27h1v1h-1zM26 27h1v1h-1zM24 28h1v1h-1zM26 28h1v1h-1zM24 29h1v1h-1zM26 29h1v1h-1zM16 30h1v1h-1zM24 30h1v1h-1zM26 30h1v1h-1zM3 31h1v1h-1zM24 31h1v1h-1zM26 31h1v1h-1z"/><path fill="#bfbfff" d="M1 0h2v1h-2zM0 13h1v1h-1zM1 14h1v1h-1zM1 15h1v1h-1zM30 15h2v1h-2zM30 16h1v1h-1zM29 17h1v1h-1zM28 18h1v1h-1zM27 19h1v1h-1zM26 21h1v1h-1zM30 21h2v1h-2zM1 22h1v1h-1zM25 22h1v1h-1zM0 24h1v1h-1zM8 24h1v1h-1zM19 24h1v1h-1zM24 24h1v1h-1zM5 25h1v1h-1zM4 26h1v1h-1zM25 26h1v1h-1zM25 27h1v1h-1zM25 28h1v1h-1zM7 29h1v1h-1zM25 29h1v1h-1zM12 30h1v1h-1zM15 30h1v1h-1zM25 30h1v1h-1zM6 31h1v1h-1zM25 31h1v1h-1z"/><path fill="#c6c6ff" d="M3 0h1v1h-1zM30 14h2v1h-2zM29 15h1v1h-1zM29 16h1v1h-1zM1 21h1v1h-1zM2 22h1v1h-1zM4 22h2v1h-2zM1 23h1v1h-1zM4 23h2v1h-2zM8 23h1v1h-1zM19 23h1v1h-1zM24 23h1v1h-1zM4 24h4v1h-4zM10 24h1v1h-1zM18 24h1v1h-1zM20 24h1v1h-1zM23 24h1v1h-1zM4 25h1v1h-1zM6 25h2v1h-2zM11 25h1v1h-1zM6 26h2v1h-2zM17 26h1v1h-1zM6 27h2v1h-2zM6 28h2v1h-2zM6 29h1v1h-1zM16 29h1v1h-1zM6 30h1v1h-1z"/><path fill="#ccccff" d="M1 1h1v1h-1zM1 12h2v1h-2zM2 13h1v1h-1zM1 16h1v1h-1zM1 17h1v1h-1zM7 17h2v1h-2zM28 17h1v1h-1zM1 18h1v1h-1zM7 18h2v1h-2zM27 18h1v1h-1zM1 19h1v1h-1zM7 19h2v1h-2zM1 20h1v1h-1zM26 20h1v1h-1zM2 21h4v1h-4zM3 22h1v1h-1zM18 22h2v1h-2zM2 23h2v1h-2zM6 23h2v1h-2zM9 23h1v1h-1zM18 23h1v1h-1zM20 23h1v1h-1zM21 24h2v1h-2zM0 25h1v1h-1zM12 28h1v1h-1zM12 29h1v1h-1zM3 30h1v1h-1zM13 30h2v1h-2z"/><path fill="#d2d2ff" d="M2 1h1v1h-1zM0 7h1v1h-1zM6 10h1v1h-1zM2 11h6v1h-6zM0 12h1v1h-1zM3 12h1v1h-1zM29 14h1v1h-1zM8 15h2v1h-2zM7 16h3v1h-3zM28 16h1v1h-1zM9 17h1v1h-1zM6 18h1v1h-1zM9 18h1v1h-1zM5 19h2v1h-2zM26 19h1v1h-1zM4 20h5v1h-5zM18 20h2v1h-2zM18 21h2v1h-2zM25 21h1v1h-1zM6 22h3v1h-3zM20 22h1v1h-1zM24 22h1v1h-1zM23 23h1v1h-1zM17 25h1v1h-1zM12 26h1v1h-1zM12 27h1v1h-1zM16 28h1v1h-1z"/><path fill="#d9d9ff" d="M1 2h1v1h-1zM1 3h1v1h-1zM0 5h1v1h-1zM0 6h1v1h-1zM5 10h1v1h-1zM7 10h1v1h-1zM1 11h1v1h-1zM30 13h2v1h-2zM2 14h1v1h-1zM8 14h2v1h-2zM7 15h1v1h-1zM28 15h1v1h-1zM6 17h1v1h-1zM5 18h1v1h-1zM9 19h1v1h-1zM19 19h1v1h-1zM2 20h2v1h-2zM6 21h3v1h-3zM9 22h1v1h-1zM10 23h1v1h-1zM21 23h2v1h-2zM3 24h1v1h-1zM11 24h1v1h-1zM12 25h1v1h-1zM0 26h1v1h-1z"/><path fill="#dfdfff" d="M4 0h1v1h-1zM0 4h2v1h-2zM0 8h1v1h-1zM6 9h2v1h-2zM4 10h1v1h-1zM8 10h1v1h-1zM0 11h1v1h-1zM8 11h1v1h-1zM4 12h4v1h-4zM7 13h3v1h-3zM29 13h1v1h-1zM7 14h1v1h-1zM6 16h1v1h-1zM27 17h1v1h-1zM4 19h1v1h-1zM18 19h1v1h-1zM9 20h1v1h-1zM25 20h1v1h-1zM9 21h1v1h-1zM20 21h1v1h-1zM21 22h1v1h-1zM23 22h1v1h-1zM17 23h1v1h-1zM1 24h1v1h-1zM12 24h1v1h-1zM17 24h1v1h-1zM3 25h1v1h-1zM16 27h1v1h-1zM13 28h1v1h-1zM13 29h1v1h-1zM15 29h1v1h-1z"/><path fill="#e6e6ff" d="M2 2h1v1h-1zM5 9h1v1h-1zM8 9h1v1h-1zM2 10h2v1h-2zM8 12h2v1h-2zM30 12h2v1h-2zM3 13h1v1h-1zM10 14h1v1h-1zM28 14h1v1h-1zM2 15h1v1h-1zM6 15h1v1h-1zM10 15h1v1h-1zM27 16h1v1h-1zM5 17h1v1h-1zM19 18h1v1h-1zM26 18h1v1h-1zM2 19h1v1h-1zM20 19h1v1h-1zM17 20h1v1h-1zM20 20h1v1h-1zM17 21h1v1h-1zM24 21h1v1h-1zM10 22h1v1h-1zM17 22h1v1h-1zM22 22h1v1h-1zM11 23h1v1h-1zM2 24h1v1h-1zM3 26h1v1h-1zM13 26h1v1h-1zM16 26h1v1h-1zM0 27h1v1h-1zM13 27h1v1h-1zM3 29h1v1h-1zM14 29h1v1h-1z"/><path fill="#ececff" d="M0 0h1v1h-1zM9 0h2v1h-2zM0 1h1v1h-1zM0 2h1v1h-1zM0 3h1v1h-1zM1 5h1v1h-1zM1 6h1v1h-1zM1 7h1v1h-1zM7 8h2v1h-2zM0 9h1v1h-1zM0 10h2v1h-2zM9 10h1v1h-1zM9 11h1v1h-1zM10 12h1v1h-1zM29 12h1v1h-1zM4 13h3v1h-3zM10 13h1v1h-1zM6 14h1v1h-1zM2 16h1v1h-1zM10 16h1v1h-1zM2 17h1v1h-1zM10 17h1v1h-1zM19 17h2v1h-2zM2 18h1v1h-1zM4 18h1v1h-1zM18 18h1v1h-1zM20 18h1v1h-1zM3 19h1v1h-1zM25 19h1v1h-1zM21 21h1v1h-1zM13 24h1v1h-1zM13 25h1v1h-1zM16 25h1v1h-1zM3 27h1v1h-1zM0 28h1v1h-1zM3 28h1v1h-1zM14 28h2v1h-2z"/><path fill="#f2f2ff" d="M5 0h1v1h-1zM3 1h1v1h-1zM1 8h1v1h-1zM1 9h1v1h-1zM9 9h1v1h-1zM26 9h1v1h-1zM10 11h1v1h-1zM28 13h1v1h-1zM3 14h1v1h-1zM27 15h1v1h-1zM5 16h1v1h-1zM20 16h1v1h-1zM26 17h1v1h-1zM10 18h1v1h-1zM17 19h1v1h-1zM10 21h1v1h-1zM12 23h1v1h-1zM1 25h2v1h-2zM14 26h1v1h-1zM14 27h1v1h-1zM0 31h1v1h-1z"/><path fill="#f9f9ff" d="M2 3h1v1h-1zM8 7h1v1h-1zM29 7h1v1h-1zM6 8h1v1h-1zM9 8h1v1h-1zM27 8h3v1h-3zM2 9h1v1h-1zM4 9h1v1h-1zM27 9h2v1h-2zM10 10h1v1h-1zM11 11h1v1h-1zM30 11h1v1h-1zM11 12h1v1h-1zM22 12h1v1h-1zM28 12h1v1h-1zM11 13h1v1h-1zM4 14h2v1h-2zM11 14h1v1h-1zM21 14h1v1h-1zM5 15h1v1h-1zM20 15h2v1h-2zM21 16h1v1h-1zM4 17h1v1h-1zM21 17h1v1h-1zM3 18h1v1h-1zM21 18h1v1h-1zM10 19h1v1h-1zM21 19h1v1h-1zM10 20h1v1h-1zM21 20h1v1h-1zM24 20h1v1h-1zM16 21h1v1h-1zM22 21h2v1h-2zM16 22h1v1h-1zM13 23h2v1h-2zM16 23h1v1h-1zM14 24h1v1h-1zM16 24h1v1h-1zM14 25h1v1h-1zM15 26h1v1h-1zM15 27h1v1h-1zM0 29h1v1h-1zM0 30h1v1h-1z"/><path fill="#fff9f9" d="M6 0h3v1h-3zM3 2h1v1h-1zM31 4h1v1h-1zM9 5h1v1h-1zM8 6h1v1h-1zM27 7h1v1h-1zM5 8h1v1h-1zM10 8h1v1h-1zM26 8h1v1h-1zM12 9h1v1h-1zM12 10h1v1h-1zM24 10h2v1h-2zM12 11h1v1h-1zM22 11h1v1h-1zM27 11h1v1h-1zM12 12h1v1h-1zM12 13h1v1h-1zM22 14h1v1h-1zM19 15h1v1h-1zM22 15h1v1h-1zM18 17h1v1h-1zM25 17h1v1h-1zM2 26h1v1h-1z"/><path fill="#fff2f2" d="M10 1h1v1h-1zM2 5h1v1h-1zM2 7h1v1h-1zM10 7h1v1h-1zM2 8h1v1h-1zM13 9h1v1h-1zM23 10h1v1h-1zM24 11h1v1h-1zM21 12h1v1h-1zM23 12h1v1h-1zM27 13h1v1h-1zM22 16h1v1h-1zM22 17h1v1h-1zM22 18h1v1h-1zM24 18h1v1h-1zM22 19h1v1h-1z"/><path fill="#ffecec" d="M4 1h1v1h-1zM9 1h1v1h-1zM9 4h1v1h-1zM30 4h1v1h-1zM8 5h1v1h-1zM29 5h1v1h-1zM2 6h1v1h-1zM28 6h1v1h-1zM6 7h1v1h-1zM24 9h1v1h-1zM13 10h1v1h-1zM13 11h1v1h-1zM26 11h1v1h-1zM27 12h1v1h-1zM12 14h1v1h-1zM11 16h1v1h-1zM17 18h1v1h-1zM23 19h1v1h-1zM15 21h1v1h-1zM12 22h1v1h-1zM14 22h1v1h-1zM1 27h2v1h-2zM2 30h1v1h-1z"/><path fill="#ffe6e6" d="M9 3h1v1h-1zM30 3h2v1h-2zM10 4h1v1h-1zM10 5h1v1h-1zM7 6h1v1h-1zM10 6h1v1h-1zM3 8h2v1h-2zM11 8h2v1h-2zM25 8h1v1h-1zM25 11h1v1h-1zM13 12h1v1h-1zM13 13h1v1h-1zM20 13h1v1h-1zM23 13h1v1h-1zM26 15h1v1h-1zM18 16h1v1h-1zM25 16h1v1h-1zM11 17h1v1h-1zM23 18h1v1h-1zM11 21h1v1h-1zM13 22h1v1h-1zM2 28h1v1h-1zM2 29h1v1h-1zM1 31h1v1h-1z"/><path fill="#ffdfdf" d="M12 0h1v1h-1zM9 2h2v1h-2zM30 2h1v1h-1zM10 3h1v1h-1zM29 4h1v1h-1zM11 7h1v1h-1zM26 7h1v1h-1zM13 8h1v1h-1zM24 12h1v1h-1zM26 12h1v1h-1zM19 14h1v1h-1zM23 14h1v1h-1zM26 14h1v1h-1zM18 15h1v1h-1zM23 15h1v1h-1zM23 16h1v1h-1zM23 17h2v1h-2zM16 19h1v1h-1zM1 28h1v1h-1z"/><path fill="#ffd9d9" d="M29 0h2v1h-2zM8 1h1v1h-1zM30 1h1v1h-1zM31 2h1v1h-1zM3 3h1v1h-1zM29 3h1v1h-1zM8 4h1v1h-1zM28 5h1v1h-1zM14 8h1v1h-1zM14 9h1v1h-1zM14 10h1v1h-1zM22 10h1v1h-1zM21 11h1v1h-1zM13 14h1v1h-1zM24 16h1v1h-1zM11 18h1v1h-1zM11 19h1v1h-1zM11 20h1v1h-1zM1 29h1v1h-1zM1 30h1v1h-1z"/><path fill="#ffd2d2" d="M27 0h2v1h-2zM31 0h1v1h-1zM5 1h1v1h-1zM11 1h1v1h-1zM29 1h1v1h-1zM31 1h1v1h-1zM29 2h1v1h-1zM7 5h1v1h-1zM27 6h1v1h-1zM3 7h1v1h-1zM5 7h1v1h-1zM12 7h3v1h-3zM14 11h1v1h-1zM14 12h1v1h-1zM25 12h1v1h-1zM14 13h1v1h-1zM24 13h1v1h-1zM26 13h1v1h-1zM24 15h2v1h-2zM15 20h1v1h-1zM14 21h1v1h-1z"/><path fill="#ffcccc" d="M23 0h4v1h-4zM7 1h1v1h-1zM28 1h1v1h-1zM3 4h1v1h-1zM28 4h1v1h-1zM3 5h1v1h-1zM3 6h1v1h-1zM6 6h1v1h-1zM11 6h1v1h-1zM4 7h1v1h-1zM15 7h1v1h-1zM15 8h1v1h-1zM23 9h1v1h-1zM20 12h1v1h-1zM25 13h1v1h-1zM24 14h2v1h-2zM12 15h1v1h-1zM17 17h1v1h-1zM12 21h1v1h-1z"/><path fill="#ffc6c6" d="M22 0h1v1h-1zM6 1h1v1h-1zM4 2h1v1h-1zM8 2h1v1h-1zM11 2h1v1h-1zM28 2h1v1h-1zM8 3h1v1h-1zM11 3h1v1h-1zM28 3h1v1h-1zM11 4h1v1h-1zM11 5h1v1h-1zM25 7h1v1h-1zM24 8h1v1h-1zM15 13h1v1h-1zM14 14h1v1h-1zM18 14h1v1h-1zM13 21h1v1h-1z"/><path fill="#ffbfbf" d="M22 1h1v1h-1zM27 1h1v1h-1zM7 4h1v1h-1zM27 5h1v1h-1zM16 6h1v1h-1zM26 6h1v1h-1zM16 7h1v1h-1zM15 12h1v1h-1zM19 13h1v1h-1zM15 14h1v1h-1zM12 16h1v1h-1z"/><path fill="#ffb9b9" d="M21 0h1v1h-1zM21 1h1v1h-1zM23 1h4v1h-4zM7 2h1v1h-1zM21 2h2v1h-2zM7 3h1v1h-1zM17 5h2v1h-2zM4 6h2v1h-2zM15 6h1v1h-1zM17 6h1v1h-1zM15 9h1v1h-1zM21 10h1v1h-1zM16 14h2v1h-2zM13 15h1v1h-1zM17 15h1v1h-1zM12 17h1v1h-1zM16 18h1v1h-1zM15 19h1v1h-1zM12 20h1v1h-1zM14 20h1v1h-1z"/><path fill="#ffb2b2" d="M13 0h1v1h-1zM12 1h1v1h-1zM5 2h1v1h-1zM20 2h1v1h-1zM23 2h1v1h-1zM27 2h1v1h-1zM4 3h1v1h-1zM20 3h2v1h-2zM4 4h1v1h-1zM19 4h1v1h-1zM27 4h1v1h-1zM4 5h1v1h-1zM6 5h1v1h-1zM12 6h1v1h-1zM14 6h1v1h-1zM15 10h1v1h-1zM15 11h1v1h-1zM20 11h1v1h-1zM16 13h1v1h-1zM14 15h1v1h-1zM17 16h1v1h-1zM12 18h1v1h-1zM12 19h1v1h-1z"/><path fill="#ffacac" d="M20 1h1v1h-1zM6 2h1v1h-1zM24 2h1v1h-1zM26 2h1v1h-1zM19 3h1v1h-1zM27 3h1v1h-1zM6 4h1v1h-1zM18 4h1v1h-1zM20 4h1v1h-1zM5 5h1v1h-1zM16 5h1v1h-1zM19 5h1v1h-1zM26 5h1v1h-1zM13 6h1v1h-1zM16 8h1v1h-1zM22 9h1v1h-1zM19 12h1v1h-1zM17 13h2v1h-2zM15 15h1v1h-1zM13 20h1v1h-1z"/><path fill="#ffa6a6" d="M20 0h1v1h-1zM25 2h1v1h-1zM5 3h2v1h-2zM22 3h1v1h-1zM5 4h1v1h-1zM12 5h1v1h-1zM18 6h1v1h-1zM25 6h1v1h-1zM17 7h1v1h-1zM24 7h1v1h-1zM23 8h1v1h-1zM16 12h1v1h-1zM16 15h1v1h-1zM13 16h1v1h-1zM15 18h1v1h-1zM14 19h1v1h-1z"/><path fill="#ff9f9f" d="M12 2h1v1h-1zM26 3h1v1h-1zM21 4h1v1h-1zM26 4h1v1h-1z"/><path fill="#ff9999" d="M19 2h1v1h-1zM12 3h1v1h-1zM23 3h1v1h-1zM12 4h1v1h-1zM17 4h1v1h-1zM15 5h1v1h-1zM20 5h1v1h-1zM16 9h1v1h-1zM20 10h1v1h-1zM17 12h2v1h-2zM14 16h1v1h-1zM16 16h1v1h-1zM13 17h1v1h-1zM16 17h1v1h-1zM13 18h2v1h-2zM13 19h1v1h-1z"/><path fill="#ff9393" d="M14 0h1v1h-1zM19 0h1v1h-1zM19 1h1v1h-1zM18 3h1v1h-1zM24 3h2v1h-2zM22 4h1v1h-1zM13 5h1v1h-1zM25 5h1v1h-1zM19 6h1v1h-1zM24 6h1v1h-1zM23 7h1v1h-1zM17 8h1v1h-1zM22 8h1v1h-1zM21 9h1v1h-1zM16 10h1v1h-1zM16 11h1v1h-1zM19 11h1v1h-1zM15 16h1v1h-1zM14 17h1v1h-1z"/><path fill="#ff8c8c" d="M13 1h1v1h-1zM25 4h1v1h-1zM14 5h1v1h-1zM18 7h1v1h-1zM15 17h1v1h-1z"/><path fill="#ff8686" d="M23 4h2v1h-2zM21 5h1v1h-1zM24 5h1v1h-1zM20 6h1v1h-1zM23 6h1v1h-1zM17 9h1v1h-1zM17 10h1v1h-1zM17 11h2v1h-2z"/><path fill="#ff8080" d="M18 0h1v1h-1zM16 4h1v1h-1zM22 5h2v1h-2zM22 7h1v1h-1zM18 8h1v1h-1zM21 8h1v1h-1zM20 9h1v1h-1zM19 10h1v1h-1z"/><path fill="#ff7979" d="M18 1h1v1h-1zM13 2h1v1h-1zM18 2h1v1h-1zM21 6h2v1h-2zM19 7h1v1h-1zM18 9h1v1h-1zM18 10h1v1h-1z"/><path fill="#ff7373" d="M15 0h1v1h-1zM17 0h1v1h-1zM13 3h1v1h-1zM17 3h1v1h-1zM13 4h1v1h-1zM15 4h1v1h-1zM20 7h2v1h-2zM19 8h2v1h-2zM19 9h1v1h-1z"/><path fill="#ff6c6c" d="M16 0h1v1h-1zM14 1h1v1h-1z"/><path fill="#ff6666" d="M17 1h1v1h-1zM14 4h1v1h-1z"/><path fill="#ff6060" d="M15 1h1v1h-1zM14 2h1v1h-1zM17 2h1v1h-1z"/><path fill="#ff5959" d="M16 1h1v1h-1zM14 3h1v1h-1zM16 3h1v1h-1z"/><path fill="#ff5353" d="M15 3h1v1h-1z"/><path fill="#ff4d4d" d="M15 2h2v1h-2z"/></svg>
<path d="M1432.18 1329.00v12.5M1432.18 1772.50v-12.5M1425.25 1335.93h12.5M1868.75 1335.93h-12.5M1570.77 1329.00v12.5M1570.77 1772.50v-12.5M1425.25 1474.52h12.5M1868.75 1474.52h-12.5M1709.37 1329.00v12.5M1709.37 1772.50v-12.5M1425.25 1613.12h12.5M1868.75 1613.12h-12.5M1847.96 1329.00v12.5M1847.96 1772.50v-12.5M1425.25 1751.71h12.5M1868.75 1751.71h-12.5" stroke="#000" stroke-width="3.6" fill="none"/>
<path d="M1459.90 1329.00v6.4M1459.90 1772.50v-6.4M1425.25 1363.65h6.4M1868.75 1363.65h-6.4M1487.62 1329.00v6.4M1487.62 1772.50v-6.4M1425.25 1391.37h6.4M1868.75 1391.37h-6.4M1515.34 1329.00v6.4M1515.34 1772.50v-6.4M1425.25 1419.09h6.4M1868.75 1419.09h-6.4M1543.05 1329.00v6.4M1543.05 1772.50v-6.4M1425.25 1446.80h6.4M1868.75 1446.80h-6.4M1598.49 1329.00v6.4M1598.49 1772.50v-6.4M1425.25 1502.24h6.4M1868.75 1502.24h-6.4M1626.21 1329.00v6.4M1626.21 1772.50v-6.4M1425.25 1529.96h6.4M1868.75 1529.96h-6.4M1653.93 1329.00v6.4M1653.93 1772.50v-6.4M1425.25 1557.68h6.4M1868.75 1557.68h-6.4M1681.65 1329.00v6.4M1681.65 1772.50v-6.4M1425.25 1585.40h6.4M1868.75 1585.40h-6.4M1737.09 1329.00v6.4M1737.09 1772.50v-6.4M1425.25 1640.84h6.4M1868.75 1640.84h-6.4M1764.80 1329.00v6.4M1764.80 1772.50v-6.4M1425.25 1668.55h6.4M1868.75 1668.55h-6.4M1792.52 1329.00v6.4M1792.52 1772.50v-6.4M1425.25 1696.27h6.4M1868.75 1696.27h-6.4M1820.24 1329.00v6.4M1820.24 1772.50v-6.4M1425.25 1723.99h6.4M1868.75 1723.99h-6.4" stroke="#000" stroke-width="3" fill="none"/>
<rect x="1425.25" y="1329.00" width="443.50" height="443.50" fill="none" stroke="#000" stroke-width="4.4"/>
<text x="1432.18" y="1805.00" text-anchor="middle" font-size="33">0</text>
<text x="1417.75" y="1347.93" text-anchor="end" font-size="33">0</text>
<text x="1570.77" y="1805.00" text-anchor="middle" font-size="33">10</text>
<text x="1417.75" y="1486.52" text-anchor="end" font-size="33">10</text>
<text x="1709.37" y="1805.00" text-anchor="middle" font-size="33">20</text>
<text x="1417.75" y="1625.12" text-anchor="end" font-size="33">20</text>
<text x="1847.96" y="1805.00" text-anchor="middle" font-size="33">30</text>
<text x="1417.75" y="1763.71" text-anchor="end" font-size="33">30</text>
<text x="1646.40" y="1317.00" text-anchor="middle" font-size="32.6">(c) Source Injected</text>
<rect x="1896.75" y="1305.00" width="24.50" height="492.00" fill="url(#bwr)" stroke="#000" stroke-width="4"/>
<path d="M1921.25 1305.00h12.5" stroke="#000" stroke-width="3.2"/>
<text x="1939.65" y="1316.80" font-size="29">1.0</text>
<path d="M1921.25 1551.00h12.5" stroke="#000" stroke-width="3.2"/>
<text x="1939.65" y="1562.80" font-size="29">0.5</text>
<path d="M1921.25 1797.00h12.5" stroke="#000" stroke-width="3.2"/>
<text x="1939.65" y="1808.80" font-size="29">0.0</text>
<rect x="1523.00" y="1415.80" width="301.90" height="72.90" fill="#fff" fill-opacity="0.85" stroke="#1a1a1a" stroke-width="3"/>
<text x="1672.50" y="1460.50" text-anchor="middle" font-size="32.6" font-style="italic">Injected Source</text>
<circle cx="1653.93" cy="1557.68" r="41.58" fill="none" stroke="#000" stroke-width="3.8" stroke-dasharray="14.06 6.08"/>
<svg x="88.50" y="1882.50" width="443.50" height="443.50" viewBox="0 0 32 32" preserveAspectRatio="none" shape-rendering="crispEdges"><path fill="#4646ff" d="M9 31h1v1h-1z"/><path fill="#6c6cff" d="M9 30h1v1h-1z"/><path fill="#7373ff" d="M8 31h1v1h-1z"/><path fill="#7979ff" d="M9 29h1v1h-1zM31 31h1v1h-1z"/><path fill="#8080ff" d="M10 31h1v1h-1z"/><path fill="#8686ff" d="M8 30h1v1h-1zM10 30h1v1h-1zM30 31h1v1h-1z"/><path fill="#8c8cff" d="M9 28h1v1h-1zM10 29h1v1h-1zM31 30h1v1h-1zM20 31h1v1h-1zM29 31h1v1h-1z"/><path fill="#9393ff" d="M10 28h1v1h-1zM20 30h1v1h-1zM30 30h1v1h-1zM4 31h1v1h-1zM21 31h1v1h-1zM28 31h1v1h-1z"/><path fill="#9999ff" d="M9 27h1v1h-1zM8 29h1v1h-1zM19 29h1v1h-1zM31 29h1v1h-1zM4 30h1v1h-1zM19 30h1v1h-1zM21 30h1v1h-1zM29 30h1v1h-1zM11 31h1v1h-1z"/><path fill="#9f9fff" d="M10 27h1v1h-1zM18 28h2v1h-2zM18 29h1v1h-1zM20 29h2v1h-2zM30 29h1v1h-1zM18 30h1v1h-1zM28 30h1v1h-1zM19 31h1v1h-1z"/><path fill="#a6a6ff" d="M9 26h1v1h-1zM18 27h1v1h-1zM8 28h1v1h-1zM20 28h2v1h-2zM4 29h1v1h-1zM22 29h1v1h-1zM28 29h2v1h-2zM11 30h1v1h-1zM22 30h1v1h-1zM7 31h1v1h-1zM22 31h1v1h-1zM27 31h1v1h-1z"/><path fill="#acacff" d="M0 15h1v1h-1zM26 22h2v1h-2zM26 23h2v1h-2zM27 24h1v1h-1zM27 25h1v1h-1zM10 26h1v1h-1zM27 26h1v1h-1zM8 27h1v1h-1zM19 27h4v1h-4zM4 28h2v1h-2zM11 28h1v1h-1zM22 28h2v1h-2zM28 28h4v1h-4zM5 29h1v1h-1zM11 29h1v1h-1zM17 29h1v1h-1zM23 29h1v1h-1zM27 29h1v1h-1zM5 30h1v1h-1zM17 30h1v1h-1zM23 30h1v1h-1zM27 30h1v1h-1zM12 31h1v1h-1zM15 31h1v1h-1zM18 31h1v1h-1z"/><path fill="#b2b2ff" d="M0 16h1v1h-1zM0 17h1v1h-1zM0 18h1v1h-1zM0 19h1v1h-1zM0 20h1v1h-1zM28 20h1v1h-1zM0 21h1v1h-1zM27 21h2v1h-2zM0 22h1v1h-1zM28 22h1v1h-1zM28 23h1v1h-1zM26 24h1v1h-1zM28 24h1v1h-1zM9 25h1v1h-1zM28 25h1v1h-1zM8 26h1v1h-1zM18 26h6v1h-6zM28 26h4v1h-4zM5 27h1v1h-1zM11 27h1v1h-1zM23 27h1v1h-1zM27 27h5v1h-5zM17 28h1v1h-1zM27 28h1v1h-1zM7 30h1v1h-1zM5 31h1v1h-1zM13 31h2v1h-2zM16 31h2v1h-2zM23 31h1v1h-1z"/><path fill="#b9b9ff" d="M1 13h1v1h-1zM0 14h1v1h-1zM31 16h1v1h-1zM30 17h2v1h-2zM29 18h3v1h-3zM28 19h4v1h-4zM27 20h1v1h-1zM29 20h3v1h-3zM29 21h1v1h-1zM29 22h3v1h-3zM0 23h1v1h-1zM25 23h1v1h-1zM29 23h3v1h-3zM9 24h1v1h-1zM25 24h1v1h-1zM29 24h3v1h-3zM8 25h1v1h-1zM10 25h1v1h-1zM18 25h9v1h-9zM29 25h3v1h-3zM5 26h1v1h-1zM11 26h1v1h-1zM24 26h1v1h-1zM26 26h1v1h-1zM4 27h1v1h-1zM17 27h1v1h-1zM24 27h1v1h-1zM26 27h1v1h-1zM24 28h1v1h-1zM26 28h1v1h-1zM24 29h1v1h-1zM26 29h1v1h-1zM16 30h1v1h-1zM24 30h1v1h-1zM26 30h1v1h-1zM3 31h1v1h-1zM24 31h1v1h-1zM26 31h1v1h-1z"/><path fill="#bfbfff" d="M1 0h2v1h-2zM0 13h1v1h-1zM1 14h1v1h-1zM1 15h1v1h-1zM30 15h2v1h-2zM30 16h1v1h-1zM29 17h1v1h-1zM28 18h1v1h-1zM27 19h1v1h-1zM26 21h1v1h-1zM30 21h2v1h-2zM1 22h1v1h-1zM25 22h1v1h-1zM0 24h1v1h-1zM8 24h1v1h-1zM19 24h1v1h-1zM24 24h1v1h-1zM5 25h1v1h-1zM4 26h1v1h-1zM25 26h1v1h-1zM25 27h1v1h-1zM25 28h1v1h-1zM7 29h1v1h-1zM25 29h1v1h-1zM12 30h1v1h-1zM15 30h1v1h-1zM25 30h1v1h-1zM6 31h1v1h-1zM25 31h1v1h-1z"/><path fill="#c6c6ff" d="M30 14h2v1h-2zM29 15h1v1h-1zM29 16h1v1h-1zM1 21h1v1h-1zM2 22h1v1h-1zM4 22h2v1h-2zM1 23h1v1h-1zM4 23h2v1h-2zM8 23h1v1h-1zM19 23h1v1h-1zM24 23h1v1h-1zM4 24h4v1h-4zM10 24h1v1h-1zM18 24h1v1h-1zM20 24h1v1h-1zM23 24h1v1h-1zM4 25h1v1h-1zM6 25h2v1h-2zM11 25h1v1h-1zM6 26h2v1h-2zM17 26h1v1h-1zM6 27h2v1h-2zM6 28h2v1h-2zM6 29h1v1h-1zM16 29h1v1h-1zM6 30h1v1h-1z"/><path fill="#ccccff" d="M3 0h1v1h-1zM1 1h1v1h-1zM1 12h2v1h-2zM2 13h1v1h-1zM1 16h1v1h-1zM1 17h1v1h-1zM7 17h2v1h-2zM28 17h1v1h-1zM1 18h1v1h-1zM7 18h2v1h-2zM27 18h1v1h-1zM1 19h1v1h-1zM7 19h2v1h-2zM1 20h1v1h-1zM26 20h1v1h-1zM2 21h4v1h-4zM3 22h1v1h-1zM18 22h2v1h-2zM2 23h2v1h-2zM6 23h2v1h-2zM9 23h1v1h-1zM18 23h1v1h-1zM20 23h1v1h-1zM21 24h2v1h-2zM0 25h1v1h-1zM12 28h1v1h-1zM12 29h1v1h-1zM3 30h1v1h-1zM13 30h2v1h-2z"/><path fill="#d2d2ff" d="M2 1h1v1h-1zM0 5h1v1h-1zM0 6h1v1h-1zM0 7h1v1h-1zM6 10h1v1h-1zM2 11h5v1h-5zM0 12h1v1h-1zM3 12h1v1h-1zM29 14h1v1h-1zM8 15h2v1h-2zM7 16h3v1h-3zM28 16h1v1h-1zM9 17h1v1h-1zM6 18h1v1h-1zM9 18h1v1h-1zM5 19h2v1h-2zM26 19h1v1h-1zM4 20h5v1h-5zM18 20h2v1h-2zM18 21h2v1h-2zM25 21h1v1h-1zM6 22h3v1h-3zM20 22h1v1h-1zM24 22h1v1h-1zM23 23h1v1h-1zM17 25h1v1h-1zM12 26h1v1h-1zM12 27h1v1h-1zM16 28h1v1h-1z"/><path fill="#d9d9ff" d="M1 2h1v1h-1zM1 3h1v1h-1zM5 10h1v1h-1zM7 10h1v1h-1zM1 11h1v1h-1zM7 11h1v1h-1zM30 13h2v1h-2zM2 14h1v1h-1zM8 14h2v1h-2zM7 15h1v1h-1zM28 15h1v1h-1zM6 17h1v1h-1zM5 18h1v1h-1zM9 19h1v1h-1zM18 19h2v1h-2zM2 20h2v1h-2zM6 21h3v1h-3zM9 22h1v1h-1zM10 23h1v1h-1zM21 23h2v1h-2zM3 24h1v1h-1zM11 24h1v1h-1zM12 25h1v1h-1zM0 26h1v1h-1z"/><path fill="#dfdfff" d="M4 0h1v1h-1zM0 4h2v1h-2zM0 8h1v1h-1zM6 9h2v1h-2zM4 10h1v1h-1zM8 10h1v1h-1zM0 11h1v1h-1zM8 11h1v1h-1zM4 12h4v1h-4zM7 13h3v1h-3zM29 13h1v1h-1zM7 14h1v1h-1zM6 16h1v1h-1zM27 17h1v1h-1zM4 19h1v1h-1zM9 20h1v1h-1zM25 20h1v1h-1zM9 21h1v1h-1zM20 21h1v1h-1zM21 22h1v1h-1zM23 22h1v1h-1zM17 23h1v1h-1zM1 24h1v1h-1zM12 24h1v1h-1zM17 24h1v1h-1zM3 25h1v1h-1zM16 27h1v1h-1zM13 28h1v1h-1zM13 29h1v1h-1zM15 29h1v1h-1z"/><path fill="#e6e6ff" d="M2 2h1v1h-1zM5 9h1v1h-1zM8 9h1v1h-1zM2 10h2v1h-2zM8 12h2v1h-2zM30 12h2v1h-2zM3 13h1v1h-1zM10 14h1v1h-1zM28 14h1v1h-1zM2 15h1v1h-1zM6 15h1v1h-1zM10 15h1v1h-1zM27 16h1v1h-1zM5 17h1v1h-1zM10 17h1v1h-1zM19 17h1v1h-1zM18 18h2v1h-2zM26 18h1v1h-1zM2 19h1v1h-1zM20 19h1v1h-1zM20 20h1v1h-1zM17 21h1v1h-1zM24 21h1v1h-1zM10 22h1v1h-1zM17 22h1v1h-1zM22 22h1v1h-1zM11 23h1v1h-1zM2 24h1v1h-1zM3 26h1v1h-1zM13 26h1v1h-1zM16 26h1v1h-1zM0 27h1v1h-1zM13 27h1v1h-1zM3 29h1v1h-1zM14 29h1v1h-1z"/><path fill="#ececff" d="M0 0h1v1h-1zM9 0h1v1h-1zM0 1h1v1h-1zM0 2h1v1h-1zM0 3h1v1h-1zM1 5h1v1h-1zM1 6h1v1h-1zM1 7h1v1h-1zM7 8h2v1h-2zM0 9h1v1h-1zM0 10h2v1h-2zM9 10h1v1h-1zM9 11h1v1h-1zM10 12h1v1h-1zM29 12h1v1h-1zM4 13h3v1h-3zM10 13h1v1h-1zM6 14h1v1h-1zM2 16h1v1h-1zM10 16h1v1h-1zM2 17h1v1h-1zM20 17h1v1h-1zM2 18h1v1h-1zM4 18h1v1h-1zM20 18h1v1h-1zM3 19h1v1h-1zM25 19h1v1h-1zM17 20h1v1h-1zM21 21h1v1h-1zM13 24h1v1h-1zM13 25h1v1h-1zM16 25h1v1h-1zM3 27h1v1h-1zM0 28h1v1h-1zM3 28h1v1h-1zM14 28h2v1h-2z"/><path fill="#f2f2ff" d="M5 0h1v1h-1zM10 0h1v1h-1zM3 1h1v1h-1zM1 8h1v1h-1zM1 9h1v1h-1zM9 9h1v1h-1zM26 9h1v1h-1zM10 11h1v1h-1zM28 13h1v1h-1zM3 14h1v1h-1zM27 15h1v1h-1zM5 16h1v1h-1zM19 16h2v1h-2zM18 17h1v1h-1zM26 17h1v1h-1zM10 18h1v1h-1zM17 19h1v1h-1zM10 21h1v1h-1zM12 23h1v1h-1zM1 25h2v1h-2zM14 26h1v1h-1zM14 27h1v1h-1zM0 31h1v1h-1z"/><path fill="#f9f9ff" d="M2 3h1v1h-1zM8 7h1v1h-1zM29 7h1v1h-1zM6 8h1v1h-1zM9 8h1v1h-1zM27 8h3v1h-3zM2 9h1v1h-1zM4 9h1v1h-1zM27 9h2v1h-2zM10 10h1v1h-1zM11 11h1v1h-1zM30 11h1v1h-1zM11 12h1v1h-1zM22 12h1v1h-1zM28 12h1v1h-1zM11 13h1v1h-1zM4 14h2v1h-2zM11 14h1v1h-1zM21 14h1v1h-1zM5 15h1v1h-1zM20 15h2v1h-2zM21 16h1v1h-1zM4 17h1v1h-1zM21 17h1v1h-1zM3 18h1v1h-1zM21 18h1v1h-1zM10 19h1v1h-1zM21 19h1v1h-1zM10 20h1v1h-1zM21 20h1v1h-1zM24 20h1v1h-1zM16 21h1v1h-1zM22 21h2v1h-2zM16 22h1v1h-1zM13 23h2v1h-2zM16 23h1v1h-1zM14 24h1v1h-1zM16 24h1v1h-1zM14 25h1v1h-1zM15 26h1v1h-1zM15 27h1v1h-1zM0 29h1v1h-1zM0 30h1v1h-1z"/><path fill="#fff9f9" d="M6 0h3v1h-3zM3 2h1v1h-1zM31 4h1v1h-1zM9 5h1v1h-1zM8 6h1v1h-1zM27 7h1v1h-1zM5 8h1v1h-1zM10 8h1v1h-1zM26 8h1v1h-1zM12 9h1v1h-1zM12 10h1v1h-1zM24 10h2v1h-2zM12 11h1v1h-1zM22 11h1v1h-1zM27 11h1v1h-1zM12 12h1v1h-1zM12 13h1v1h-1zM22 14h1v1h-1zM22 15h1v1h-1zM18 16h1v1h-1zM25 17h1v1h-1zM17 18h1v1h-1zM16 20h1v1h-1zM2 26h1v1h-1z"/><path fill="#fff2f2" d="M10 1h1v1h-1zM2 5h1v1h-1zM2 7h1v1h-1zM10 7h1v1h-1zM2 8h1v1h-1zM13 9h1v1h-1zM23 10h1v1h-1zM24 11h1v1h-1zM21 12h1v1h-1zM23 12h1v1h-1zM27 13h1v1h-1zM12 14h1v1h-1zM22 16h1v1h-1zM22 17h1v1h-1zM22 18h1v1h-1zM24 18h1v1h-1zM22 19h1v1h-1z"/><path fill="#ffecec" d="M4 1h1v1h-1zM9 4h1v1h-1zM30 4h1v1h-1zM29 5h1v1h-1zM2 6h1v1h-1zM28 6h1v1h-1zM6 7h1v1h-1zM24 9h1v1h-1zM13 10h1v1h-1zM13 11h1v1h-1zM26 11h1v1h-1zM27 12h1v1h-1zM13 13h1v1h-1zM18 15h1v1h-1zM11 16h1v1h-1zM23 19h1v1h-1zM12 22h1v1h-1zM14 22h1v1h-1zM1 27h2v1h-2zM2 30h1v1h-1z"/><path fill="#ffe6e6" d="M9 1h1v1h-1zM9 3h1v1h-1zM30 3h2v1h-2zM10 4h1v1h-1zM8 5h1v1h-1zM10 5h1v1h-1zM7 6h1v1h-1zM10 6h1v1h-1zM3 8h2v1h-2zM11 8h2v1h-2zM25 8h1v1h-1zM25 11h1v1h-1zM13 12h1v1h-1zM20 13h1v1h-1zM23 13h1v1h-1zM26 15h1v1h-1zM25 16h1v1h-1zM11 17h1v1h-1zM17 17h1v1h-1zM23 18h1v1h-1zM11 21h1v1h-1zM15 21h1v1h-1zM13 22h1v1h-1zM2 28h1v1h-1zM1 31h1v1h-1z"/><path fill="#ffdfdf" d="M12 0h1v1h-1zM9 2h2v1h-2zM30 2h1v1h-1zM10 3h1v1h-1zM29 4h1v1h-1zM11 7h1v1h-1zM26 7h1v1h-1zM13 8h1v1h-1zM24 12h1v1h-1zM26 12h1v1h-1zM13 14h1v1h-1zM19 14h1v1h-1zM23 14h1v1h-1zM26 14h1v1h-1zM23 15h1v1h-1zM23 16h1v1h-1zM23 17h2v1h-2zM1 28h1v1h-1zM2 29h1v1h-1z"/><path fill="#ffd9d9" d="M29 0h2v1h-2zM8 1h1v1h-1zM30 1h1v1h-1zM31 2h1v1h-1zM3 3h1v1h-1zM29 3h1v1h-1zM8 4h1v1h-1zM28 5h1v1h-1zM14 8h1v1h-1zM14 9h1v1h-1zM14 10h1v1h-1zM22 10h1v1h-1zM21 11h1v1h-1zM14 13h1v1h-1zM14 14h1v1h-1zM15 15h1v1h-1zM17 16h1v1h-1zM24 16h1v1h-1zM11 18h1v1h-1zM11 19h1v1h-1zM16 19h1v1h-1zM11 20h1v1h-1zM1 29h1v1h-1zM1 30h1v1h-1z"/><path fill="#ffd2d2" d="M27 0h2v1h-2zM31 0h1v1h-1zM5 1h1v1h-1zM11 1h1v1h-1zM29 1h1v1h-1zM31 1h1v1h-1zM29 2h1v1h-1zM7 5h1v1h-1zM27 6h1v1h-1zM3 7h1v1h-1zM5 7h1v1h-1zM12 7h3v1h-3zM14 11h1v1h-1zM14 12h1v1h-1zM25 12h1v1h-1zM24 13h1v1h-1zM26 13h1v1h-1zM15 14h1v1h-1zM12 15h1v1h-1zM17 15h1v1h-1zM24 15h2v1h-2z"/><path fill="#ffcccc" d="M23 0h4v1h-4zM7 1h1v1h-1zM28 1h1v1h-1zM3 4h1v1h-1zM28 4h1v1h-1zM3 5h1v1h-1zM3 6h1v1h-1zM6 6h1v1h-1zM11 6h1v1h-1zM4 7h1v1h-1zM15 7h1v1h-1zM15 8h1v1h-1zM23 9h1v1h-1zM20 12h1v1h-1zM25 13h1v1h-1zM24 14h2v1h-2zM14 15h1v1h-1zM16 15h1v1h-1zM15 20h1v1h-1zM12 21h1v1h-1zM14 21h1v1h-1z"/><path fill="#ffc6c6" d="M22 0h1v1h-1zM6 1h1v1h-1zM4 2h1v1h-1zM8 2h1v1h-1zM11 2h1v1h-1zM28 2h1v1h-1zM8 3h1v1h-1zM11 3h1v1h-1zM28 3h1v1h-1zM11 4h1v1h-1zM11 5h1v1h-1zM25 7h1v1h-1zM24 8h1v1h-1zM15 13h1v1h-1zM16 14h1v1h-1zM18 14h1v1h-1zM13 15h1v1h-1zM12 16h1v1h-1zM16 16h1v1h-1zM13 21h1v1h-1z"/><path fill="#ffbfbf" d="M22 1h1v1h-1zM27 1h1v1h-1zM7 4h1v1h-1zM27 5h1v1h-1zM26 6h1v1h-1zM16 7h1v1h-1zM15 12h1v1h-1zM19 13h1v1h-1zM16 18h1v1h-1z"/><path fill="#ffb9b9" d="M21 0h1v1h-1zM21 1h1v1h-1zM23 1h4v1h-4zM21 2h2v1h-2zM7 3h1v1h-1zM17 5h2v1h-2zM4 6h2v1h-2zM16 6h2v1h-2zM15 9h1v1h-1zM21 10h1v1h-1zM17 14h1v1h-1zM14 16h2v1h-2zM12 17h1v1h-1zM16 17h1v1h-1z"/><path fill="#ffb2b2" d="M13 0h1v1h-1zM12 1h1v1h-1zM5 2h1v1h-1zM7 2h1v1h-1zM20 2h1v1h-1zM23 2h1v1h-1zM27 2h1v1h-1zM4 3h1v1h-1zM20 3h2v1h-2zM4 4h1v1h-1zM19 4h1v1h-1zM27 4h1v1h-1zM4 5h1v1h-1zM6 5h1v1h-1zM12 6h1v1h-1zM14 6h2v1h-2zM15 10h1v1h-1zM20 11h1v1h-1zM16 13h1v1h-1zM13 16h1v1h-1zM15 19h1v1h-1zM12 20h1v1h-1zM14 20h1v1h-1z"/><path fill="#ffacac" d="M20 1h1v1h-1zM6 2h1v1h-1zM24 2h1v1h-1zM26 2h1v1h-1zM19 3h1v1h-1zM27 3h1v1h-1zM6 4h1v1h-1zM20 4h1v1h-1zM5 5h1v1h-1zM19 5h1v1h-1zM26 5h1v1h-1zM13 6h1v1h-1zM16 8h1v1h-1zM22 9h1v1h-1zM15 11h1v1h-1zM12 18h1v1h-1zM15 18h1v1h-1zM12 19h1v1h-1z"/><path fill="#ffa6a6" d="M20 0h1v1h-1zM25 2h1v1h-1zM5 3h2v1h-2zM22 3h1v1h-1zM5 4h1v1h-1zM18 4h1v1h-1zM12 5h1v1h-1zM16 5h1v1h-1zM18 6h1v1h-1zM25 6h1v1h-1zM17 7h1v1h-1zM24 7h1v1h-1zM23 8h1v1h-1zM19 12h1v1h-1zM17 13h2v1h-2zM15 17h1v1h-1zM13 20h1v1h-1z"/><path fill="#ff9f9f" d="M12 2h1v1h-1zM26 3h1v1h-1zM21 4h1v1h-1zM26 4h1v1h-1zM16 12h1v1h-1zM13 17h2v1h-2z"/><path fill="#ff9999" d="M19 2h1v1h-1zM12 3h1v1h-1zM23 3h1v1h-1zM12 4h1v1h-1zM17 4h1v1h-1zM15 5h1v1h-1zM20 5h1v1h-1zM16 9h1v1h-1zM20 10h1v1h-1zM14 18h1v1h-1zM14 19h1v1h-1z"/><path fill="#ff9393" d="M14 0h1v1h-1zM19 0h1v1h-1zM19 1h1v1h-1zM18 3h1v1h-1zM24 3h2v1h-2zM22 4h1v1h-1zM13 5h1v1h-1zM25 5h1v1h-1zM19 6h1v1h-1zM24 6h1v1h-1zM23 7h1v1h-1zM17 8h1v1h-1zM22 8h1v1h-1zM21 9h1v1h-1zM16 10h1v1h-1zM16 11h1v1h-1zM19 11h1v1h-1zM17 12h2v1h-2zM13 18h1v1h-1zM13 19h1v1h-1z"/><path fill="#ff8c8c" d="M13 1h1v1h-1zM25 4h1v1h-1zM14 5h1v1h-1zM18 7h1v1h-1z"/><path fill="#ff8686" d="M23 4h2v1h-2zM21 5h1v1h-1zM24 5h1v1h-1zM20 6h1v1h-1zM23 6h1v1h-1zM17 9h1v1h-1z"/><path fill="#ff8080" d="M18 0h1v1h-1zM16 4h1v1h-1zM22 5h2v1h-2zM22 7h1v1h-1zM18 8h1v1h-1zM21 8h1v1h-1zM20 9h1v1h-1zM17 10h1v1h-1zM19 10h1v1h-1zM17 11h2v1h-2z"/><path fill="#ff7979" d="M18 1h1v1h-1zM13 2h1v1h-1zM18 2h1v1h-1zM21 6h2v1h-2zM19 7h1v1h-1zM18 9h1v1h-1zM18 10h1v1h-1z"/><path fill="#ff7373" d="M15 0h1v1h-1zM17 0h1v1h-1zM13 3h1v1h-1zM17 3h1v1h-1zM13 4h1v1h-1zM15 4h1v1h-1zM20 7h2v1h-2zM19 8h2v1h-2zM19 9h1v1h-1z"/><path fill="#ff6c6c" d="M16 0h1v1h-1z"/><path fill="#ff6666" d="M14 1h1v1h-1zM17 1h1v1h-1zM14 4h1v1h-1z"/><path fill="#ff6060" d="M14 2h1v1h-1zM17 2h1v1h-1z"/><path fill="#ff5959" d="M15 1h2v1h-2zM14 3h1v1h-1zM16 3h1v1h-1z"/><path fill="#ff4d4d" d="M16 2h1v1h-1zM15 3h1v1h-1z"/><path fill="#ff4646" d="M15 2h1v1h-1z"/></svg>
<path d="M95.43 1882.50v12.5M95.43 2326.00v-12.5M88.50 1889.43h12.5M532.00 1889.43h-12.5M234.02 1882.50v12.5M234.02 2326.00v-12.5M88.50 2028.02h12.5M532.00 2028.02h-12.5M372.62 1882.50v12.5M372.62 2326.00v-12.5M88.50 2166.62h12.5M532.00 2166.62h-12.5M511.21 1882.50v12.5M511.21 2326.00v-12.5M88.50 2305.21h12.5M532.00 2305.21h-12.5" stroke="#000" stroke-width="3.6" fill="none"/>
<path d="M123.15 1882.50v6.4M123.15 2326.00v-6.4M88.50 1917.15h6.4M532.00 1917.15h-6.4M150.87 1882.50v6.4M150.87 2326.00v-6.4M88.50 1944.87h6.4M532.00 1944.87h-6.4M178.59 1882.50v6.4M178.59 2326.00v-6.4M88.50 1972.59h6.4M532.00 1972.59h-6.4M206.30 1882.50v6.4M206.30 2326.00v-6.4M88.50 2000.30h6.4M532.00 2000.30h-6.4M261.74 1882.50v6.4M261.74 2326.00v-6.4M88.50 2055.74h6.4M532.00 2055.74h-6.4M289.46 1882.50v6.4M289.46 2326.00v-6.4M88.50 2083.46h6.4M532.00 2083.46h-6.4M317.18 1882.50v6.4M317.18 2326.00v-6.4M88.50 2111.18h6.4M532.00 2111.18h-6.4M344.90 1882.50v6.4M344.90 2326.00v-6.4M88.50 2138.90h6.4M532.00 2138.90h-6.4M400.34 1882.50v6.4M400.34 2326.00v-6.4M88.50 2194.34h6.4M532.00 2194.34h-6.4M428.05 1882.50v6.4M428.05 2326.00v-6.4M88.50 2222.05h6.4M532.00 2222.05h-6.4M455.77 1882.50v6.4M455.77 2326.00v-6.4M88.50 2249.77h6.4M532.00 2249.77h-6.4M483.49 1882.50v6.4M483.49 2326.00v-6.4M88.50 2277.49h6.4M532.00 2277.49h-6.4" stroke="#000" stroke-width="3" fill="none"/>
<rect x="88.50" y="1882.50" width="443.50" height="443.50" fill="none" stroke="#000" stroke-width="4.4"/>
<text x="95.43" y="2358.50" text-anchor="middle" font-size="33">0</text>
<text x="81.00" y="1901.43" text-anchor="end" font-size="33">0</text>
<text x="234.02" y="2358.50" text-anchor="middle" font-size="33">10</text>
<text x="81.00" y="2040.02" text-anchor="end" font-size="33">10</text>
<text x="372.62" y="2358.50" text-anchor="middle" font-size="33">20</text>
<text x="81.00" y="2178.62" text-anchor="end" font-size="33">20</text>
<text x="511.21" y="2358.50" text-anchor="middle" font-size="33">30</text>
<text x="81.00" y="2317.21" text-anchor="end" font-size="33">30</text>
<text x="309.65" y="1870.50" text-anchor="middle" font-size="32.6">(d) Prediction</text>
<text x="310.25" y="2397.50" text-anchor="middle" font-size="33">X (pixels)</text>
<text transform="translate(25.20 2104.25) rotate(-90)" text-anchor="middle" font-size="33">Y (pixels)</text>
<rect x="560.00" y="1858.50" width="24.50" height="492.00" fill="url(#bwr)" stroke="#000" stroke-width="4"/>
<path d="M584.50 1858.50h12.5" stroke="#000" stroke-width="3.2"/>
<text x="602.90" y="1870.30" font-size="29">1.0</text>
<path d="M584.50 2104.50h12.5" stroke="#000" stroke-width="3.2"/>
<text x="602.90" y="2116.30" font-size="29">0.5</text>
<path d="M584.50 2350.50h12.5" stroke="#000" stroke-width="3.2"/>
<text x="602.90" y="2362.30" font-size="29">0.0</text>
<svg x="757.00" y="1882.50" width="443.50" height="443.50" viewBox="0 0 32 32" preserveAspectRatio="none" shape-rendering="crispEdges"><path fill="#6060ff" d="M14 15h1v1h-1z"/><path fill="#7373ff" d="M14 14h1v1h-1z"/><path fill="#8686ff" d="M13 15h1v1h-1zM14 16h1v1h-1z"/><path fill="#9f9fff" d="M15 15h1v1h-1z"/><path fill="#a6a6ff" d="M13 14h1v1h-1zM15 14h1v1h-1zM13 16h1v1h-1z"/><path fill="#c6c6ff" d="M14 13h1v1h-1zM12 14h1v1h-1zM12 15h1v1h-1z"/><path fill="#ccccff" d="M12 16h1v1h-1z"/><path fill="#d2d2ff" d="M13 13h1v1h-1z"/><path fill="#e6e6ff" d="M10 17h1v1h-1zM0 22h1v1h-1zM0 31h1v1h-1z"/><path fill="#ececff" d="M15 13h1v1h-1zM11 14h1v1h-1zM11 15h1v1h-1zM11 16h1v1h-1zM11 17h1v1h-1zM0 23h1v1h-1zM0 25h1v1h-1zM0 26h1v1h-1zM0 28h1v1h-1zM4 28h1v1h-1zM0 29h1v1h-1zM4 29h1v1h-1zM29 31h1v1h-1zM31 31h1v1h-1z"/><path fill="#f2f2ff" d="M0 1h1v1h-1zM0 2h1v1h-1zM0 5h1v1h-1zM0 6h1v1h-1zM0 9h1v1h-1zM0 12h1v1h-1zM0 14h1v1h-1zM0 17h1v1h-1zM0 18h1v1h-1zM0 19h1v1h-1zM0 20h1v1h-1zM0 21h1v1h-1zM31 21h1v1h-1zM31 23h1v1h-1zM0 24h1v1h-1zM31 24h1v1h-1zM0 27h1v1h-1zM4 27h1v1h-1zM31 28h1v1h-1zM0 30h1v1h-1zM4 30h1v1h-1zM31 30h1v1h-1zM3 31h1v1h-1zM5 31h2v1h-2zM10 31h1v1h-1zM12 31h1v1h-1zM14 31h1v1h-1zM17 31h3v1h-3zM22 31h2v1h-2zM25 31h1v1h-1zM30 31h1v1h-1z"/><path fill="#f9f9ff" d="M0 0h1v1h-1zM0 7h1v1h-1zM0 8h1v1h-1zM0 10h1v1h-1zM0 13h1v1h-1zM11 13h2v1h-2zM31 13h1v1h-1zM0 15h1v1h-1zM31 15h1v1h-1zM0 16h1v1h-1zM28 16h1v1h-1zM31 16h1v1h-1zM5 17h1v1h-1zM23 18h1v1h-1zM29 18h1v1h-1zM11 19h1v1h-1zM25 19h1v1h-1zM29 19h1v1h-1zM31 19h1v1h-1zM1 20h1v1h-1zM10 21h1v1h-1zM26 21h1v1h-1zM29 21h1v1h-1zM1 22h1v1h-1zM5 22h1v1h-1zM9 22h1v1h-1zM18 22h1v1h-1zM23 22h1v1h-1zM29 22h1v1h-1zM31 22h1v1h-1zM3 23h1v1h-1zM7 23h1v1h-1zM17 23h2v1h-2zM24 23h1v1h-1zM27 23h1v1h-1zM3 24h1v1h-1zM12 24h1v1h-1zM15 24h1v1h-1zM17 24h1v1h-1zM19 24h3v1h-3zM26 24h1v1h-1zM1 25h2v1h-2zM7 25h1v1h-1zM9 25h1v1h-1zM16 25h1v1h-1zM18 25h2v1h-2zM23 25h1v1h-1zM25 25h2v1h-2zM30 25h2v1h-2zM14 26h1v1h-1zM24 26h3v1h-3zM30 26h2v1h-2zM7 27h1v1h-1zM13 27h1v1h-1zM17 27h3v1h-3zM28 27h1v1h-1zM31 27h1v1h-1zM17 28h3v1h-3zM21 28h1v1h-1zM25 28h2v1h-2zM6 29h1v1h-1zM9 29h1v1h-1zM11 29h1v1h-1zM15 29h1v1h-1zM17 29h1v1h-1zM19 29h1v1h-1zM21 29h1v1h-1zM23 29h1v1h-1zM27 29h1v1h-1zM31 29h1v1h-1zM6 30h1v1h-1zM12 30h1v1h-1zM19 30h1v1h-1zM1 31h2v1h-2zM4 31h1v1h-1zM7 31h3v1h-3zM11 31h1v1h-1zM13 31h1v1h-1zM15 31h2v1h-2zM20 31h2v1h-2zM24 31h1v1h-1zM26 31h2v1h-2z"/><path fill="#fff9f9" d="M2 0h1v1h-1zM4 0h1v1h-1zM5 1h1v1h-1zM3 2h1v1h-1zM12 2h1v1h-1zM16 2h1v1h-1zM6 3h1v1h-1zM31 3h1v1h-1zM1 4h1v1h-1zM3 4h2v1h-2zM8 4h1v1h-1zM12 4h1v1h-1zM14 4h1v1h-1zM25 4h1v1h-1zM31 4h1v1h-1zM2 5h2v1h-2zM11 5h1v1h-1zM26 5h1v1h-1zM31 5h1v1h-1zM1 6h2v1h-2zM8 6h1v1h-1zM13 6h1v1h-1zM18 6h1v1h-1zM21 6h1v1h-1zM1 7h1v1h-1zM10 7h1v1h-1zM14 7h1v1h-1zM17 7h1v1h-1zM31 7h1v1h-1zM1 8h1v1h-1zM4 8h1v1h-1zM6 8h4v1h-4zM11 8h1v1h-1zM13 8h6v1h-6zM25 8h2v1h-2zM3 9h1v1h-1zM5 9h2v1h-2zM8 9h2v1h-2zM11 9h1v1h-1zM14 9h2v1h-2zM18 9h1v1h-1zM21 9h1v1h-1zM23 9h2v1h-2zM26 9h4v1h-4zM2 10h1v1h-1zM5 10h1v1h-1zM8 10h1v1h-1zM13 10h1v1h-1zM30 10h1v1h-1zM1 11h1v1h-1zM5 11h1v1h-1zM9 11h3v1h-3zM13 11h1v1h-1zM21 11h1v1h-1zM24 11h2v1h-2zM29 11h1v1h-1zM1 12h1v1h-1zM3 12h1v1h-1zM5 12h1v1h-1zM12 12h2v1h-2zM23 12h1v1h-1zM25 12h1v1h-1zM27 12h1v1h-1zM29 12h1v1h-1zM1 13h1v1h-1zM3 13h1v1h-1zM7 13h1v1h-1zM9 13h2v1h-2zM20 13h1v1h-1zM23 13h2v1h-2zM26 13h1v1h-1zM28 13h1v1h-1zM30 13h1v1h-1zM1 14h1v1h-1zM4 14h4v1h-4zM10 14h1v1h-1zM20 14h1v1h-1zM22 14h6v1h-6zM30 14h1v1h-1zM5 15h1v1h-1zM7 15h1v1h-1zM20 15h1v1h-1zM23 15h1v1h-1zM25 15h1v1h-1zM28 15h1v1h-1zM30 15h1v1h-1zM1 16h1v1h-1zM8 16h1v1h-1zM19 16h1v1h-1zM21 16h3v1h-3zM26 16h1v1h-1zM1 17h2v1h-2zM6 17h2v1h-2zM22 17h1v1h-1zM25 17h2v1h-2zM28 17h3v1h-3zM3 18h2v1h-2zM10 18h2v1h-2zM24 18h1v1h-1zM5 19h2v1h-2zM9 19h2v1h-2zM20 19h5v1h-5zM30 19h1v1h-1zM5 20h1v1h-1zM9 20h2v1h-2zM20 20h2v1h-2zM25 20h1v1h-1zM30 20h1v1h-1zM8 21h1v1h-1zM22 21h1v1h-1zM25 21h1v1h-1zM27 21h2v1h-2zM12 22h1v1h-1zM21 23h2v1h-2zM28 23h1v1h-1zM5 24h1v1h-1zM7 24h2v1h-2zM10 24h1v1h-1zM18 24h1v1h-1zM22 24h2v1h-2zM29 24h1v1h-1zM6 25h1v1h-1zM8 25h1v1h-1zM12 25h2v1h-2zM27 25h1v1h-1zM29 25h1v1h-1zM7 26h1v1h-1zM9 26h1v1h-1zM15 26h1v1h-1zM18 26h1v1h-1zM20 26h1v1h-1zM22 26h1v1h-1zM28 26h1v1h-1zM3 27h1v1h-1zM9 27h3v1h-3zM21 27h1v1h-1zM29 27h1v1h-1zM23 28h1v1h-1zM8 29h1v1h-1zM12 29h1v1h-1zM26 29h1v1h-1zM3 30h1v1h-1zM14 30h2v1h-2zM17 30h1v1h-1zM22 30h1v1h-1zM28 30h1v1h-1zM30 30h1v1h-1z"/><path fill="#fff2f2" d="M1 0h1v1h-1zM5 0h5v1h-5zM13 0h1v1h-1zM15 0h1v1h-1zM18 0h1v1h-1zM20 0h1v1h-1zM23 0h1v1h-1zM26 0h3v1h-3zM1 1h2v1h-2zM4 1h1v1h-1zM6 1h1v1h-1zM8 1h1v1h-1zM10 1h1v1h-1zM13 1h1v1h-1zM19 1h2v1h-2zM24 1h1v1h-1zM27 1h2v1h-2zM31 1h1v1h-1zM1 2h2v1h-2zM4 2h3v1h-3zM8 2h1v1h-1zM10 2h1v1h-1zM13 2h1v1h-1zM20 2h2v1h-2zM24 2h1v1h-1zM30 2h2v1h-2zM1 3h1v1h-1zM5 3h1v1h-1zM8 3h1v1h-1zM12 3h2v1h-2zM18 3h4v1h-4zM23 3h2v1h-2zM26 3h1v1h-1zM2 4h1v1h-1zM5 4h2v1h-2zM11 4h1v1h-1zM13 4h1v1h-1zM19 4h1v1h-1zM23 4h2v1h-2zM29 4h1v1h-1zM1 5h1v1h-1zM4 5h4v1h-4zM12 5h1v1h-1zM14 5h1v1h-1zM17 5h2v1h-2zM21 5h3v1h-3zM27 5h2v1h-2zM4 6h4v1h-4zM9 6h2v1h-2zM14 6h1v1h-1zM17 6h1v1h-1zM19 6h2v1h-2zM22 6h7v1h-7zM30 6h1v1h-1zM2 7h8v1h-8zM11 7h1v1h-1zM18 7h12v1h-12zM2 8h2v1h-2zM5 8h1v1h-1zM10 8h1v1h-1zM12 8h1v1h-1zM19 8h2v1h-2zM22 8h2v1h-2zM27 8h4v1h-4zM1 9h2v1h-2zM4 9h1v1h-1zM7 9h1v1h-1zM10 9h1v1h-1zM12 9h2v1h-2zM16 9h2v1h-2zM19 9h2v1h-2zM22 9h1v1h-1zM25 9h1v1h-1zM30 9h1v1h-1zM4 10h1v1h-1zM6 10h2v1h-2zM9 10h2v1h-2zM12 10h1v1h-1zM21 10h1v1h-1zM24 10h3v1h-3zM28 10h2v1h-2zM2 11h1v1h-1zM8 11h1v1h-1zM12 11h1v1h-1zM14 11h1v1h-1zM22 11h2v1h-2zM26 11h1v1h-1zM28 11h1v1h-1zM30 11h1v1h-1zM2 12h1v1h-1zM6 12h3v1h-3zM10 12h2v1h-2zM24 12h1v1h-1zM26 12h1v1h-1zM28 12h1v1h-1zM30 12h1v1h-1zM4 13h1v1h-1zM8 13h1v1h-1zM22 13h1v1h-1zM25 13h1v1h-1zM27 13h1v1h-1zM2 14h1v1h-1zM21 14h1v1h-1zM3 15h1v1h-1zM9 15h2v1h-2zM19 15h1v1h-1zM22 15h1v1h-1zM27 15h1v1h-1zM24 16h1v1h-1zM29 16h1v1h-1zM3 17h1v1h-1zM21 17h1v1h-1zM8 18h1v1h-1zM20 18h1v1h-1zM6 20h1v1h-1zM19 20h1v1h-1zM18 21h1v1h-1zM28 24h1v1h-1zM1 26h1v1h-1zM2 27h1v1h-1zM3 28h1v1h-1zM16 29h1v1h-1z"/><path fill="#ffecec" d="M3 0h1v1h-1zM10 0h1v1h-1zM12 0h1v1h-1zM14 0h1v1h-1zM16 0h1v1h-1zM19 0h1v1h-1zM21 0h2v1h-2zM24 0h2v1h-2zM29 0h3v1h-3zM3 1h1v1h-1zM7 1h1v1h-1zM9 1h1v1h-1zM18 1h1v1h-1zM21 1h3v1h-3zM25 1h2v1h-2zM29 1h2v1h-2zM7 2h1v1h-1zM9 2h1v1h-1zM11 2h1v1h-1zM18 2h2v1h-2zM22 2h2v1h-2zM25 2h5v1h-5zM2 3h1v1h-1zM4 3h1v1h-1zM7 3h1v1h-1zM11 3h1v1h-1zM25 3h1v1h-1zM27 3h4v1h-4zM7 4h1v1h-1zM9 4h2v1h-2zM17 4h2v1h-2zM20 4h3v1h-3zM26 4h3v1h-3zM30 4h1v1h-1zM9 5h2v1h-2zM13 5h1v1h-1zM19 5h2v1h-2zM24 5h2v1h-2zM29 5h2v1h-2zM3 6h1v1h-1zM11 6h2v1h-2zM29 6h1v1h-1zM13 7h1v1h-1zM21 8h1v1h-1zM24 8h1v1h-1zM1 10h1v1h-1zM14 10h1v1h-1zM20 10h1v1h-1zM27 10h1v1h-1zM7 11h1v1h-1zM20 11h1v1h-1zM27 11h1v1h-1zM9 12h1v1h-1zM14 12h1v1h-1zM19 12h4v1h-4zM19 13h1v1h-1zM19 14h1v1h-1zM19 18h1v1h-1zM15 21h1v1h-1zM1 27h1v1h-1zM1 28h2v1h-2zM1 29h3v1h-3zM1 30h2v1h-2z"/><path fill="#ffe6e6" d="M11 0h1v1h-1zM17 0h1v1h-1zM11 1h2v1h-2zM9 3h2v1h-2zM14 3h1v1h-1zM17 3h1v1h-1zM22 3h1v1h-1zM15 4h2v1h-2zM15 5h1v1h-1zM16 7h1v1h-1zM15 10h1v1h-1zM22 10h2v1h-2zM15 12h1v1h-1zM18 19h1v1h-1zM13 21h2v1h-2zM17 21h1v1h-1z"/><path fill="#ffdfdf" d="M15 1h3v1h-3zM17 2h1v1h-1zM8 5h1v1h-1zM16 5h1v1h-1zM15 6h1v1h-1zM15 7h1v1h-1zM16 10h2v1h-2zM19 10h1v1h-1zM19 11h1v1h-1z"/><path fill="#ffd9d9" d="M14 1h1v1h-1zM14 2h1v1h-1zM15 3h1v1h-1zM16 6h1v1h-1zM18 10h1v1h-1zM18 11h1v1h-1zM12 18h1v1h-1zM12 20h1v1h-1z"/><path fill="#ffd2d2" d="M15 11h2v1h-2z"/><path fill="#ffcccc" d="M18 12h1v1h-1zM13 18h1v1h-1zM18 18h1v1h-1zM12 19h1v1h-1zM17 20h1v1h-1z"/><path fill="#ffc6c6" d="M14 18h1v1h-1zM13 19h1v1h-1z"/><path fill="#ffbfbf" d="M15 2h1v1h-1zM17 11h1v1h-1zM18 13h1v1h-1z"/><path fill="#ffb9b9" d="M13 20h1v1h-1z"/><path fill="#ffb2b2" d="M16 12h1v1h-1zM16 13h1v1h-1zM16 14h1v1h-1zM18 14h1v1h-1zM16 15h1v1h-1zM18 15h1v1h-1zM17 19h1v1h-1zM14 20h1v1h-1z"/><path fill="#ffa6a6" d="M17 12h1v1h-1zM17 13h1v1h-1zM18 16h1v1h-1zM18 17h1v1h-1zM15 20h2v1h-2z"/><path fill="#ff9999" d="M14 19h1v1h-1z"/><path fill="#ff8c8c" d="M15 17h1v1h-1z"/><path fill="#ff8686" d="M16 19h1v1h-1z"/><path fill="#ff8080" d="M17 14h1v1h-1zM16 16h1v1h-1zM15 18h1v1h-1zM17 18h1v1h-1zM15 19h1v1h-1z"/><path fill="#ff6666" d="M17 15h1v1h-1z"/><path fill="#ff5353" d="M17 17h1v1h-1z"/><path fill="#ff4d4d" d="M17 16h1v1h-1zM16 17h1v1h-1zM16 18h1v1h-1z"/></svg>
<path d="M763.93 1882.50v12.5M763.93 2326.00v-12.5M757.00 1889.43h12.5M1200.50 1889.43h-12.5M902.52 1882.50v12.5M902.52 2326.00v-12.5M757.00 2028.02h12.5M1200.50 2028.02h-12.5M1041.12 1882.50v12.5M1041.12 2326.00v-12.5M757.00 2166.62h12.5M1200.50 2166.62h-12.5M1179.71 1882.50v12.5M1179.71 2326.00v-12.5M757.00 2305.21h12.5M1200.50 2305.21h-12.5" stroke="#000" stroke-width="3.6" fill="none"/>
<path d="M791.65 1882.50v6.4M791.65 2326.00v-6.4M757.00 1917.15h6.4M1200.50 1917.15h-6.4M819.37 1882.50v6.4M819.37 2326.00v-6.4M757.00 1944.87h6.4M1200.50 1944.87h-6.4M847.09 1882.50v6.4M847.09 2326.00v-6.4M757.00 1972.59h6.4M1200.50 1972.59h-6.4M874.80 1882.50v6.4M874.80 2326.00v-6.4M757.00 2000.30h6.4M1200.50 2000.30h-6.4M930.24 1882.50v6.4M930.24 2326.00v-6.4M757.00 2055.74h6.4M1200.50 2055.74h-6.4M957.96 1882.50v6.4M957.96 2326.00v-6.4M757.00 2083.46h6.4M1200.50 2083.46h-6.4M985.68 1882.50v6.4M985.68 2326.00v-6.4M757.00 2111.18h6.4M1200.50 2111.18h-6.4M1013.40 1882.50v6.4M1013.40 2326.00v-6.4M757.00 2138.90h6.4M1200.50 2138.90h-6.4M1068.84 1882.50v6.4M1068.84 2326.00v-6.4M757.00 2194.34h6.4M1200.50 2194.34h-6.4M1096.55 1882.50v6.4M1096.55 2326.00v-6.4M757.00 2222.05h6.4M1200.50 2222.05h-6.4M1124.27 1882.50v6.4M1124.27 2326.00v-6.4M757.00 2249.77h6.4M1200.50 2249.77h-6.4M1151.99 1882.50v6.4M1151.99 2326.00v-6.4M757.00 2277.49h6.4M1200.50 2277.49h-6.4" stroke="#000" stroke-width="3" fill="none"/>
<rect x="757.00" y="1882.50" width="443.50" height="443.50" fill="none" stroke="#000" stroke-width="4.4"/>
<text x="763.93" y="2358.50" text-anchor="middle" font-size="33">0</text>
<text x="749.50" y="1901.43" text-anchor="end" font-size="33">0</text>
<text x="902.52" y="2358.50" text-anchor="middle" font-size="33">10</text>
<text x="749.50" y="2040.02" text-anchor="end" font-size="33">10</text>
<text x="1041.12" y="2358.50" text-anchor="middle" font-size="33">20</text>
<text x="749.50" y="2178.62" text-anchor="end" font-size="33">20</text>
<text x="1179.71" y="2358.50" text-anchor="middle" font-size="33">30</text>
<text x="749.50" y="2317.21" text-anchor="end" font-size="33">30</text>
<text x="978.15" y="1870.50" text-anchor="middle" font-size="32.6">(e) Residual</text>
<text x="978.75" y="2397.50" text-anchor="middle" font-size="33">X (pixels)</text>
<rect x="1228.50" y="1858.50" width="24.50" height="492.00" fill="url(#bwr)" stroke="#000" stroke-width="4"/>
<path d="M1253.00 1858.50h12.5" stroke="#000" stroke-width="3.2"/>
<text x="1271.40" y="1870.30" font-size="29">0.05</text>
<path d="M1253.00 2104.50h12.5" stroke="#000" stroke-width="3.2"/>
<text x="1271.40" y="2116.30" font-size="29">0.0</text>
<path d="M1253.00 2350.50h12.5" stroke="#000" stroke-width="3.2"/>
<text x="1271.40" y="2362.30" font-size="29">-0.05</text>
<svg x="1425.25" y="1882.50" width="443.50" height="443.50" viewBox="0 0 32 32" preserveAspectRatio="none" shape-rendering="crispEdges"><path fill="#ececff" d="M13 14h1v1h-1zM13 15h1v1h-1z"/><path fill="#f2f2ff" d="M12 14h1v1h-1zM12 15h1v1h-1z"/><path fill="#f9f9ff" d="M13 13h2v1h-2z"/><path fill="#fff9f9" d="M14 1h4v1h-4zM15 10h4v1h-4zM15 11h4v1h-4zM13 16h1v1h-1z"/><path fill="#fff2f2" d="M15 2h1v1h-1zM18 12h1v1h-1zM12 18h1v1h-1zM19 18h1v1h-1zM12 20h1v1h-1zM13 21h3v1h-3z"/><path fill="#ffecec" d="M19 14h1v1h-1zM19 15h1v1h-1zM19 16h1v1h-1zM19 17h1v1h-1zM12 19h1v1h-1zM17 20h1v1h-1z"/><path fill="#ffe6e6" d="M16 12h1v1h-1zM15 13h1v1h-1zM18 13h1v1h-1zM13 17h1v1h-1zM13 19h1v1h-1zM18 19h1v1h-1zM13 20h2v1h-2z"/><path fill="#ffdfdf" d="M17 12h1v1h-1zM14 15h1v1h-1zM13 18h1v1h-1zM15 20h2v1h-2z"/><path fill="#ffcccc" d="M16 13h1v1h-1zM15 14h1v1h-1zM18 14h1v1h-1zM18 18h1v1h-1zM14 19h1v1h-1zM17 19h1v1h-1z"/><path fill="#ffc6c6" d="M17 13h1v1h-1z"/><path fill="#ffbfbf" d="M14 18h1v1h-1z"/><path fill="#ffb2b2" d="M18 15h1v1h-1zM14 16h1v1h-1zM14 17h1v1h-1zM15 19h2v1h-2z"/><path fill="#ffacac" d="M18 17h1v1h-1z"/><path fill="#ff9f9f" d="M18 16h1v1h-1zM17 18h1v1h-1z"/><path fill="#ff9999" d="M16 14h2v1h-2zM15 15h1v1h-1z"/><path fill="#ff9393" d="M15 18h1v1h-1z"/><path fill="#ff8080" d="M16 18h1v1h-1z"/><path fill="#ff6666" d="M17 15h1v1h-1zM15 16h1v1h-1zM15 17h1v1h-1z"/><path fill="#ff6060" d="M17 17h1v1h-1z"/><path fill="#ff5959" d="M16 15h1v1h-1z"/><path fill="#ff4d4d" d="M16 16h2v1h-2zM16 17h1v1h-1z"/></svg>
<path d="M1432.18 1882.50v12.5M1432.18 2326.00v-12.5M1425.25 1889.43h12.5M1868.75 1889.43h-12.5M1570.77 1882.50v12.5M1570.77 2326.00v-12.5M1425.25 2028.02h12.5M1868.75 2028.02h-12.5M1709.37 1882.50v12.5M1709.37 2326.00v-12.5M1425.25 2166.62h12.5M1868.75 2166.62h-12.5M1847.96 1882.50v12.5M1847.96 2326.00v-12.5M1425.25 2305.21h12.5M1868.75 2305.21h-12.5" stroke="#000" stroke-width="3.6" fill="none"/>
<path d="M1459.90 1882.50v6.4M1459.90 2326.00v-6.4M1425.25 1917.15h6.4M1868.75 1917.15h-6.4M1487.62 1882.50v6.4M1487.62 2326.00v-6.4M1425.25 1944.87h6.4M1868.75 1944.87h-6.4M1515.34 1882.50v6.4M1515.34 2326.00v-6.4M1425.25 1972.59h6.4M1868.75 1972.59h-6.4M1543.05 1882.50v6.4M1543.05 2326.00v-6.4M1425.25 2000.30h6.4M1868.75 2000.30h-6.4M1598.49 1882.50v6.4M1598.49 2326.00v-6.4M1425.25 2055.74h6.4M1868.75 2055.74h-6.4M1626.21 1882.50v6.4M1626.21 2326.00v-6.4M1425.25 2083.46h6.4M1868.75 2083.46h-6.4M1653.93 1882.50v6.4M1653.93 2326.00v-6.4M1425.25 2111.18h6.4M1868.75 2111.18h-6.4M1681.65 1882.50v6.4M1681.65 2326.00v-6.4M1425.25 2138.90h6.4M1868.75 2138.90h-6.4M1737.09 1882.50v6.4M1737.09 2326.00v-6.4M1425.25 2194.34h6.4M1868.75 2194.34h-6.4M1764.80 1882.50v6.4M1764.80 2326.00v-6.4M1425.25 2222.05h6.4M1868.75 2222.05h-6.4M1792.52 1882.50v6.4M1792.52 2326.00v-6.4M1425.25 2249.77h6.4M1868.75 2249.77h-6.4M1820.24 1882.50v6.4M1820.24 2326.00v-6.4M1425.25 2277.49h6.4M1868.75 2277.49h-6.4" stroke="#000" stroke-width="3" fill="none"/>
<rect x="1425.25" y="1882.50" width="443.50" height="443.50" fill="none" stroke="#000" stroke-width="4.4"/>
<text x="1432.18" y="2358.50" text-anchor="middle" font-size="33">0</text>
<text x="1417.75" y="1901.43" text-anchor="end" font-size="33">0</text>
<text x="1570.77" y="2358.50" text-anchor="middle" font-size="33">10</text>
<text x="1417.75" y="2040.02" text-anchor="end" font-size="33">10</text>
<text x="1709.37" y="2358.50" text-anchor="middle" font-size="33">20</text>
<text x="1417.75" y="2178.62" text-anchor="end" font-size="33">20</text>
<text x="1847.96" y="2358.50" text-anchor="middle" font-size="33">30</text>
<text x="1417.75" y="2317.21" text-anchor="end" font-size="33">30</text>
<text x="1646.40" y="1870.50" text-anchor="middle" font-size="32.6">(f) Residual Source</text>
<text x="1647.00" y="2397.50" text-anchor="middle" font-size="33">X (pixels)</text>
<rect x="1896.75" y="1858.50" width="24.50" height="492.00" fill="url(#bwr)" stroke="#000" stroke-width="4"/>
<path d="M1921.25 1858.50h12.5" stroke="#000" stroke-width="3.2"/>
<text x="1939.65" y="1870.30" font-size="29">0.2</text>
<path d="M1921.25 2104.50h12.5" stroke="#000" stroke-width="3.2"/>
<text x="1939.65" y="2116.30" font-size="29">0.0</text>
<path d="M1921.25 2350.50h12.5" stroke="#000" stroke-width="3.2"/>
<text x="1939.65" y="2362.30" font-size="29">-0.2</text>
<text x="1001" y="1218" text-anchor="middle" font-size="56" style="font-family:'Liberation Serif',serif">(a)</text>
<text x="993" y="2510.5" text-anchor="middle" font-size="56" style="font-family:'Liberation Serif',serif">(b)</text>
</svg></body></html>
